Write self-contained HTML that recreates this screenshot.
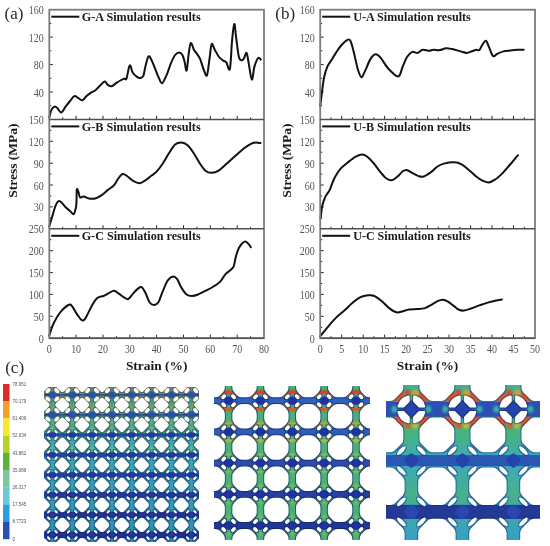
<!DOCTYPE html>
<html><head><meta charset="utf-8"><style>
html,body{margin:0;padding:0;background:#fff;}
svg{display:block;}
.tk{stroke:#222;stroke-width:1;}
.fr{fill:none;stroke:#7c7c7c;stroke-width:1.8;}
.sep{stroke:#505050;stroke-width:1.5;}
.cv{fill:none;stroke:#111;stroke-width:2.0;stroke-linejoin:round;stroke-linecap:round;}
.lg{stroke:#111;stroke-width:2;}
text{font-family:'Liberation Serif', 'DejaVu Serif', serif;}
.yl{font-size:11.6px;fill:#555;text-anchor:end;}
.xl{font-size:11.6px;fill:#555;text-anchor:middle;}
.lt{font-size:12px;font-weight:bold;fill:#1a1a1a;}
.at{font-size:12.3px;font-weight:bold;fill:#1a1a1a;}
.pl{font-size:17px;fill:#2a2a2a;}
.cbl{font-family:'Liberation Sans',sans-serif;font-size:4.5px;fill:#505050;}
</style></head><body>
<svg width="550" height="546" viewBox="0 0 550 546">
<line x1="49.3" y1="92.0" x2="52.8" y2="92.0" class="tk"/>
<line x1="49.3" y1="64.6" x2="52.8" y2="64.6" class="tk"/>
<line x1="49.3" y1="37.1" x2="52.8" y2="37.1" class="tk"/>
<line x1="49.3" y1="105.7" x2="51.3" y2="105.7" class="tk"/>
<line x1="49.3" y1="78.3" x2="51.3" y2="78.3" class="tk"/>
<line x1="49.3" y1="50.8" x2="51.3" y2="50.8" class="tk"/>
<line x1="49.3" y1="23.4" x2="51.3" y2="23.4" class="tk"/>
<line x1="62.7" y1="119.4" x2="62.7" y2="117.4" class="tk"/>
<line x1="76.1" y1="119.4" x2="76.1" y2="115.9" class="tk"/>
<line x1="89.6" y1="119.4" x2="89.6" y2="117.4" class="tk"/>
<line x1="103.0" y1="119.4" x2="103.0" y2="115.9" class="tk"/>
<line x1="116.4" y1="119.4" x2="116.4" y2="117.4" class="tk"/>
<line x1="129.8" y1="119.4" x2="129.8" y2="115.9" class="tk"/>
<line x1="143.2" y1="119.4" x2="143.2" y2="117.4" class="tk"/>
<line x1="156.6" y1="119.4" x2="156.6" y2="115.9" class="tk"/>
<line x1="170.1" y1="119.4" x2="170.1" y2="117.4" class="tk"/>
<line x1="183.5" y1="119.4" x2="183.5" y2="115.9" class="tk"/>
<line x1="196.9" y1="119.4" x2="196.9" y2="117.4" class="tk"/>
<line x1="210.3" y1="119.4" x2="210.3" y2="115.9" class="tk"/>
<line x1="223.7" y1="119.4" x2="223.7" y2="117.4" class="tk"/>
<line x1="237.2" y1="119.4" x2="237.2" y2="115.9" class="tk"/>
<line x1="250.6" y1="119.4" x2="250.6" y2="117.4" class="tk"/>
<text transform="translate(43.8,96.5) scale(0.86,1)" class="yl">40</text>
<text transform="translate(43.8,69.1) scale(0.86,1)" class="yl">80</text>
<text transform="translate(43.8,41.6) scale(0.86,1)" class="yl">120</text>
<text transform="translate(43.8,14.2) scale(0.86,1)" class="yl">160</text>
<line x1="51.3" y1="16.7" x2="79.3" y2="16.7" class="lg"/>
<text x="81.7" y="21.2" class="lt" textLength="119.0" lengthAdjust="spacingAndGlyphs">G-A Simulation results</text>
<path d="M49.2,117.7 C49.6,116.5 50.4,112.2 51.3,110.3 C52.2,108.4 53.4,106.9 54.4,106.6 C55.4,106.3 56.4,107.3 57.5,108.3 C58.6,109.3 59.9,112.8 61.3,112.4 C62.7,112.1 64.4,108.1 65.9,106.2 C67.4,104.3 68.7,102.7 70.1,101.0 C71.5,99.3 72.9,96.6 74.3,96.1 C75.7,95.6 77.1,97.5 78.5,98.2 C79.9,98.9 81.2,100.7 82.6,100.3 C84.0,99.9 85.4,97.0 86.8,95.7 C88.2,94.4 89.6,93.5 91.0,92.6 C92.4,91.7 93.8,91.5 95.2,90.5 C96.6,89.5 97.8,87.8 99.4,86.3 C101.0,84.8 103.2,81.8 104.6,81.5 C106.0,81.2 106.5,84.0 107.7,84.8 C108.9,85.6 110.1,86.6 111.5,86.3 C112.9,86.0 114.6,84.2 116.1,83.2 C117.6,82.2 118.9,81.3 120.3,80.5 C121.7,79.7 123.4,78.9 124.4,78.6 C125.4,78.3 125.6,80.8 126.5,78.6 C127.4,76.4 128.6,66.4 129.7,65.4 C130.8,64.4 131.6,70.8 132.8,72.7 C134.0,74.6 135.8,76.0 137.0,76.9 C138.2,77.8 139.0,78.2 140.1,78.0 C141.2,77.8 142.4,77.8 143.3,75.9 C144.2,74.0 144.5,69.7 145.4,66.4 C146.3,63.2 147.5,57.4 148.5,56.4 C149.5,55.4 150.7,58.5 151.6,60.2 C152.5,61.9 153.1,63.6 154.2,66.4 C155.3,69.2 157.1,74.1 158.4,76.9 C159.7,79.7 160.7,83.6 162.1,83.2 C163.5,82.8 165.2,78.1 166.7,74.8 C168.2,71.5 169.5,66.6 170.9,63.3 C172.3,60.0 173.7,56.8 175.1,55.0 C176.5,53.2 178.1,52.4 179.3,52.4 C180.5,52.4 181.5,53.5 182.4,55.0 C183.3,56.5 183.8,58.6 184.5,61.2 C185.2,63.8 185.9,71.8 186.6,70.6 C187.3,69.4 188.0,58.5 188.7,53.9 C189.4,49.3 189.9,43.7 190.8,43.0 C191.7,42.3 192.9,47.9 193.9,49.7 C194.9,51.5 195.9,52.3 197.0,53.9 C198.1,55.5 199.1,56.7 200.2,59.1 C201.2,61.5 202.2,65.8 203.3,68.5 C204.4,71.2 205.9,77.1 206.9,75.4 C207.9,73.7 208.8,63.3 209.6,58.1 C210.4,52.9 210.8,45.5 211.7,44.1 C212.6,42.7 213.6,47.6 214.8,49.7 C216.0,51.9 217.6,55.2 219.0,57.0 C220.4,58.8 222.0,59.7 223.2,60.6 C224.4,61.5 225.2,60.9 226.3,62.3 C227.4,63.7 229.0,72.5 229.9,69.0 C230.8,65.5 231.3,48.9 232.0,41.4 C232.7,33.9 233.6,24.7 234.3,24.0 C235.0,23.3 235.3,31.7 236.1,37.2 C236.9,42.7 237.9,53.2 238.9,57.0 C239.9,60.8 241.1,60.0 242.0,60.2 C242.9,60.4 243.3,59.3 244.1,58.1 C244.9,56.9 245.8,52.0 246.6,52.9 C247.4,53.8 247.8,58.8 248.7,63.3 C249.6,67.8 250.8,79.1 251.8,79.6 C252.8,80.1 253.4,70.0 254.5,66.4 C255.6,62.8 257.1,59.2 258.1,58.1 C259.2,57.0 260.4,59.4 260.8,59.6" class="cv"/>
<line x1="49.3" y1="206.9" x2="52.8" y2="206.9" class="tk"/>
<line x1="49.3" y1="185.0" x2="52.8" y2="185.0" class="tk"/>
<line x1="49.3" y1="163.2" x2="52.8" y2="163.2" class="tk"/>
<line x1="49.3" y1="141.3" x2="52.8" y2="141.3" class="tk"/>
<line x1="49.3" y1="217.9" x2="51.3" y2="217.9" class="tk"/>
<line x1="49.3" y1="196.0" x2="51.3" y2="196.0" class="tk"/>
<line x1="49.3" y1="174.1" x2="51.3" y2="174.1" class="tk"/>
<line x1="49.3" y1="152.2" x2="51.3" y2="152.2" class="tk"/>
<line x1="49.3" y1="130.3" x2="51.3" y2="130.3" class="tk"/>
<line x1="62.7" y1="228.8" x2="62.7" y2="226.8" class="tk"/>
<line x1="76.1" y1="228.8" x2="76.1" y2="225.3" class="tk"/>
<line x1="89.6" y1="228.8" x2="89.6" y2="226.8" class="tk"/>
<line x1="103.0" y1="228.8" x2="103.0" y2="225.3" class="tk"/>
<line x1="116.4" y1="228.8" x2="116.4" y2="226.8" class="tk"/>
<line x1="129.8" y1="228.8" x2="129.8" y2="225.3" class="tk"/>
<line x1="143.2" y1="228.8" x2="143.2" y2="226.8" class="tk"/>
<line x1="156.6" y1="228.8" x2="156.6" y2="225.3" class="tk"/>
<line x1="170.1" y1="228.8" x2="170.1" y2="226.8" class="tk"/>
<line x1="183.5" y1="228.8" x2="183.5" y2="225.3" class="tk"/>
<line x1="196.9" y1="228.8" x2="196.9" y2="226.8" class="tk"/>
<line x1="210.3" y1="228.8" x2="210.3" y2="225.3" class="tk"/>
<line x1="223.7" y1="228.8" x2="223.7" y2="226.8" class="tk"/>
<line x1="237.2" y1="228.8" x2="237.2" y2="225.3" class="tk"/>
<line x1="250.6" y1="228.8" x2="250.6" y2="226.8" class="tk"/>
<text transform="translate(43.8,211.4) scale(0.86,1)" class="yl">30</text>
<text transform="translate(43.8,189.5) scale(0.86,1)" class="yl">60</text>
<text transform="translate(43.8,167.7) scale(0.86,1)" class="yl">90</text>
<text transform="translate(43.8,145.8) scale(0.86,1)" class="yl">120</text>
<text transform="translate(43.8,123.9) scale(0.86,1)" class="yl">150</text>
<line x1="51.3" y1="126.4" x2="79.3" y2="126.4" class="lg"/>
<text x="81.7" y="130.9" class="lt" textLength="119.0" lengthAdjust="spacingAndGlyphs">G-B Simulation results</text>
<path d="M49.2,226.7 C49.7,225.0 51.2,219.8 52.3,216.3 C53.3,212.8 54.5,208.3 55.5,205.8 C56.5,203.3 57.6,201.7 58.6,201.2 C59.6,200.7 60.5,201.6 61.7,202.7 C62.9,203.8 64.5,206.1 65.9,207.5 C67.3,208.9 68.8,209.9 70.1,211.0 C71.4,212.1 72.7,214.4 73.6,214.2 C74.5,214.0 74.8,211.8 75.3,210.0 C75.8,208.2 76.2,207.1 76.4,203.7 C76.7,200.3 76.5,191.4 76.8,189.5 C77.1,187.6 78.0,190.9 78.5,192.2 C79.0,193.5 79.2,196.7 80.1,197.4 C81.0,198.1 82.2,196.4 83.7,196.6 C85.2,196.8 87.0,198.2 88.9,198.5 C90.8,198.8 93.1,199.0 95.2,198.5 C97.3,198.0 99.3,196.8 101.4,195.4 C103.5,194.0 105.6,191.8 107.7,190.1 C109.8,188.4 112.2,187.2 114.0,185.3 C115.8,183.4 116.7,180.5 118.2,178.6 C119.7,176.7 121.2,174.3 122.8,174.0 C124.4,173.7 125.9,175.4 127.6,176.5 C129.3,177.6 130.8,179.6 132.8,180.7 C134.8,181.8 137.4,183.3 139.5,183.2 C141.6,183.1 143.4,181.6 145.4,180.3 C147.4,179.0 149.8,176.9 151.6,175.5 C153.4,174.1 154.5,173.8 156.3,171.9 C158.1,170.0 160.4,167.1 162.5,164.0 C164.6,160.9 166.7,156.7 168.8,153.5 C170.9,150.3 173.0,146.4 175.1,144.6 C177.2,142.8 179.3,142.4 181.4,142.5 C183.5,142.6 185.5,143.4 187.6,145.2 C189.7,147.0 191.8,150.4 193.9,153.5 C196.0,156.6 198.3,161.1 200.2,164.0 C202.1,166.9 203.5,169.2 205.4,170.7 C207.3,172.2 209.4,172.9 211.7,172.8 C214.0,172.7 216.4,171.9 219.0,170.3 C221.6,168.7 224.6,165.4 227.4,163.0 C230.2,160.6 232.9,158.0 235.7,155.6 C238.5,153.2 241.6,150.2 244.1,148.3 C246.6,146.4 248.5,145.1 250.4,144.1 C252.3,143.1 253.9,142.7 255.6,142.5 C257.3,142.3 259.6,143.0 260.4,143.1" class="cv"/>
<line x1="49.3" y1="316.3" x2="52.8" y2="316.3" class="tk"/>
<line x1="49.3" y1="294.4" x2="52.8" y2="294.4" class="tk"/>
<line x1="49.3" y1="272.6" x2="52.8" y2="272.6" class="tk"/>
<line x1="49.3" y1="250.7" x2="52.8" y2="250.7" class="tk"/>
<line x1="49.3" y1="327.3" x2="51.3" y2="327.3" class="tk"/>
<line x1="49.3" y1="305.4" x2="51.3" y2="305.4" class="tk"/>
<line x1="49.3" y1="283.5" x2="51.3" y2="283.5" class="tk"/>
<line x1="49.3" y1="261.6" x2="51.3" y2="261.6" class="tk"/>
<line x1="49.3" y1="239.7" x2="51.3" y2="239.7" class="tk"/>
<line x1="62.7" y1="338.2" x2="62.7" y2="336.2" class="tk"/>
<line x1="76.1" y1="338.2" x2="76.1" y2="334.7" class="tk"/>
<line x1="89.6" y1="338.2" x2="89.6" y2="336.2" class="tk"/>
<line x1="103.0" y1="338.2" x2="103.0" y2="334.7" class="tk"/>
<line x1="116.4" y1="338.2" x2="116.4" y2="336.2" class="tk"/>
<line x1="129.8" y1="338.2" x2="129.8" y2="334.7" class="tk"/>
<line x1="143.2" y1="338.2" x2="143.2" y2="336.2" class="tk"/>
<line x1="156.6" y1="338.2" x2="156.6" y2="334.7" class="tk"/>
<line x1="170.1" y1="338.2" x2="170.1" y2="336.2" class="tk"/>
<line x1="183.5" y1="338.2" x2="183.5" y2="334.7" class="tk"/>
<line x1="196.9" y1="338.2" x2="196.9" y2="336.2" class="tk"/>
<line x1="210.3" y1="338.2" x2="210.3" y2="334.7" class="tk"/>
<line x1="223.7" y1="338.2" x2="223.7" y2="336.2" class="tk"/>
<line x1="237.2" y1="338.2" x2="237.2" y2="334.7" class="tk"/>
<line x1="250.6" y1="338.2" x2="250.6" y2="336.2" class="tk"/>
<text transform="translate(43.8,342.7) scale(0.86,1)" class="yl">0</text>
<text transform="translate(43.8,320.8) scale(0.86,1)" class="yl">50</text>
<text transform="translate(43.8,298.9) scale(0.86,1)" class="yl">100</text>
<text transform="translate(43.8,277.1) scale(0.86,1)" class="yl">150</text>
<text transform="translate(43.8,255.2) scale(0.86,1)" class="yl">200</text>
<text transform="translate(43.8,233.3) scale(0.86,1)" class="yl">250</text>
<line x1="51.3" y1="235.8" x2="79.3" y2="235.8" class="lg"/>
<text x="81.7" y="240.3" class="lt" textLength="119.0" lengthAdjust="spacingAndGlyphs">G-C Simulation results</text>
<path d="M49.2,335.7 C49.7,334.1 51.1,329.3 52.3,326.3 C53.5,323.3 54.9,320.5 56.5,317.9 C58.1,315.3 59.6,312.8 61.7,310.6 C63.8,308.4 67.2,305.4 69.0,304.7 C70.8,304.0 70.8,304.7 72.2,306.4 C73.6,308.1 75.7,312.4 77.4,314.8 C79.1,317.2 81.0,320.4 82.6,320.6 C84.2,320.8 85.2,318.3 86.8,315.8 C88.4,313.3 90.2,308.4 92.0,305.4 C93.8,302.4 95.4,299.6 97.3,298.0 C99.2,296.4 101.6,296.8 103.5,296.0 C105.4,295.2 107.0,294.1 108.8,293.2 C110.5,292.3 112.3,290.6 114.0,290.7 C115.7,290.8 117.5,292.8 119.2,293.9 C120.9,295.0 122.9,296.7 124.4,297.6 C125.9,298.5 126.8,299.7 128.2,299.1 C129.6,298.5 131.2,295.6 132.8,293.9 C134.4,292.1 136.5,289.7 138.0,288.6 C139.5,287.5 140.4,286.5 141.6,287.2 C142.8,287.9 144.1,290.3 145.4,292.8 C146.7,295.3 148.1,300.2 149.5,302.2 C150.9,304.2 152.2,304.9 153.7,304.9 C155.2,304.9 156.9,304.4 158.4,302.2 C159.9,300.0 160.9,295.4 162.5,291.8 C164.1,288.2 166.1,282.9 167.8,280.3 C169.6,277.8 171.4,276.7 173.0,276.5 C174.6,276.3 175.8,277.3 177.2,279.2 C178.6,281.1 179.8,285.1 181.4,287.6 C183.0,290.2 184.9,293.1 186.6,294.5 C188.3,295.9 189.9,296.0 191.8,296.0 C193.7,296.0 195.7,295.4 198.1,294.5 C200.5,293.6 204.0,291.6 206.4,290.3 C208.8,289.1 210.4,288.4 212.7,287.0 C215.0,285.6 217.9,284.0 220.0,281.9 C222.1,279.8 223.7,276.2 225.3,274.4 C226.9,272.6 228.0,272.2 229.4,270.9 C230.8,269.6 232.6,269.0 233.6,266.7 C234.6,264.4 234.8,260.4 235.7,257.3 C236.6,254.2 237.4,250.5 238.9,247.9 C240.4,245.3 242.9,242.3 244.5,241.6 C246.1,240.9 247.2,242.8 248.3,243.7 C249.4,244.6 250.4,246.6 250.8,247.2" class="cv"/>
<rect x="49.3" y="9.7" width="214.7" height="328.5" class="fr"/>
<line x1="49.3" y1="119.4" x2="264.0" y2="119.4" class="sep"/>
<line x1="49.3" y1="228.8" x2="264.0" y2="228.8" class="sep"/>
<line x1="49.3" y1="338.2" x2="264.0" y2="338.2" class="sep"/>
<text transform="translate(49.3,352.5) scale(0.86,1)" class="xl">0</text>
<text transform="translate(76.1,352.5) scale(0.86,1)" class="xl">10</text>
<text transform="translate(103.0,352.5) scale(0.86,1)" class="xl">20</text>
<text transform="translate(129.8,352.5) scale(0.86,1)" class="xl">30</text>
<text transform="translate(156.6,352.5) scale(0.86,1)" class="xl">40</text>
<text transform="translate(183.5,352.5) scale(0.86,1)" class="xl">50</text>
<text transform="translate(210.3,352.5) scale(0.86,1)" class="xl">60</text>
<text transform="translate(237.2,352.5) scale(0.86,1)" class="xl">70</text>
<text transform="translate(264.0,352.5) scale(0.86,1)" class="xl">80</text>
<text x="125.9" y="369.6" class="at" textLength="61.5" lengthAdjust="spacingAndGlyphs">Strain (%)</text>
<text transform="translate(17.1,197.8) rotate(-90)" class="at" x="0" y="0" textLength="74.4" lengthAdjust="spacingAndGlyphs">Stress (MPa)</text>
<line x1="320.2" y1="92.0" x2="323.7" y2="92.0" class="tk"/>
<line x1="320.2" y1="64.6" x2="323.7" y2="64.6" class="tk"/>
<line x1="320.2" y1="37.1" x2="323.7" y2="37.1" class="tk"/>
<line x1="320.2" y1="105.7" x2="322.2" y2="105.7" class="tk"/>
<line x1="320.2" y1="78.3" x2="322.2" y2="78.3" class="tk"/>
<line x1="320.2" y1="50.8" x2="322.2" y2="50.8" class="tk"/>
<line x1="320.2" y1="23.4" x2="322.2" y2="23.4" class="tk"/>
<line x1="330.9" y1="119.4" x2="330.9" y2="117.4" class="tk"/>
<line x1="341.7" y1="119.4" x2="341.7" y2="115.9" class="tk"/>
<line x1="352.4" y1="119.4" x2="352.4" y2="117.4" class="tk"/>
<line x1="363.2" y1="119.4" x2="363.2" y2="115.9" class="tk"/>
<line x1="373.9" y1="119.4" x2="373.9" y2="117.4" class="tk"/>
<line x1="384.6" y1="119.4" x2="384.6" y2="115.9" class="tk"/>
<line x1="395.4" y1="119.4" x2="395.4" y2="117.4" class="tk"/>
<line x1="406.1" y1="119.4" x2="406.1" y2="115.9" class="tk"/>
<line x1="416.9" y1="119.4" x2="416.9" y2="117.4" class="tk"/>
<line x1="427.6" y1="119.4" x2="427.6" y2="115.9" class="tk"/>
<line x1="438.3" y1="119.4" x2="438.3" y2="117.4" class="tk"/>
<line x1="449.1" y1="119.4" x2="449.1" y2="115.9" class="tk"/>
<line x1="459.8" y1="119.4" x2="459.8" y2="117.4" class="tk"/>
<line x1="470.6" y1="119.4" x2="470.6" y2="115.9" class="tk"/>
<line x1="481.3" y1="119.4" x2="481.3" y2="117.4" class="tk"/>
<line x1="492.0" y1="119.4" x2="492.0" y2="115.9" class="tk"/>
<line x1="502.8" y1="119.4" x2="502.8" y2="117.4" class="tk"/>
<line x1="513.5" y1="119.4" x2="513.5" y2="115.9" class="tk"/>
<line x1="524.3" y1="119.4" x2="524.3" y2="117.4" class="tk"/>
<text transform="translate(314.7,96.5) scale(0.86,1)" class="yl">40</text>
<text transform="translate(314.7,69.1) scale(0.86,1)" class="yl">80</text>
<text transform="translate(314.7,41.6) scale(0.86,1)" class="yl">120</text>
<text transform="translate(314.7,14.2) scale(0.86,1)" class="yl">160</text>
<line x1="322.2" y1="16.7" x2="350.2" y2="16.7" class="lg"/>
<text x="353.2" y="21.2" class="lt" textLength="117.6" lengthAdjust="spacingAndGlyphs">U-A Simulation results</text>
<path d="M320.2,106.2 C320.6,103.4 321.6,94.5 322.3,89.4 C323.0,84.4 323.5,79.7 324.4,75.9 C325.3,72.1 326.3,69.1 327.5,66.4 C328.7,63.7 330.3,62.0 331.7,59.8 C333.1,57.5 334.3,55.3 335.9,52.9 C337.5,50.5 339.2,47.7 341.1,45.5 C343.0,43.3 345.8,40.7 347.4,39.9 C349.0,39.1 349.4,38.9 350.5,40.9 C351.6,42.9 352.5,47.0 353.7,51.8 C354.9,56.6 356.6,65.3 357.9,69.6 C359.2,73.8 360.2,77.1 361.4,77.3 C362.6,77.5 363.7,73.6 365.2,70.6 C366.7,67.6 368.7,61.8 370.4,59.1 C372.1,56.4 373.9,54.5 375.6,54.3 C377.4,54.1 378.8,55.7 380.9,58.1 C383.0,60.5 385.3,65.4 388.2,68.5 C391.1,71.6 395.8,76.8 398.2,76.5 C400.6,76.2 401.3,69.7 402.8,66.4 C404.3,63.2 405.4,59.4 407.0,57.0 C408.6,54.6 410.5,52.5 412.2,51.8 C413.9,51.1 415.6,53.2 417.4,52.9 C419.1,52.5 420.7,50.1 422.7,49.7 C424.7,49.4 427.4,50.8 429.2,50.8 C431.0,50.8 431.7,49.8 433.4,49.7 C435.1,49.6 437.5,50.3 439.6,50.1 C441.7,49.9 443.8,48.5 445.9,48.3 C448.0,48.1 449.8,48.6 452.2,49.1 C454.6,49.6 458.1,50.8 460.5,51.4 C462.9,52.0 464.9,52.9 466.8,52.9 C468.7,52.9 470.4,51.7 472.0,51.2 C473.6,50.7 475.0,49.9 476.2,49.7 C477.4,49.5 478.3,51.0 479.4,50.1 C480.4,49.2 481.4,46.1 482.5,44.5 C483.6,42.9 484.9,40.4 486.0,40.7 C487.1,41.1 487.6,44.1 488.8,46.6 C490.0,49.1 491.6,54.8 493.0,56.0 C494.4,57.2 495.4,54.7 497.1,53.9 C498.8,53.1 501.1,52.0 503.4,51.4 C505.7,50.8 508.4,50.7 510.7,50.4 C513.0,50.1 514.8,49.8 517.0,49.7 C519.2,49.6 522.6,49.7 523.7,49.7" class="cv"/>
<line x1="320.2" y1="206.9" x2="323.7" y2="206.9" class="tk"/>
<line x1="320.2" y1="185.0" x2="323.7" y2="185.0" class="tk"/>
<line x1="320.2" y1="163.2" x2="323.7" y2="163.2" class="tk"/>
<line x1="320.2" y1="141.3" x2="323.7" y2="141.3" class="tk"/>
<line x1="320.2" y1="217.9" x2="322.2" y2="217.9" class="tk"/>
<line x1="320.2" y1="196.0" x2="322.2" y2="196.0" class="tk"/>
<line x1="320.2" y1="174.1" x2="322.2" y2="174.1" class="tk"/>
<line x1="320.2" y1="152.2" x2="322.2" y2="152.2" class="tk"/>
<line x1="320.2" y1="130.3" x2="322.2" y2="130.3" class="tk"/>
<line x1="330.9" y1="228.8" x2="330.9" y2="226.8" class="tk"/>
<line x1="341.7" y1="228.8" x2="341.7" y2="225.3" class="tk"/>
<line x1="352.4" y1="228.8" x2="352.4" y2="226.8" class="tk"/>
<line x1="363.2" y1="228.8" x2="363.2" y2="225.3" class="tk"/>
<line x1="373.9" y1="228.8" x2="373.9" y2="226.8" class="tk"/>
<line x1="384.6" y1="228.8" x2="384.6" y2="225.3" class="tk"/>
<line x1="395.4" y1="228.8" x2="395.4" y2="226.8" class="tk"/>
<line x1="406.1" y1="228.8" x2="406.1" y2="225.3" class="tk"/>
<line x1="416.9" y1="228.8" x2="416.9" y2="226.8" class="tk"/>
<line x1="427.6" y1="228.8" x2="427.6" y2="225.3" class="tk"/>
<line x1="438.3" y1="228.8" x2="438.3" y2="226.8" class="tk"/>
<line x1="449.1" y1="228.8" x2="449.1" y2="225.3" class="tk"/>
<line x1="459.8" y1="228.8" x2="459.8" y2="226.8" class="tk"/>
<line x1="470.6" y1="228.8" x2="470.6" y2="225.3" class="tk"/>
<line x1="481.3" y1="228.8" x2="481.3" y2="226.8" class="tk"/>
<line x1="492.0" y1="228.8" x2="492.0" y2="225.3" class="tk"/>
<line x1="502.8" y1="228.8" x2="502.8" y2="226.8" class="tk"/>
<line x1="513.5" y1="228.8" x2="513.5" y2="225.3" class="tk"/>
<line x1="524.3" y1="228.8" x2="524.3" y2="226.8" class="tk"/>
<text transform="translate(314.7,211.4) scale(0.86,1)" class="yl">30</text>
<text transform="translate(314.7,189.5) scale(0.86,1)" class="yl">60</text>
<text transform="translate(314.7,167.7) scale(0.86,1)" class="yl">90</text>
<text transform="translate(314.7,145.8) scale(0.86,1)" class="yl">120</text>
<text transform="translate(314.7,123.9) scale(0.86,1)" class="yl">150</text>
<line x1="322.2" y1="126.4" x2="350.2" y2="126.4" class="lg"/>
<text x="353.2" y="130.9" class="lt" textLength="117.6" lengthAdjust="spacingAndGlyphs">U-B Simulation results</text>
<path d="M320.6,218.4 C320.9,216.3 321.5,209.5 322.3,205.8 C323.1,202.1 324.3,199.0 325.5,196.4 C326.7,193.8 328.4,192.5 329.6,190.1 C330.8,187.7 331.8,184.2 332.8,181.8 C333.9,179.4 334.5,177.8 335.9,175.5 C337.3,173.2 339.0,170.5 341.1,168.2 C343.2,165.9 346.1,163.8 348.5,161.9 C350.9,160.0 353.6,157.9 355.8,156.7 C358.1,155.5 360.1,154.6 362.0,154.6 C363.9,154.6 365.4,155.3 367.3,156.7 C369.2,158.1 371.4,160.6 373.5,163.0 C375.6,165.4 377.7,168.8 379.8,171.3 C381.9,173.8 384.1,176.7 386.1,178.2 C388.1,179.7 390.0,180.6 391.9,180.3 C393.8,180.0 395.8,178.0 397.6,176.5 C399.4,175.0 401.3,172.4 402.8,171.3 C404.3,170.2 405.0,169.7 406.6,169.9 C408.2,170.2 410.2,171.8 412.2,172.8 C414.2,173.8 416.6,175.5 418.5,176.1 C420.4,176.7 421.6,177.2 423.7,176.5 C425.8,175.8 429.0,173.6 431.3,171.9 C433.6,170.2 435.4,167.9 437.5,166.5 C439.6,165.1 441.0,164.3 443.8,163.6 C446.6,162.9 451.3,162.2 454.3,162.3 C457.3,162.4 459.2,163.1 461.6,164.4 C464.0,165.7 466.5,167.9 468.9,169.9 C471.3,171.9 473.9,174.7 476.2,176.5 C478.5,178.3 480.4,179.7 482.5,180.7 C484.6,181.7 486.7,182.6 488.8,182.4 C490.9,182.2 492.7,181.2 495.0,179.7 C497.3,178.2 499.9,175.8 502.4,173.4 C504.8,171.0 507.1,168.0 509.7,165.0 C512.3,162.0 516.6,156.8 518.0,155.2" class="cv"/>
<line x1="320.2" y1="316.3" x2="323.7" y2="316.3" class="tk"/>
<line x1="320.2" y1="294.4" x2="323.7" y2="294.4" class="tk"/>
<line x1="320.2" y1="272.6" x2="323.7" y2="272.6" class="tk"/>
<line x1="320.2" y1="250.7" x2="323.7" y2="250.7" class="tk"/>
<line x1="320.2" y1="327.3" x2="322.2" y2="327.3" class="tk"/>
<line x1="320.2" y1="305.4" x2="322.2" y2="305.4" class="tk"/>
<line x1="320.2" y1="283.5" x2="322.2" y2="283.5" class="tk"/>
<line x1="320.2" y1="261.6" x2="322.2" y2="261.6" class="tk"/>
<line x1="320.2" y1="239.7" x2="322.2" y2="239.7" class="tk"/>
<line x1="330.9" y1="338.2" x2="330.9" y2="336.2" class="tk"/>
<line x1="341.7" y1="338.2" x2="341.7" y2="334.7" class="tk"/>
<line x1="352.4" y1="338.2" x2="352.4" y2="336.2" class="tk"/>
<line x1="363.2" y1="338.2" x2="363.2" y2="334.7" class="tk"/>
<line x1="373.9" y1="338.2" x2="373.9" y2="336.2" class="tk"/>
<line x1="384.6" y1="338.2" x2="384.6" y2="334.7" class="tk"/>
<line x1="395.4" y1="338.2" x2="395.4" y2="336.2" class="tk"/>
<line x1="406.1" y1="338.2" x2="406.1" y2="334.7" class="tk"/>
<line x1="416.9" y1="338.2" x2="416.9" y2="336.2" class="tk"/>
<line x1="427.6" y1="338.2" x2="427.6" y2="334.7" class="tk"/>
<line x1="438.3" y1="338.2" x2="438.3" y2="336.2" class="tk"/>
<line x1="449.1" y1="338.2" x2="449.1" y2="334.7" class="tk"/>
<line x1="459.8" y1="338.2" x2="459.8" y2="336.2" class="tk"/>
<line x1="470.6" y1="338.2" x2="470.6" y2="334.7" class="tk"/>
<line x1="481.3" y1="338.2" x2="481.3" y2="336.2" class="tk"/>
<line x1="492.0" y1="338.2" x2="492.0" y2="334.7" class="tk"/>
<line x1="502.8" y1="338.2" x2="502.8" y2="336.2" class="tk"/>
<line x1="513.5" y1="338.2" x2="513.5" y2="334.7" class="tk"/>
<line x1="524.3" y1="338.2" x2="524.3" y2="336.2" class="tk"/>
<text transform="translate(314.7,342.7) scale(0.86,1)" class="yl">0</text>
<text transform="translate(314.7,320.8) scale(0.86,1)" class="yl">50</text>
<text transform="translate(314.7,298.9) scale(0.86,1)" class="yl">100</text>
<text transform="translate(314.7,277.1) scale(0.86,1)" class="yl">150</text>
<text transform="translate(314.7,255.2) scale(0.86,1)" class="yl">200</text>
<text transform="translate(314.7,233.3) scale(0.86,1)" class="yl">250</text>
<line x1="322.2" y1="235.8" x2="350.2" y2="235.8" class="lg"/>
<text x="353.2" y="240.3" class="lt" textLength="117.6" lengthAdjust="spacingAndGlyphs">U-C Simulation results</text>
<path d="M320.2,336.3 C321.4,334.8 324.9,330.4 327.5,327.3 C330.1,324.2 333.1,320.7 335.9,317.9 C338.7,315.1 341.5,313.1 344.3,310.6 C347.1,308.1 350.0,305.0 352.6,302.8 C355.2,300.6 357.7,298.6 360.0,297.4 C362.3,296.2 364.5,295.9 366.2,295.5 C367.9,295.1 368.8,295.1 370.4,295.3 C372.0,295.5 373.7,295.6 375.6,296.6 C377.5,297.6 379.6,299.3 381.9,301.2 C384.2,303.1 386.8,306.2 389.2,308.1 C391.6,310.0 394.2,311.8 396.5,312.3 C398.8,312.8 400.7,311.7 402.8,311.2 C404.9,310.7 406.7,309.9 409.1,309.5 C411.5,309.1 414.8,309.3 417.4,309.1 C420.0,308.9 422.7,308.8 425.0,308.1 C427.3,307.4 429.2,306.0 431.3,304.9 C433.4,303.8 435.6,302.1 437.5,301.2 C439.4,300.3 441.1,299.6 442.8,299.7 C444.6,299.8 446.1,300.5 448.0,301.6 C449.9,302.7 452.6,305.1 454.3,306.4 C456.1,307.7 456.9,308.8 458.5,309.5 C460.1,310.2 461.6,310.8 463.7,310.6 C465.8,310.4 468.4,309.4 471.0,308.5 C473.6,307.6 476.6,306.4 479.4,305.4 C482.2,304.4 484.9,303.4 487.7,302.6 C490.5,301.8 493.7,301.0 496.1,300.5 C498.5,300.0 500.9,299.7 501.9,299.5" class="cv"/>
<rect x="320.2" y="9.7" width="214.8" height="328.5" class="fr"/>
<line x1="320.2" y1="119.4" x2="535" y2="119.4" class="sep"/>
<line x1="320.2" y1="228.8" x2="535" y2="228.8" class="sep"/>
<line x1="320.2" y1="338.2" x2="535" y2="338.2" class="sep"/>
<text transform="translate(320.2,352.5) scale(0.86,1)" class="xl">0</text>
<text transform="translate(341.7,352.5) scale(0.86,1)" class="xl">5</text>
<text transform="translate(363.2,352.5) scale(0.86,1)" class="xl">10</text>
<text transform="translate(384.6,352.5) scale(0.86,1)" class="xl">15</text>
<text transform="translate(406.1,352.5) scale(0.86,1)" class="xl">20</text>
<text transform="translate(427.6,352.5) scale(0.86,1)" class="xl">25</text>
<text transform="translate(449.1,352.5) scale(0.86,1)" class="xl">30</text>
<text transform="translate(470.6,352.5) scale(0.86,1)" class="xl">35</text>
<text transform="translate(492.0,352.5) scale(0.86,1)" class="xl">40</text>
<text transform="translate(513.5,352.5) scale(0.86,1)" class="xl">45</text>
<text transform="translate(535.0,352.5) scale(0.86,1)" class="xl">50</text>
<text x="396.8" y="369.6" class="at" textLength="61.5" lengthAdjust="spacingAndGlyphs">Strain (%)</text>
<text transform="translate(291.2,197.8) rotate(-90)" class="at" x="0" y="0" textLength="74.4" lengthAdjust="spacingAndGlyphs">Stress (MPa)</text>
<text x="4.6" y="19.4" class="pl">(a)</text>
<text x="275.3" y="19.4" class="pl">(b)</text>
<text x="5.2" y="372.5" class="pl">(c)</text>
<rect x="3" y="384.0" width="6.5" height="17.4" fill="#e02a2a"/>
<rect x="3" y="401.2" width="6.5" height="17.4" fill="#f2a12a"/>
<rect x="3" y="418.4" width="6.5" height="17.4" fill="#f5e92a"/>
<rect x="3" y="435.7" width="6.5" height="17.4" fill="#b6d12a"/>
<rect x="3" y="452.9" width="6.5" height="17.4" fill="#5db33a"/>
<rect x="3" y="470.1" width="6.5" height="17.4" fill="#7cc6a0"/>
<rect x="3" y="487.3" width="6.5" height="17.4" fill="#6ec6dc"/>
<rect x="3" y="504.5" width="6.5" height="17.4" fill="#2a9ee0"/>
<rect x="3" y="521.8" width="6.5" height="17.4" fill="#2a4fb0"/>
<text x="12.5" y="385.6" class="cbl">78.951</text>
<text x="12.5" y="402.8" class="cbl">70.179</text>
<text x="12.5" y="420.0" class="cbl">61.406</text>
<text x="12.5" y="437.3" class="cbl">52.634</text>
<text x="12.5" y="454.5" class="cbl">43.862</text>
<text x="12.5" y="471.7" class="cbl">35.089</text>
<text x="12.5" y="488.9" class="cbl">26.317</text>
<text x="12.5" y="506.1" class="cbl">17.545</text>
<text x="12.5" y="523.4" class="cbl">8.7723</text>
<text x="12.5" y="540.6" class="cbl">0</text>
<defs><linearGradient id="g1" x1="0" y1="0" x2="0" y2="1"><stop offset="0" stop-color="#a8b848"/><stop offset="0.25" stop-color="#56b47a"/><stop offset="0.55" stop-color="#3aaeb0"/><stop offset="1" stop-color="#2c8cb4"/></linearGradient><linearGradient id="g3r" x1="0" y1="0" x2="0" y2="1"><stop offset="0" stop-color="#d8702c"/><stop offset="0.25" stop-color="#d8482a"/><stop offset="0.38" stop-color="#e0b030"/><stop offset="0.45" stop-color="#3a90c8"/><stop offset="0.55" stop-color="#3a90c8"/><stop offset="0.62" stop-color="#d0c030"/><stop offset="0.75" stop-color="#d8482a"/><stop offset="1" stop-color="#d8802c"/></linearGradient><linearGradient id="g2r" x1="0" y1="0" x2="0" y2="1"><stop offset="0" stop-color="#d83a24"/><stop offset="0.25" stop-color="#e0a030"/><stop offset="0.5" stop-color="#50b070"/><stop offset="0.75" stop-color="#e0a030"/><stop offset="1" stop-color="#d84a24"/></linearGradient><linearGradient id="g3v" gradientUnits="userSpaceOnUse" x1="0" y1="385" x2="0" y2="540"><stop offset="0" stop-color="#40b090"/><stop offset="0.3" stop-color="#48b478"/><stop offset="0.5" stop-color="#3aaac0"/><stop offset="0.7" stop-color="#48b088"/><stop offset="1" stop-color="#34a0c8"/></linearGradient><filter id="sb" x="-5%" y="-5%" width="110%" height="110%"><feGaussianBlur stdDeviation="1.1"/></filter><filter id="fh1" x="-5%" y="-5%" width="110%" height="110%"><feMorphology in="SourceAlpha" operator="dilate" radius="0.5"/><feGaussianBlur stdDeviation="0.4" result="d"/><feFlood flood-color="#14205a" flood-opacity="0.5"/><feComposite in2="d" operator="in"/></filter><filter id="fh2" x="-5%" y="-5%" width="110%" height="110%"><feMorphology in="SourceAlpha" operator="dilate" radius="0.9"/><feGaussianBlur stdDeviation="0.5" result="d"/><feFlood flood-color="#14205a" flood-opacity="0.6"/><feComposite in2="d" operator="in"/></filter><filter id="fh3" x="-5%" y="-5%" width="110%" height="110%"><feMorphology in="SourceAlpha" operator="dilate" radius="0.8"/><feGaussianBlur stdDeviation="0.6" result="d"/><feFlood flood-color="#14205a" flood-opacity="0.45"/><feComposite in2="d" operator="in"/></filter></defs>
<clipPath id="c1"><rect x="44" y="387" width="155.0" height="155.0"/></clipPath>
<clipPath id="c2"><rect x="214" y="386" width="156.0" height="154.0"/></clipPath>
<clipPath id="c3"><rect x="386" y="385" width="154.0" height="155.0"/></clipPath>
<g clip-path="url(#c1)"><rect x="44" y="387" width="155.00" height="155.00" fill="url(#g1)"/>
<ellipse cx="52.40" cy="394.90" rx="6.00" ry="4.60" fill="#8cb850"/>
<ellipse cx="52.40" cy="414.90" rx="6.00" ry="4.71" fill="#5cb070"/>
<ellipse cx="52.40" cy="434.90" rx="6.00" ry="4.83" fill="#3a9cb0"/>
<ellipse cx="52.40" cy="454.90" rx="6.00" ry="4.94" fill="#2e84bc"/>
<ellipse cx="52.40" cy="474.90" rx="6.00" ry="5.06" fill="#2a6cbc"/>
<ellipse cx="52.40" cy="494.90" rx="6.00" ry="5.17" fill="#285cb4"/>
<ellipse cx="52.40" cy="514.90" rx="6.00" ry="5.29" fill="#2650b0"/>
<ellipse cx="52.40" cy="534.90" rx="6.00" ry="5.40" fill="#2448ac"/>
<ellipse cx="72.25" cy="394.90" rx="6.00" ry="4.60" fill="#8cb850"/>
<ellipse cx="72.25" cy="414.90" rx="6.00" ry="4.71" fill="#5cb070"/>
<ellipse cx="72.25" cy="434.90" rx="6.00" ry="4.83" fill="#3a9cb0"/>
<ellipse cx="72.25" cy="454.90" rx="6.00" ry="4.94" fill="#2e84bc"/>
<ellipse cx="72.25" cy="474.90" rx="6.00" ry="5.06" fill="#2a6cbc"/>
<ellipse cx="72.25" cy="494.90" rx="6.00" ry="5.17" fill="#285cb4"/>
<ellipse cx="72.25" cy="514.90" rx="6.00" ry="5.29" fill="#2650b0"/>
<ellipse cx="72.25" cy="534.90" rx="6.00" ry="5.40" fill="#2448ac"/>
<ellipse cx="92.10" cy="394.90" rx="6.00" ry="4.60" fill="#8cb850"/>
<ellipse cx="92.10" cy="414.90" rx="6.00" ry="4.71" fill="#5cb070"/>
<ellipse cx="92.10" cy="434.90" rx="6.00" ry="4.83" fill="#3a9cb0"/>
<ellipse cx="92.10" cy="454.90" rx="6.00" ry="4.94" fill="#2e84bc"/>
<ellipse cx="92.10" cy="474.90" rx="6.00" ry="5.06" fill="#2a6cbc"/>
<ellipse cx="92.10" cy="494.90" rx="6.00" ry="5.17" fill="#285cb4"/>
<ellipse cx="92.10" cy="514.90" rx="6.00" ry="5.29" fill="#2650b0"/>
<ellipse cx="92.10" cy="534.90" rx="6.00" ry="5.40" fill="#2448ac"/>
<ellipse cx="111.95" cy="394.90" rx="6.00" ry="4.60" fill="#8cb850"/>
<ellipse cx="111.95" cy="414.90" rx="6.00" ry="4.71" fill="#5cb070"/>
<ellipse cx="111.95" cy="434.90" rx="6.00" ry="4.83" fill="#3a9cb0"/>
<ellipse cx="111.95" cy="454.90" rx="6.00" ry="4.94" fill="#2e84bc"/>
<ellipse cx="111.95" cy="474.90" rx="6.00" ry="5.06" fill="#2a6cbc"/>
<ellipse cx="111.95" cy="494.90" rx="6.00" ry="5.17" fill="#285cb4"/>
<ellipse cx="111.95" cy="514.90" rx="6.00" ry="5.29" fill="#2650b0"/>
<ellipse cx="111.95" cy="534.90" rx="6.00" ry="5.40" fill="#2448ac"/>
<ellipse cx="131.80" cy="394.90" rx="6.00" ry="4.60" fill="#8cb850"/>
<ellipse cx="131.80" cy="414.90" rx="6.00" ry="4.71" fill="#5cb070"/>
<ellipse cx="131.80" cy="434.90" rx="6.00" ry="4.83" fill="#3a9cb0"/>
<ellipse cx="131.80" cy="454.90" rx="6.00" ry="4.94" fill="#2e84bc"/>
<ellipse cx="131.80" cy="474.90" rx="6.00" ry="5.06" fill="#2a6cbc"/>
<ellipse cx="131.80" cy="494.90" rx="6.00" ry="5.17" fill="#285cb4"/>
<ellipse cx="131.80" cy="514.90" rx="6.00" ry="5.29" fill="#2650b0"/>
<ellipse cx="131.80" cy="534.90" rx="6.00" ry="5.40" fill="#2448ac"/>
<ellipse cx="151.65" cy="394.90" rx="6.00" ry="4.60" fill="#8cb850"/>
<ellipse cx="151.65" cy="414.90" rx="6.00" ry="4.71" fill="#5cb070"/>
<ellipse cx="151.65" cy="434.90" rx="6.00" ry="4.83" fill="#3a9cb0"/>
<ellipse cx="151.65" cy="454.90" rx="6.00" ry="4.94" fill="#2e84bc"/>
<ellipse cx="151.65" cy="474.90" rx="6.00" ry="5.06" fill="#2a6cbc"/>
<ellipse cx="151.65" cy="494.90" rx="6.00" ry="5.17" fill="#285cb4"/>
<ellipse cx="151.65" cy="514.90" rx="6.00" ry="5.29" fill="#2650b0"/>
<ellipse cx="151.65" cy="534.90" rx="6.00" ry="5.40" fill="#2448ac"/>
<ellipse cx="171.50" cy="394.90" rx="6.00" ry="4.60" fill="#8cb850"/>
<ellipse cx="171.50" cy="414.90" rx="6.00" ry="4.71" fill="#5cb070"/>
<ellipse cx="171.50" cy="434.90" rx="6.00" ry="4.83" fill="#3a9cb0"/>
<ellipse cx="171.50" cy="454.90" rx="6.00" ry="4.94" fill="#2e84bc"/>
<ellipse cx="171.50" cy="474.90" rx="6.00" ry="5.06" fill="#2a6cbc"/>
<ellipse cx="171.50" cy="494.90" rx="6.00" ry="5.17" fill="#285cb4"/>
<ellipse cx="171.50" cy="514.90" rx="6.00" ry="5.29" fill="#2650b0"/>
<ellipse cx="171.50" cy="534.90" rx="6.00" ry="5.40" fill="#2448ac"/>
<ellipse cx="191.35" cy="394.90" rx="6.00" ry="4.60" fill="#8cb850"/>
<ellipse cx="191.35" cy="414.90" rx="6.00" ry="4.71" fill="#5cb070"/>
<ellipse cx="191.35" cy="434.90" rx="6.00" ry="4.83" fill="#3a9cb0"/>
<ellipse cx="191.35" cy="454.90" rx="6.00" ry="4.94" fill="#2e84bc"/>
<ellipse cx="191.35" cy="474.90" rx="6.00" ry="5.06" fill="#2a6cbc"/>
<ellipse cx="191.35" cy="494.90" rx="6.00" ry="5.17" fill="#285cb4"/>
<ellipse cx="191.35" cy="514.90" rx="6.00" ry="5.29" fill="#2650b0"/>
<ellipse cx="191.35" cy="534.90" rx="6.00" ry="5.40" fill="#2448ac"/>
<rect x="51.40" y="387.00" width="2.00" height="7.90" fill="#3a9a90"/>
<rect x="51.40" y="394.90" width="2.00" height="20.00" fill="#3a9a90"/>
<rect x="51.26" y="414.90" width="2.29" height="20.00" fill="#3aa0a0"/>
<rect x="51.11" y="434.90" width="2.57" height="20.00" fill="#36a8bc"/>
<rect x="50.97" y="454.90" width="2.86" height="20.00" fill="#34a4bc"/>
<rect x="50.83" y="474.90" width="3.14" height="20.00" fill="#32a0bc"/>
<rect x="50.69" y="494.90" width="3.43" height="20.00" fill="#309ab8"/>
<rect x="50.54" y="514.90" width="3.71" height="20.00" fill="#2e94b4"/>
<rect x="50.40" y="534.90" width="4.00" height="7.10" fill="#2c8cb0"/>
<rect x="71.25" y="387.00" width="2.00" height="7.90" fill="#3a9a90"/>
<rect x="71.25" y="394.90" width="2.00" height="20.00" fill="#3a9a90"/>
<rect x="71.11" y="414.90" width="2.29" height="20.00" fill="#3aa0a0"/>
<rect x="70.96" y="434.90" width="2.57" height="20.00" fill="#36a8bc"/>
<rect x="70.82" y="454.90" width="2.86" height="20.00" fill="#34a4bc"/>
<rect x="70.68" y="474.90" width="3.14" height="20.00" fill="#32a0bc"/>
<rect x="70.54" y="494.90" width="3.43" height="20.00" fill="#309ab8"/>
<rect x="70.39" y="514.90" width="3.71" height="20.00" fill="#2e94b4"/>
<rect x="70.25" y="534.90" width="4.00" height="7.10" fill="#2c8cb0"/>
<rect x="91.10" y="387.00" width="2.00" height="7.90" fill="#3a9a90"/>
<rect x="91.10" y="394.90" width="2.00" height="20.00" fill="#3a9a90"/>
<rect x="90.96" y="414.90" width="2.29" height="20.00" fill="#3aa0a0"/>
<rect x="90.81" y="434.90" width="2.57" height="20.00" fill="#36a8bc"/>
<rect x="90.67" y="454.90" width="2.86" height="20.00" fill="#34a4bc"/>
<rect x="90.53" y="474.90" width="3.14" height="20.00" fill="#32a0bc"/>
<rect x="90.39" y="494.90" width="3.43" height="20.00" fill="#309ab8"/>
<rect x="90.24" y="514.90" width="3.71" height="20.00" fill="#2e94b4"/>
<rect x="90.10" y="534.90" width="4.00" height="7.10" fill="#2c8cb0"/>
<rect x="110.95" y="387.00" width="2.00" height="7.90" fill="#3a9a90"/>
<rect x="110.95" y="394.90" width="2.00" height="20.00" fill="#3a9a90"/>
<rect x="110.81" y="414.90" width="2.29" height="20.00" fill="#3aa0a0"/>
<rect x="110.66" y="434.90" width="2.57" height="20.00" fill="#36a8bc"/>
<rect x="110.52" y="454.90" width="2.86" height="20.00" fill="#34a4bc"/>
<rect x="110.38" y="474.90" width="3.14" height="20.00" fill="#32a0bc"/>
<rect x="110.24" y="494.90" width="3.43" height="20.00" fill="#309ab8"/>
<rect x="110.09" y="514.90" width="3.71" height="20.00" fill="#2e94b4"/>
<rect x="109.95" y="534.90" width="4.00" height="7.10" fill="#2c8cb0"/>
<rect x="130.80" y="387.00" width="2.00" height="7.90" fill="#3a9a90"/>
<rect x="130.80" y="394.90" width="2.00" height="20.00" fill="#3a9a90"/>
<rect x="130.66" y="414.90" width="2.29" height="20.00" fill="#3aa0a0"/>
<rect x="130.51" y="434.90" width="2.57" height="20.00" fill="#36a8bc"/>
<rect x="130.37" y="454.90" width="2.86" height="20.00" fill="#34a4bc"/>
<rect x="130.23" y="474.90" width="3.14" height="20.00" fill="#32a0bc"/>
<rect x="130.09" y="494.90" width="3.43" height="20.00" fill="#309ab8"/>
<rect x="129.94" y="514.90" width="3.71" height="20.00" fill="#2e94b4"/>
<rect x="129.80" y="534.90" width="4.00" height="7.10" fill="#2c8cb0"/>
<rect x="150.65" y="387.00" width="2.00" height="7.90" fill="#3a9a90"/>
<rect x="150.65" y="394.90" width="2.00" height="20.00" fill="#3a9a90"/>
<rect x="150.51" y="414.90" width="2.29" height="20.00" fill="#3aa0a0"/>
<rect x="150.36" y="434.90" width="2.57" height="20.00" fill="#36a8bc"/>
<rect x="150.22" y="454.90" width="2.86" height="20.00" fill="#34a4bc"/>
<rect x="150.08" y="474.90" width="3.14" height="20.00" fill="#32a0bc"/>
<rect x="149.94" y="494.90" width="3.43" height="20.00" fill="#309ab8"/>
<rect x="149.79" y="514.90" width="3.71" height="20.00" fill="#2e94b4"/>
<rect x="149.65" y="534.90" width="4.00" height="7.10" fill="#2c8cb0"/>
<rect x="170.50" y="387.00" width="2.00" height="7.90" fill="#3a9a90"/>
<rect x="170.50" y="394.90" width="2.00" height="20.00" fill="#3a9a90"/>
<rect x="170.36" y="414.90" width="2.29" height="20.00" fill="#3aa0a0"/>
<rect x="170.21" y="434.90" width="2.57" height="20.00" fill="#36a8bc"/>
<rect x="170.07" y="454.90" width="2.86" height="20.00" fill="#34a4bc"/>
<rect x="169.93" y="474.90" width="3.14" height="20.00" fill="#32a0bc"/>
<rect x="169.79" y="494.90" width="3.43" height="20.00" fill="#309ab8"/>
<rect x="169.64" y="514.90" width="3.71" height="20.00" fill="#2e94b4"/>
<rect x="169.50" y="534.90" width="4.00" height="7.10" fill="#2c8cb0"/>
<rect x="190.35" y="387.00" width="2.00" height="7.90" fill="#3a9a90"/>
<rect x="190.35" y="394.90" width="2.00" height="20.00" fill="#3a9a90"/>
<rect x="190.21" y="414.90" width="2.29" height="20.00" fill="#3aa0a0"/>
<rect x="190.06" y="434.90" width="2.57" height="20.00" fill="#36a8bc"/>
<rect x="189.92" y="454.90" width="2.86" height="20.00" fill="#34a4bc"/>
<rect x="189.78" y="474.90" width="3.14" height="20.00" fill="#32a0bc"/>
<rect x="189.64" y="494.90" width="3.43" height="20.00" fill="#309ab8"/>
<rect x="189.49" y="514.90" width="3.71" height="20.00" fill="#2e94b4"/>
<rect x="189.35" y="534.90" width="4.00" height="7.10" fill="#2c8cb0"/>
<rect x="44.00" y="394.20" width="8.40" height="1.40" fill="#1c2c78"/>
<rect x="52.40" y="394.20" width="19.85" height="1.40" fill="#1c2c78"/>
<rect x="72.25" y="394.20" width="19.85" height="1.40" fill="#1c2c78"/>
<rect x="92.10" y="394.20" width="19.85" height="1.40" fill="#1c2c78"/>
<rect x="111.95" y="394.20" width="19.85" height="1.40" fill="#1c2c78"/>
<rect x="131.80" y="394.20" width="19.85" height="1.40" fill="#1c2c78"/>
<rect x="151.65" y="394.20" width="19.85" height="1.40" fill="#1c2c78"/>
<rect x="171.50" y="394.20" width="19.85" height="1.40" fill="#1c2c78"/>
<rect x="191.35" y="394.20" width="7.65" height="1.40" fill="#1c2c78"/>
<rect x="44.00" y="414.20" width="8.40" height="1.40" fill="#1c2c78"/>
<rect x="52.40" y="414.20" width="19.85" height="1.40" fill="#1c2c78"/>
<rect x="72.25" y="414.20" width="19.85" height="1.40" fill="#1c2c78"/>
<rect x="92.10" y="414.20" width="19.85" height="1.40" fill="#1c2c78"/>
<rect x="111.95" y="414.20" width="19.85" height="1.40" fill="#1c2c78"/>
<rect x="131.80" y="414.20" width="19.85" height="1.40" fill="#1c2c78"/>
<rect x="151.65" y="414.20" width="19.85" height="1.40" fill="#1c2c78"/>
<rect x="171.50" y="414.20" width="19.85" height="1.40" fill="#1c2c78"/>
<rect x="191.35" y="414.20" width="7.65" height="1.40" fill="#1c2c78"/>
<rect x="44.00" y="433.19" width="8.40" height="3.43" fill="#2648aa"/>
<rect x="52.40" y="433.19" width="19.85" height="3.43" fill="#2648aa"/>
<rect x="72.25" y="433.19" width="19.85" height="3.43" fill="#2648aa"/>
<rect x="92.10" y="433.19" width="19.85" height="3.43" fill="#2648aa"/>
<rect x="111.95" y="433.19" width="19.85" height="3.43" fill="#2648aa"/>
<rect x="131.80" y="433.19" width="19.85" height="3.43" fill="#2648aa"/>
<rect x="151.65" y="433.19" width="19.85" height="3.43" fill="#2648aa"/>
<rect x="171.50" y="433.19" width="19.85" height="3.43" fill="#2648aa"/>
<rect x="191.35" y="433.19" width="7.65" height="3.43" fill="#2648aa"/>
<rect x="44.00" y="452.83" width="8.40" height="4.14" fill="#2444a8"/>
<rect x="52.40" y="452.83" width="19.85" height="4.14" fill="#2444a8"/>
<rect x="72.25" y="452.83" width="19.85" height="4.14" fill="#2444a8"/>
<rect x="92.10" y="452.83" width="19.85" height="4.14" fill="#2444a8"/>
<rect x="111.95" y="452.83" width="19.85" height="4.14" fill="#2444a8"/>
<rect x="131.80" y="452.83" width="19.85" height="4.14" fill="#2444a8"/>
<rect x="151.65" y="452.83" width="19.85" height="4.14" fill="#2444a8"/>
<rect x="171.50" y="452.83" width="19.85" height="4.14" fill="#2444a8"/>
<rect x="191.35" y="452.83" width="7.65" height="4.14" fill="#2444a8"/>
<rect x="44.00" y="472.47" width="8.40" height="4.86" fill="#2440a4"/>
<rect x="52.40" y="472.47" width="19.85" height="4.86" fill="#2440a4"/>
<rect x="72.25" y="472.47" width="19.85" height="4.86" fill="#2440a4"/>
<rect x="92.10" y="472.47" width="19.85" height="4.86" fill="#2440a4"/>
<rect x="111.95" y="472.47" width="19.85" height="4.86" fill="#2440a4"/>
<rect x="131.80" y="472.47" width="19.85" height="4.86" fill="#2440a4"/>
<rect x="151.65" y="472.47" width="19.85" height="4.86" fill="#2440a4"/>
<rect x="171.50" y="472.47" width="19.85" height="4.86" fill="#2440a4"/>
<rect x="191.35" y="472.47" width="7.65" height="4.86" fill="#2440a4"/>
<rect x="44.00" y="492.11" width="8.40" height="5.57" fill="#223a9e"/>
<rect x="52.40" y="492.11" width="19.85" height="5.57" fill="#223a9e"/>
<rect x="72.25" y="492.11" width="19.85" height="5.57" fill="#223a9e"/>
<rect x="92.10" y="492.11" width="19.85" height="5.57" fill="#223a9e"/>
<rect x="111.95" y="492.11" width="19.85" height="5.57" fill="#223a9e"/>
<rect x="131.80" y="492.11" width="19.85" height="5.57" fill="#223a9e"/>
<rect x="151.65" y="492.11" width="19.85" height="5.57" fill="#223a9e"/>
<rect x="171.50" y="492.11" width="19.85" height="5.57" fill="#223a9e"/>
<rect x="191.35" y="492.11" width="7.65" height="5.57" fill="#223a9e"/>
<rect x="44.00" y="511.76" width="8.40" height="6.29" fill="#203498"/>
<rect x="52.40" y="511.76" width="19.85" height="6.29" fill="#203498"/>
<rect x="72.25" y="511.76" width="19.85" height="6.29" fill="#203498"/>
<rect x="92.10" y="511.76" width="19.85" height="6.29" fill="#203498"/>
<rect x="111.95" y="511.76" width="19.85" height="6.29" fill="#203498"/>
<rect x="131.80" y="511.76" width="19.85" height="6.29" fill="#203498"/>
<rect x="151.65" y="511.76" width="19.85" height="6.29" fill="#203498"/>
<rect x="171.50" y="511.76" width="19.85" height="6.29" fill="#203498"/>
<rect x="191.35" y="511.76" width="7.65" height="6.29" fill="#203498"/>
<rect x="44.00" y="531.40" width="8.40" height="7.00" fill="#1e3094"/>
<rect x="52.40" y="531.40" width="19.85" height="7.00" fill="#1e3094"/>
<rect x="72.25" y="531.40" width="19.85" height="7.00" fill="#1e3094"/>
<rect x="92.10" y="531.40" width="19.85" height="7.00" fill="#1e3094"/>
<rect x="111.95" y="531.40" width="19.85" height="7.00" fill="#1e3094"/>
<rect x="131.80" y="531.40" width="19.85" height="7.00" fill="#1e3094"/>
<rect x="151.65" y="531.40" width="19.85" height="7.00" fill="#1e3094"/>
<rect x="171.50" y="531.40" width="19.85" height="7.00" fill="#1e3094"/>
<rect x="191.35" y="531.40" width="7.65" height="7.00" fill="#1e3094"/>
<g filter="url(#sb)">
<ellipse cx="45.90" cy="389.40" rx="1.60" ry="1.30" fill="#e07a30"/>
<ellipse cx="58.90" cy="389.40" rx="1.60" ry="1.30" fill="#e07a30"/>
<ellipse cx="52.40" cy="387.70" rx="1.40" ry="1.20" fill="#d85030"/>
<ellipse cx="62.30" cy="394.90" rx="2.20" ry="2.00" fill="#2a62b0"/>
<ellipse cx="52.40" cy="408.40" rx="1.20" ry="1.40" fill="#e0c040"/>
<ellipse cx="52.40" cy="421.40" rx="1.20" ry="1.40" fill="#d8d040"/>
<ellipse cx="62.30" cy="414.90" rx="2.20" ry="2.00" fill="#2a62b0"/>
<ellipse cx="52.40" cy="428.40" rx="1.00" ry="1.40" fill="#c8d040"/>
<ellipse cx="52.40" cy="448.40" rx="1.00" ry="1.40" fill="#c8d040"/>
<ellipse cx="65.75" cy="389.40" rx="1.60" ry="1.30" fill="#e07a30"/>
<ellipse cx="78.75" cy="389.40" rx="1.60" ry="1.30" fill="#e07a30"/>
<ellipse cx="72.25" cy="387.70" rx="1.40" ry="1.20" fill="#d85030"/>
<ellipse cx="82.15" cy="394.90" rx="2.20" ry="2.00" fill="#2a62b0"/>
<ellipse cx="72.25" cy="408.40" rx="1.20" ry="1.40" fill="#e0c040"/>
<ellipse cx="72.25" cy="421.40" rx="1.20" ry="1.40" fill="#d8d040"/>
<ellipse cx="82.15" cy="414.90" rx="2.20" ry="2.00" fill="#2a62b0"/>
<ellipse cx="72.25" cy="428.40" rx="1.00" ry="1.40" fill="#c8d040"/>
<ellipse cx="72.25" cy="448.40" rx="1.00" ry="1.40" fill="#c8d040"/>
<ellipse cx="85.60" cy="389.40" rx="1.60" ry="1.30" fill="#e07a30"/>
<ellipse cx="98.60" cy="389.40" rx="1.60" ry="1.30" fill="#e07a30"/>
<ellipse cx="92.10" cy="387.70" rx="1.40" ry="1.20" fill="#d85030"/>
<ellipse cx="102.00" cy="394.90" rx="2.20" ry="2.00" fill="#2a62b0"/>
<ellipse cx="92.10" cy="408.40" rx="1.20" ry="1.40" fill="#e0c040"/>
<ellipse cx="92.10" cy="421.40" rx="1.20" ry="1.40" fill="#d8d040"/>
<ellipse cx="102.00" cy="414.90" rx="2.20" ry="2.00" fill="#2a62b0"/>
<ellipse cx="92.10" cy="428.40" rx="1.00" ry="1.40" fill="#c8d040"/>
<ellipse cx="92.10" cy="448.40" rx="1.00" ry="1.40" fill="#c8d040"/>
<ellipse cx="105.45" cy="389.40" rx="1.60" ry="1.30" fill="#e07a30"/>
<ellipse cx="118.45" cy="389.40" rx="1.60" ry="1.30" fill="#e07a30"/>
<ellipse cx="111.95" cy="387.70" rx="1.40" ry="1.20" fill="#d85030"/>
<ellipse cx="121.85" cy="394.90" rx="2.20" ry="2.00" fill="#2a62b0"/>
<ellipse cx="111.95" cy="408.40" rx="1.20" ry="1.40" fill="#e0c040"/>
<ellipse cx="111.95" cy="421.40" rx="1.20" ry="1.40" fill="#d8d040"/>
<ellipse cx="121.85" cy="414.90" rx="2.20" ry="2.00" fill="#2a62b0"/>
<ellipse cx="111.95" cy="428.40" rx="1.00" ry="1.40" fill="#c8d040"/>
<ellipse cx="111.95" cy="448.40" rx="1.00" ry="1.40" fill="#c8d040"/>
<ellipse cx="125.30" cy="389.40" rx="1.60" ry="1.30" fill="#e07a30"/>
<ellipse cx="138.30" cy="389.40" rx="1.60" ry="1.30" fill="#e07a30"/>
<ellipse cx="131.80" cy="387.70" rx="1.40" ry="1.20" fill="#d85030"/>
<ellipse cx="141.70" cy="394.90" rx="2.20" ry="2.00" fill="#2a62b0"/>
<ellipse cx="131.80" cy="408.40" rx="1.20" ry="1.40" fill="#e0c040"/>
<ellipse cx="131.80" cy="421.40" rx="1.20" ry="1.40" fill="#d8d040"/>
<ellipse cx="141.70" cy="414.90" rx="2.20" ry="2.00" fill="#2a62b0"/>
<ellipse cx="131.80" cy="428.40" rx="1.00" ry="1.40" fill="#c8d040"/>
<ellipse cx="131.80" cy="448.40" rx="1.00" ry="1.40" fill="#c8d040"/>
<ellipse cx="145.15" cy="389.40" rx="1.60" ry="1.30" fill="#e07a30"/>
<ellipse cx="158.15" cy="389.40" rx="1.60" ry="1.30" fill="#e07a30"/>
<ellipse cx="151.65" cy="387.70" rx="1.40" ry="1.20" fill="#d85030"/>
<ellipse cx="161.55" cy="394.90" rx="2.20" ry="2.00" fill="#2a62b0"/>
<ellipse cx="151.65" cy="408.40" rx="1.20" ry="1.40" fill="#e0c040"/>
<ellipse cx="151.65" cy="421.40" rx="1.20" ry="1.40" fill="#d8d040"/>
<ellipse cx="161.55" cy="414.90" rx="2.20" ry="2.00" fill="#2a62b0"/>
<ellipse cx="151.65" cy="428.40" rx="1.00" ry="1.40" fill="#c8d040"/>
<ellipse cx="151.65" cy="448.40" rx="1.00" ry="1.40" fill="#c8d040"/>
<ellipse cx="165.00" cy="389.40" rx="1.60" ry="1.30" fill="#e07a30"/>
<ellipse cx="178.00" cy="389.40" rx="1.60" ry="1.30" fill="#e07a30"/>
<ellipse cx="171.50" cy="387.70" rx="1.40" ry="1.20" fill="#d85030"/>
<ellipse cx="181.40" cy="394.90" rx="2.20" ry="2.00" fill="#2a62b0"/>
<ellipse cx="171.50" cy="408.40" rx="1.20" ry="1.40" fill="#e0c040"/>
<ellipse cx="171.50" cy="421.40" rx="1.20" ry="1.40" fill="#d8d040"/>
<ellipse cx="181.40" cy="414.90" rx="2.20" ry="2.00" fill="#2a62b0"/>
<ellipse cx="171.50" cy="428.40" rx="1.00" ry="1.40" fill="#c8d040"/>
<ellipse cx="171.50" cy="448.40" rx="1.00" ry="1.40" fill="#c8d040"/>
<ellipse cx="184.85" cy="389.40" rx="1.60" ry="1.30" fill="#e07a30"/>
<ellipse cx="197.85" cy="389.40" rx="1.60" ry="1.30" fill="#e07a30"/>
<ellipse cx="191.35" cy="387.70" rx="1.40" ry="1.20" fill="#d85030"/>
<ellipse cx="201.25" cy="394.90" rx="2.20" ry="2.00" fill="#2a62b0"/>
<ellipse cx="191.35" cy="408.40" rx="1.20" ry="1.40" fill="#e0c040"/>
<ellipse cx="191.35" cy="421.40" rx="1.20" ry="1.40" fill="#d8d040"/>
<ellipse cx="201.25" cy="414.90" rx="2.20" ry="2.00" fill="#2a62b0"/>
<ellipse cx="191.35" cy="428.40" rx="1.00" ry="1.40" fill="#c8d040"/>
<ellipse cx="191.35" cy="448.40" rx="1.00" ry="1.40" fill="#c8d040"/>
</g>
<path d="M52.40,391.30 Q55.00,392.30 56.00,394.90 Q55.00,397.50 52.40,398.50 Q49.80,397.50 48.80,394.90 Q49.80,392.30 52.40,391.30Z" fill="#2250b8"/>
<path d="M52.40,411.30 Q55.00,412.30 56.00,414.90 Q55.00,417.50 52.40,418.50 Q49.80,417.50 48.80,414.90 Q49.80,412.30 52.40,411.30Z" fill="#2250b8"/>
<path d="M52.40,431.70 Q54.10,433.20 55.60,434.90 Q54.10,436.60 52.40,438.10 Q50.70,436.60 49.20,434.90 Q50.70,433.20 52.40,431.70Z" fill="#1d3aa4"/>
<path d="M52.40,451.70 Q54.10,453.20 55.60,454.90 Q54.10,456.60 52.40,458.10 Q50.70,456.60 49.20,454.90 Q50.70,453.20 52.40,451.70Z" fill="#1d3aa4"/>
<path d="M52.40,471.70 Q54.10,473.20 55.60,474.90 Q54.10,476.60 52.40,478.10 Q50.70,476.60 49.20,474.90 Q50.70,473.20 52.40,471.70Z" fill="#1d3aa4"/>
<path d="M52.40,491.70 Q54.10,493.20 55.60,494.90 Q54.10,496.60 52.40,498.10 Q50.70,496.60 49.20,494.90 Q50.70,493.20 52.40,491.70Z" fill="#1d3aa4"/>
<path d="M52.40,511.70 Q54.10,513.20 55.60,514.90 Q54.10,516.60 52.40,518.10 Q50.70,516.60 49.20,514.90 Q50.70,513.20 52.40,511.70Z" fill="#1d3aa4"/>
<path d="M52.40,531.70 Q54.10,533.20 55.60,534.90 Q54.10,536.60 52.40,538.10 Q50.70,536.60 49.20,534.90 Q50.70,533.20 52.40,531.70Z" fill="#1d3aa4"/>
<path d="M72.25,391.30 Q74.85,392.30 75.85,394.90 Q74.85,397.50 72.25,398.50 Q69.65,397.50 68.65,394.90 Q69.65,392.30 72.25,391.30Z" fill="#2250b8"/>
<path d="M72.25,411.30 Q74.85,412.30 75.85,414.90 Q74.85,417.50 72.25,418.50 Q69.65,417.50 68.65,414.90 Q69.65,412.30 72.25,411.30Z" fill="#2250b8"/>
<path d="M72.25,431.70 Q73.95,433.20 75.45,434.90 Q73.95,436.60 72.25,438.10 Q70.55,436.60 69.05,434.90 Q70.55,433.20 72.25,431.70Z" fill="#1d3aa4"/>
<path d="M72.25,451.70 Q73.95,453.20 75.45,454.90 Q73.95,456.60 72.25,458.10 Q70.55,456.60 69.05,454.90 Q70.55,453.20 72.25,451.70Z" fill="#1d3aa4"/>
<path d="M72.25,471.70 Q73.95,473.20 75.45,474.90 Q73.95,476.60 72.25,478.10 Q70.55,476.60 69.05,474.90 Q70.55,473.20 72.25,471.70Z" fill="#1d3aa4"/>
<path d="M72.25,491.70 Q73.95,493.20 75.45,494.90 Q73.95,496.60 72.25,498.10 Q70.55,496.60 69.05,494.90 Q70.55,493.20 72.25,491.70Z" fill="#1d3aa4"/>
<path d="M72.25,511.70 Q73.95,513.20 75.45,514.90 Q73.95,516.60 72.25,518.10 Q70.55,516.60 69.05,514.90 Q70.55,513.20 72.25,511.70Z" fill="#1d3aa4"/>
<path d="M72.25,531.70 Q73.95,533.20 75.45,534.90 Q73.95,536.60 72.25,538.10 Q70.55,536.60 69.05,534.90 Q70.55,533.20 72.25,531.70Z" fill="#1d3aa4"/>
<path d="M92.10,391.30 Q94.70,392.30 95.70,394.90 Q94.70,397.50 92.10,398.50 Q89.50,397.50 88.50,394.90 Q89.50,392.30 92.10,391.30Z" fill="#2250b8"/>
<path d="M92.10,411.30 Q94.70,412.30 95.70,414.90 Q94.70,417.50 92.10,418.50 Q89.50,417.50 88.50,414.90 Q89.50,412.30 92.10,411.30Z" fill="#2250b8"/>
<path d="M92.10,431.70 Q93.80,433.20 95.30,434.90 Q93.80,436.60 92.10,438.10 Q90.40,436.60 88.90,434.90 Q90.40,433.20 92.10,431.70Z" fill="#1d3aa4"/>
<path d="M92.10,451.70 Q93.80,453.20 95.30,454.90 Q93.80,456.60 92.10,458.10 Q90.40,456.60 88.90,454.90 Q90.40,453.20 92.10,451.70Z" fill="#1d3aa4"/>
<path d="M92.10,471.70 Q93.80,473.20 95.30,474.90 Q93.80,476.60 92.10,478.10 Q90.40,476.60 88.90,474.90 Q90.40,473.20 92.10,471.70Z" fill="#1d3aa4"/>
<path d="M92.10,491.70 Q93.80,493.20 95.30,494.90 Q93.80,496.60 92.10,498.10 Q90.40,496.60 88.90,494.90 Q90.40,493.20 92.10,491.70Z" fill="#1d3aa4"/>
<path d="M92.10,511.70 Q93.80,513.20 95.30,514.90 Q93.80,516.60 92.10,518.10 Q90.40,516.60 88.90,514.90 Q90.40,513.20 92.10,511.70Z" fill="#1d3aa4"/>
<path d="M92.10,531.70 Q93.80,533.20 95.30,534.90 Q93.80,536.60 92.10,538.10 Q90.40,536.60 88.90,534.90 Q90.40,533.20 92.10,531.70Z" fill="#1d3aa4"/>
<path d="M111.95,391.30 Q114.55,392.30 115.55,394.90 Q114.55,397.50 111.95,398.50 Q109.35,397.50 108.35,394.90 Q109.35,392.30 111.95,391.30Z" fill="#2250b8"/>
<path d="M111.95,411.30 Q114.55,412.30 115.55,414.90 Q114.55,417.50 111.95,418.50 Q109.35,417.50 108.35,414.90 Q109.35,412.30 111.95,411.30Z" fill="#2250b8"/>
<path d="M111.95,431.70 Q113.65,433.20 115.15,434.90 Q113.65,436.60 111.95,438.10 Q110.25,436.60 108.75,434.90 Q110.25,433.20 111.95,431.70Z" fill="#1d3aa4"/>
<path d="M111.95,451.70 Q113.65,453.20 115.15,454.90 Q113.65,456.60 111.95,458.10 Q110.25,456.60 108.75,454.90 Q110.25,453.20 111.95,451.70Z" fill="#1d3aa4"/>
<path d="M111.95,471.70 Q113.65,473.20 115.15,474.90 Q113.65,476.60 111.95,478.10 Q110.25,476.60 108.75,474.90 Q110.25,473.20 111.95,471.70Z" fill="#1d3aa4"/>
<path d="M111.95,491.70 Q113.65,493.20 115.15,494.90 Q113.65,496.60 111.95,498.10 Q110.25,496.60 108.75,494.90 Q110.25,493.20 111.95,491.70Z" fill="#1d3aa4"/>
<path d="M111.95,511.70 Q113.65,513.20 115.15,514.90 Q113.65,516.60 111.95,518.10 Q110.25,516.60 108.75,514.90 Q110.25,513.20 111.95,511.70Z" fill="#1d3aa4"/>
<path d="M111.95,531.70 Q113.65,533.20 115.15,534.90 Q113.65,536.60 111.95,538.10 Q110.25,536.60 108.75,534.90 Q110.25,533.20 111.95,531.70Z" fill="#1d3aa4"/>
<path d="M131.80,391.30 Q134.40,392.30 135.40,394.90 Q134.40,397.50 131.80,398.50 Q129.20,397.50 128.20,394.90 Q129.20,392.30 131.80,391.30Z" fill="#2250b8"/>
<path d="M131.80,411.30 Q134.40,412.30 135.40,414.90 Q134.40,417.50 131.80,418.50 Q129.20,417.50 128.20,414.90 Q129.20,412.30 131.80,411.30Z" fill="#2250b8"/>
<path d="M131.80,431.70 Q133.50,433.20 135.00,434.90 Q133.50,436.60 131.80,438.10 Q130.10,436.60 128.60,434.90 Q130.10,433.20 131.80,431.70Z" fill="#1d3aa4"/>
<path d="M131.80,451.70 Q133.50,453.20 135.00,454.90 Q133.50,456.60 131.80,458.10 Q130.10,456.60 128.60,454.90 Q130.10,453.20 131.80,451.70Z" fill="#1d3aa4"/>
<path d="M131.80,471.70 Q133.50,473.20 135.00,474.90 Q133.50,476.60 131.80,478.10 Q130.10,476.60 128.60,474.90 Q130.10,473.20 131.80,471.70Z" fill="#1d3aa4"/>
<path d="M131.80,491.70 Q133.50,493.20 135.00,494.90 Q133.50,496.60 131.80,498.10 Q130.10,496.60 128.60,494.90 Q130.10,493.20 131.80,491.70Z" fill="#1d3aa4"/>
<path d="M131.80,511.70 Q133.50,513.20 135.00,514.90 Q133.50,516.60 131.80,518.10 Q130.10,516.60 128.60,514.90 Q130.10,513.20 131.80,511.70Z" fill="#1d3aa4"/>
<path d="M131.80,531.70 Q133.50,533.20 135.00,534.90 Q133.50,536.60 131.80,538.10 Q130.10,536.60 128.60,534.90 Q130.10,533.20 131.80,531.70Z" fill="#1d3aa4"/>
<path d="M151.65,391.30 Q154.25,392.30 155.25,394.90 Q154.25,397.50 151.65,398.50 Q149.05,397.50 148.05,394.90 Q149.05,392.30 151.65,391.30Z" fill="#2250b8"/>
<path d="M151.65,411.30 Q154.25,412.30 155.25,414.90 Q154.25,417.50 151.65,418.50 Q149.05,417.50 148.05,414.90 Q149.05,412.30 151.65,411.30Z" fill="#2250b8"/>
<path d="M151.65,431.70 Q153.35,433.20 154.85,434.90 Q153.35,436.60 151.65,438.10 Q149.95,436.60 148.45,434.90 Q149.95,433.20 151.65,431.70Z" fill="#1d3aa4"/>
<path d="M151.65,451.70 Q153.35,453.20 154.85,454.90 Q153.35,456.60 151.65,458.10 Q149.95,456.60 148.45,454.90 Q149.95,453.20 151.65,451.70Z" fill="#1d3aa4"/>
<path d="M151.65,471.70 Q153.35,473.20 154.85,474.90 Q153.35,476.60 151.65,478.10 Q149.95,476.60 148.45,474.90 Q149.95,473.20 151.65,471.70Z" fill="#1d3aa4"/>
<path d="M151.65,491.70 Q153.35,493.20 154.85,494.90 Q153.35,496.60 151.65,498.10 Q149.95,496.60 148.45,494.90 Q149.95,493.20 151.65,491.70Z" fill="#1d3aa4"/>
<path d="M151.65,511.70 Q153.35,513.20 154.85,514.90 Q153.35,516.60 151.65,518.10 Q149.95,516.60 148.45,514.90 Q149.95,513.20 151.65,511.70Z" fill="#1d3aa4"/>
<path d="M151.65,531.70 Q153.35,533.20 154.85,534.90 Q153.35,536.60 151.65,538.10 Q149.95,536.60 148.45,534.90 Q149.95,533.20 151.65,531.70Z" fill="#1d3aa4"/>
<path d="M171.50,391.30 Q174.10,392.30 175.10,394.90 Q174.10,397.50 171.50,398.50 Q168.90,397.50 167.90,394.90 Q168.90,392.30 171.50,391.30Z" fill="#2250b8"/>
<path d="M171.50,411.30 Q174.10,412.30 175.10,414.90 Q174.10,417.50 171.50,418.50 Q168.90,417.50 167.90,414.90 Q168.90,412.30 171.50,411.30Z" fill="#2250b8"/>
<path d="M171.50,431.70 Q173.20,433.20 174.70,434.90 Q173.20,436.60 171.50,438.10 Q169.80,436.60 168.30,434.90 Q169.80,433.20 171.50,431.70Z" fill="#1d3aa4"/>
<path d="M171.50,451.70 Q173.20,453.20 174.70,454.90 Q173.20,456.60 171.50,458.10 Q169.80,456.60 168.30,454.90 Q169.80,453.20 171.50,451.70Z" fill="#1d3aa4"/>
<path d="M171.50,471.70 Q173.20,473.20 174.70,474.90 Q173.20,476.60 171.50,478.10 Q169.80,476.60 168.30,474.90 Q169.80,473.20 171.50,471.70Z" fill="#1d3aa4"/>
<path d="M171.50,491.70 Q173.20,493.20 174.70,494.90 Q173.20,496.60 171.50,498.10 Q169.80,496.60 168.30,494.90 Q169.80,493.20 171.50,491.70Z" fill="#1d3aa4"/>
<path d="M171.50,511.70 Q173.20,513.20 174.70,514.90 Q173.20,516.60 171.50,518.10 Q169.80,516.60 168.30,514.90 Q169.80,513.20 171.50,511.70Z" fill="#1d3aa4"/>
<path d="M171.50,531.70 Q173.20,533.20 174.70,534.90 Q173.20,536.60 171.50,538.10 Q169.80,536.60 168.30,534.90 Q169.80,533.20 171.50,531.70Z" fill="#1d3aa4"/>
<path d="M191.35,391.30 Q193.95,392.30 194.95,394.90 Q193.95,397.50 191.35,398.50 Q188.75,397.50 187.75,394.90 Q188.75,392.30 191.35,391.30Z" fill="#2250b8"/>
<path d="M191.35,411.30 Q193.95,412.30 194.95,414.90 Q193.95,417.50 191.35,418.50 Q188.75,417.50 187.75,414.90 Q188.75,412.30 191.35,411.30Z" fill="#2250b8"/>
<path d="M191.35,431.70 Q193.05,433.20 194.55,434.90 Q193.05,436.60 191.35,438.10 Q189.65,436.60 188.15,434.90 Q189.65,433.20 191.35,431.70Z" fill="#1d3aa4"/>
<path d="M191.35,451.70 Q193.05,453.20 194.55,454.90 Q193.05,456.60 191.35,458.10 Q189.65,456.60 188.15,454.90 Q189.65,453.20 191.35,451.70Z" fill="#1d3aa4"/>
<path d="M191.35,471.70 Q193.05,473.20 194.55,474.90 Q193.05,476.60 191.35,478.10 Q189.65,476.60 188.15,474.90 Q189.65,473.20 191.35,471.70Z" fill="#1d3aa4"/>
<path d="M191.35,491.70 Q193.05,493.20 194.55,494.90 Q193.05,496.60 191.35,498.10 Q189.65,496.60 188.15,494.90 Q189.65,493.20 191.35,491.70Z" fill="#1d3aa4"/>
<path d="M191.35,511.70 Q193.05,513.20 194.55,514.90 Q193.05,516.60 191.35,518.10 Q189.65,516.60 188.15,514.90 Q189.65,513.20 191.35,511.70Z" fill="#1d3aa4"/>
<path d="M191.35,531.70 Q193.05,533.20 194.55,534.90 Q193.05,536.60 191.35,538.10 Q189.65,536.60 188.15,534.90 Q189.65,533.20 191.35,531.70Z" fill="#1d3aa4"/>
<use href="#h1" filter="url(#fh1)"/>
<g id="h1"><ellipse cx="48.00" cy="390.70" rx="3.00" ry="1.80" transform="rotate(-45 48.00 390.70)" fill="#fff"/><ellipse cx="48.00" cy="399.10" rx="3.00" ry="1.80" transform="rotate(45 48.00 399.10)" fill="#fff"/><ellipse cx="56.80" cy="390.70" rx="3.00" ry="1.80" transform="rotate(45 56.80 390.70)" fill="#fff"/><ellipse cx="56.80" cy="399.10" rx="3.00" ry="1.80" transform="rotate(-45 56.80 399.10)" fill="#fff"/><ellipse cx="48.00" cy="410.70" rx="3.00" ry="1.80" transform="rotate(-45 48.00 410.70)" fill="#fff"/><ellipse cx="48.00" cy="419.10" rx="3.00" ry="1.80" transform="rotate(45 48.00 419.10)" fill="#fff"/><ellipse cx="56.80" cy="410.70" rx="3.00" ry="1.80" transform="rotate(45 56.80 410.70)" fill="#fff"/><ellipse cx="56.80" cy="419.10" rx="3.00" ry="1.80" transform="rotate(-45 56.80 419.10)" fill="#fff"/><ellipse cx="48.80" cy="431.70" rx="2.20" ry="1.10" transform="rotate(-45 48.80 431.70)" fill="#fff"/><ellipse cx="48.80" cy="438.10" rx="2.20" ry="1.10" transform="rotate(45 48.80 438.10)" fill="#fff"/><ellipse cx="56.00" cy="431.70" rx="2.20" ry="1.10" transform="rotate(45 56.00 431.70)" fill="#fff"/><ellipse cx="56.00" cy="438.10" rx="2.20" ry="1.10" transform="rotate(-45 56.00 438.10)" fill="#fff"/><ellipse cx="48.80" cy="451.70" rx="2.20" ry="1.10" transform="rotate(-45 48.80 451.70)" fill="#fff"/><ellipse cx="48.80" cy="458.10" rx="2.20" ry="1.10" transform="rotate(45 48.80 458.10)" fill="#fff"/><ellipse cx="56.00" cy="451.70" rx="2.20" ry="1.10" transform="rotate(45 56.00 451.70)" fill="#fff"/><ellipse cx="56.00" cy="458.10" rx="2.20" ry="1.10" transform="rotate(-45 56.00 458.10)" fill="#fff"/><ellipse cx="48.80" cy="471.70" rx="2.20" ry="1.10" transform="rotate(-45 48.80 471.70)" fill="#fff"/><ellipse cx="48.80" cy="478.10" rx="2.20" ry="1.10" transform="rotate(45 48.80 478.10)" fill="#fff"/><ellipse cx="56.00" cy="471.70" rx="2.20" ry="1.10" transform="rotate(45 56.00 471.70)" fill="#fff"/><ellipse cx="56.00" cy="478.10" rx="2.20" ry="1.10" transform="rotate(-45 56.00 478.10)" fill="#fff"/><ellipse cx="48.80" cy="491.70" rx="2.20" ry="1.10" transform="rotate(-45 48.80 491.70)" fill="#fff"/><ellipse cx="48.80" cy="498.10" rx="2.20" ry="1.10" transform="rotate(45 48.80 498.10)" fill="#fff"/><ellipse cx="56.00" cy="491.70" rx="2.20" ry="1.10" transform="rotate(45 56.00 491.70)" fill="#fff"/><ellipse cx="56.00" cy="498.10" rx="2.20" ry="1.10" transform="rotate(-45 56.00 498.10)" fill="#fff"/><ellipse cx="48.80" cy="511.70" rx="2.20" ry="1.10" transform="rotate(-45 48.80 511.70)" fill="#fff"/><ellipse cx="48.80" cy="518.10" rx="2.20" ry="1.10" transform="rotate(45 48.80 518.10)" fill="#fff"/><ellipse cx="56.00" cy="511.70" rx="2.20" ry="1.10" transform="rotate(45 56.00 511.70)" fill="#fff"/><ellipse cx="56.00" cy="518.10" rx="2.20" ry="1.10" transform="rotate(-45 56.00 518.10)" fill="#fff"/><ellipse cx="48.80" cy="531.70" rx="2.20" ry="1.10" transform="rotate(-45 48.80 531.70)" fill="#fff"/><ellipse cx="48.80" cy="538.10" rx="2.20" ry="1.10" transform="rotate(45 48.80 538.10)" fill="#fff"/><ellipse cx="56.00" cy="531.70" rx="2.20" ry="1.10" transform="rotate(45 56.00 531.70)" fill="#fff"/><ellipse cx="56.00" cy="538.10" rx="2.20" ry="1.10" transform="rotate(-45 56.00 538.10)" fill="#fff"/><ellipse cx="67.85" cy="390.70" rx="3.00" ry="1.80" transform="rotate(-45 67.85 390.70)" fill="#fff"/><ellipse cx="67.85" cy="399.10" rx="3.00" ry="1.80" transform="rotate(45 67.85 399.10)" fill="#fff"/><ellipse cx="76.65" cy="390.70" rx="3.00" ry="1.80" transform="rotate(45 76.65 390.70)" fill="#fff"/><ellipse cx="76.65" cy="399.10" rx="3.00" ry="1.80" transform="rotate(-45 76.65 399.10)" fill="#fff"/><ellipse cx="67.85" cy="410.70" rx="3.00" ry="1.80" transform="rotate(-45 67.85 410.70)" fill="#fff"/><ellipse cx="67.85" cy="419.10" rx="3.00" ry="1.80" transform="rotate(45 67.85 419.10)" fill="#fff"/><ellipse cx="76.65" cy="410.70" rx="3.00" ry="1.80" transform="rotate(45 76.65 410.70)" fill="#fff"/><ellipse cx="76.65" cy="419.10" rx="3.00" ry="1.80" transform="rotate(-45 76.65 419.10)" fill="#fff"/><ellipse cx="68.65" cy="431.70" rx="2.20" ry="1.10" transform="rotate(-45 68.65 431.70)" fill="#fff"/><ellipse cx="68.65" cy="438.10" rx="2.20" ry="1.10" transform="rotate(45 68.65 438.10)" fill="#fff"/><ellipse cx="75.85" cy="431.70" rx="2.20" ry="1.10" transform="rotate(45 75.85 431.70)" fill="#fff"/><ellipse cx="75.85" cy="438.10" rx="2.20" ry="1.10" transform="rotate(-45 75.85 438.10)" fill="#fff"/><ellipse cx="68.65" cy="451.70" rx="2.20" ry="1.10" transform="rotate(-45 68.65 451.70)" fill="#fff"/><ellipse cx="68.65" cy="458.10" rx="2.20" ry="1.10" transform="rotate(45 68.65 458.10)" fill="#fff"/><ellipse cx="75.85" cy="451.70" rx="2.20" ry="1.10" transform="rotate(45 75.85 451.70)" fill="#fff"/><ellipse cx="75.85" cy="458.10" rx="2.20" ry="1.10" transform="rotate(-45 75.85 458.10)" fill="#fff"/><ellipse cx="68.65" cy="471.70" rx="2.20" ry="1.10" transform="rotate(-45 68.65 471.70)" fill="#fff"/><ellipse cx="68.65" cy="478.10" rx="2.20" ry="1.10" transform="rotate(45 68.65 478.10)" fill="#fff"/><ellipse cx="75.85" cy="471.70" rx="2.20" ry="1.10" transform="rotate(45 75.85 471.70)" fill="#fff"/><ellipse cx="75.85" cy="478.10" rx="2.20" ry="1.10" transform="rotate(-45 75.85 478.10)" fill="#fff"/><ellipse cx="68.65" cy="491.70" rx="2.20" ry="1.10" transform="rotate(-45 68.65 491.70)" fill="#fff"/><ellipse cx="68.65" cy="498.10" rx="2.20" ry="1.10" transform="rotate(45 68.65 498.10)" fill="#fff"/><ellipse cx="75.85" cy="491.70" rx="2.20" ry="1.10" transform="rotate(45 75.85 491.70)" fill="#fff"/><ellipse cx="75.85" cy="498.10" rx="2.20" ry="1.10" transform="rotate(-45 75.85 498.10)" fill="#fff"/><ellipse cx="68.65" cy="511.70" rx="2.20" ry="1.10" transform="rotate(-45 68.65 511.70)" fill="#fff"/><ellipse cx="68.65" cy="518.10" rx="2.20" ry="1.10" transform="rotate(45 68.65 518.10)" fill="#fff"/><ellipse cx="75.85" cy="511.70" rx="2.20" ry="1.10" transform="rotate(45 75.85 511.70)" fill="#fff"/><ellipse cx="75.85" cy="518.10" rx="2.20" ry="1.10" transform="rotate(-45 75.85 518.10)" fill="#fff"/><ellipse cx="68.65" cy="531.70" rx="2.20" ry="1.10" transform="rotate(-45 68.65 531.70)" fill="#fff"/><ellipse cx="68.65" cy="538.10" rx="2.20" ry="1.10" transform="rotate(45 68.65 538.10)" fill="#fff"/><ellipse cx="75.85" cy="531.70" rx="2.20" ry="1.10" transform="rotate(45 75.85 531.70)" fill="#fff"/><ellipse cx="75.85" cy="538.10" rx="2.20" ry="1.10" transform="rotate(-45 75.85 538.10)" fill="#fff"/><ellipse cx="87.70" cy="390.70" rx="3.00" ry="1.80" transform="rotate(-45 87.70 390.70)" fill="#fff"/><ellipse cx="87.70" cy="399.10" rx="3.00" ry="1.80" transform="rotate(45 87.70 399.10)" fill="#fff"/><ellipse cx="96.50" cy="390.70" rx="3.00" ry="1.80" transform="rotate(45 96.50 390.70)" fill="#fff"/><ellipse cx="96.50" cy="399.10" rx="3.00" ry="1.80" transform="rotate(-45 96.50 399.10)" fill="#fff"/><ellipse cx="87.70" cy="410.70" rx="3.00" ry="1.80" transform="rotate(-45 87.70 410.70)" fill="#fff"/><ellipse cx="87.70" cy="419.10" rx="3.00" ry="1.80" transform="rotate(45 87.70 419.10)" fill="#fff"/><ellipse cx="96.50" cy="410.70" rx="3.00" ry="1.80" transform="rotate(45 96.50 410.70)" fill="#fff"/><ellipse cx="96.50" cy="419.10" rx="3.00" ry="1.80" transform="rotate(-45 96.50 419.10)" fill="#fff"/><ellipse cx="88.50" cy="431.70" rx="2.20" ry="1.10" transform="rotate(-45 88.50 431.70)" fill="#fff"/><ellipse cx="88.50" cy="438.10" rx="2.20" ry="1.10" transform="rotate(45 88.50 438.10)" fill="#fff"/><ellipse cx="95.70" cy="431.70" rx="2.20" ry="1.10" transform="rotate(45 95.70 431.70)" fill="#fff"/><ellipse cx="95.70" cy="438.10" rx="2.20" ry="1.10" transform="rotate(-45 95.70 438.10)" fill="#fff"/><ellipse cx="88.50" cy="451.70" rx="2.20" ry="1.10" transform="rotate(-45 88.50 451.70)" fill="#fff"/><ellipse cx="88.50" cy="458.10" rx="2.20" ry="1.10" transform="rotate(45 88.50 458.10)" fill="#fff"/><ellipse cx="95.70" cy="451.70" rx="2.20" ry="1.10" transform="rotate(45 95.70 451.70)" fill="#fff"/><ellipse cx="95.70" cy="458.10" rx="2.20" ry="1.10" transform="rotate(-45 95.70 458.10)" fill="#fff"/><ellipse cx="88.50" cy="471.70" rx="2.20" ry="1.10" transform="rotate(-45 88.50 471.70)" fill="#fff"/><ellipse cx="88.50" cy="478.10" rx="2.20" ry="1.10" transform="rotate(45 88.50 478.10)" fill="#fff"/><ellipse cx="95.70" cy="471.70" rx="2.20" ry="1.10" transform="rotate(45 95.70 471.70)" fill="#fff"/><ellipse cx="95.70" cy="478.10" rx="2.20" ry="1.10" transform="rotate(-45 95.70 478.10)" fill="#fff"/><ellipse cx="88.50" cy="491.70" rx="2.20" ry="1.10" transform="rotate(-45 88.50 491.70)" fill="#fff"/><ellipse cx="88.50" cy="498.10" rx="2.20" ry="1.10" transform="rotate(45 88.50 498.10)" fill="#fff"/><ellipse cx="95.70" cy="491.70" rx="2.20" ry="1.10" transform="rotate(45 95.70 491.70)" fill="#fff"/><ellipse cx="95.70" cy="498.10" rx="2.20" ry="1.10" transform="rotate(-45 95.70 498.10)" fill="#fff"/><ellipse cx="88.50" cy="511.70" rx="2.20" ry="1.10" transform="rotate(-45 88.50 511.70)" fill="#fff"/><ellipse cx="88.50" cy="518.10" rx="2.20" ry="1.10" transform="rotate(45 88.50 518.10)" fill="#fff"/><ellipse cx="95.70" cy="511.70" rx="2.20" ry="1.10" transform="rotate(45 95.70 511.70)" fill="#fff"/><ellipse cx="95.70" cy="518.10" rx="2.20" ry="1.10" transform="rotate(-45 95.70 518.10)" fill="#fff"/><ellipse cx="88.50" cy="531.70" rx="2.20" ry="1.10" transform="rotate(-45 88.50 531.70)" fill="#fff"/><ellipse cx="88.50" cy="538.10" rx="2.20" ry="1.10" transform="rotate(45 88.50 538.10)" fill="#fff"/><ellipse cx="95.70" cy="531.70" rx="2.20" ry="1.10" transform="rotate(45 95.70 531.70)" fill="#fff"/><ellipse cx="95.70" cy="538.10" rx="2.20" ry="1.10" transform="rotate(-45 95.70 538.10)" fill="#fff"/><ellipse cx="107.55" cy="390.70" rx="3.00" ry="1.80" transform="rotate(-45 107.55 390.70)" fill="#fff"/><ellipse cx="107.55" cy="399.10" rx="3.00" ry="1.80" transform="rotate(45 107.55 399.10)" fill="#fff"/><ellipse cx="116.35" cy="390.70" rx="3.00" ry="1.80" transform="rotate(45 116.35 390.70)" fill="#fff"/><ellipse cx="116.35" cy="399.10" rx="3.00" ry="1.80" transform="rotate(-45 116.35 399.10)" fill="#fff"/><ellipse cx="107.55" cy="410.70" rx="3.00" ry="1.80" transform="rotate(-45 107.55 410.70)" fill="#fff"/><ellipse cx="107.55" cy="419.10" rx="3.00" ry="1.80" transform="rotate(45 107.55 419.10)" fill="#fff"/><ellipse cx="116.35" cy="410.70" rx="3.00" ry="1.80" transform="rotate(45 116.35 410.70)" fill="#fff"/><ellipse cx="116.35" cy="419.10" rx="3.00" ry="1.80" transform="rotate(-45 116.35 419.10)" fill="#fff"/><ellipse cx="108.35" cy="431.70" rx="2.20" ry="1.10" transform="rotate(-45 108.35 431.70)" fill="#fff"/><ellipse cx="108.35" cy="438.10" rx="2.20" ry="1.10" transform="rotate(45 108.35 438.10)" fill="#fff"/><ellipse cx="115.55" cy="431.70" rx="2.20" ry="1.10" transform="rotate(45 115.55 431.70)" fill="#fff"/><ellipse cx="115.55" cy="438.10" rx="2.20" ry="1.10" transform="rotate(-45 115.55 438.10)" fill="#fff"/><ellipse cx="108.35" cy="451.70" rx="2.20" ry="1.10" transform="rotate(-45 108.35 451.70)" fill="#fff"/><ellipse cx="108.35" cy="458.10" rx="2.20" ry="1.10" transform="rotate(45 108.35 458.10)" fill="#fff"/><ellipse cx="115.55" cy="451.70" rx="2.20" ry="1.10" transform="rotate(45 115.55 451.70)" fill="#fff"/><ellipse cx="115.55" cy="458.10" rx="2.20" ry="1.10" transform="rotate(-45 115.55 458.10)" fill="#fff"/><ellipse cx="108.35" cy="471.70" rx="2.20" ry="1.10" transform="rotate(-45 108.35 471.70)" fill="#fff"/><ellipse cx="108.35" cy="478.10" rx="2.20" ry="1.10" transform="rotate(45 108.35 478.10)" fill="#fff"/><ellipse cx="115.55" cy="471.70" rx="2.20" ry="1.10" transform="rotate(45 115.55 471.70)" fill="#fff"/><ellipse cx="115.55" cy="478.10" rx="2.20" ry="1.10" transform="rotate(-45 115.55 478.10)" fill="#fff"/><ellipse cx="108.35" cy="491.70" rx="2.20" ry="1.10" transform="rotate(-45 108.35 491.70)" fill="#fff"/><ellipse cx="108.35" cy="498.10" rx="2.20" ry="1.10" transform="rotate(45 108.35 498.10)" fill="#fff"/><ellipse cx="115.55" cy="491.70" rx="2.20" ry="1.10" transform="rotate(45 115.55 491.70)" fill="#fff"/><ellipse cx="115.55" cy="498.10" rx="2.20" ry="1.10" transform="rotate(-45 115.55 498.10)" fill="#fff"/><ellipse cx="108.35" cy="511.70" rx="2.20" ry="1.10" transform="rotate(-45 108.35 511.70)" fill="#fff"/><ellipse cx="108.35" cy="518.10" rx="2.20" ry="1.10" transform="rotate(45 108.35 518.10)" fill="#fff"/><ellipse cx="115.55" cy="511.70" rx="2.20" ry="1.10" transform="rotate(45 115.55 511.70)" fill="#fff"/><ellipse cx="115.55" cy="518.10" rx="2.20" ry="1.10" transform="rotate(-45 115.55 518.10)" fill="#fff"/><ellipse cx="108.35" cy="531.70" rx="2.20" ry="1.10" transform="rotate(-45 108.35 531.70)" fill="#fff"/><ellipse cx="108.35" cy="538.10" rx="2.20" ry="1.10" transform="rotate(45 108.35 538.10)" fill="#fff"/><ellipse cx="115.55" cy="531.70" rx="2.20" ry="1.10" transform="rotate(45 115.55 531.70)" fill="#fff"/><ellipse cx="115.55" cy="538.10" rx="2.20" ry="1.10" transform="rotate(-45 115.55 538.10)" fill="#fff"/><ellipse cx="127.40" cy="390.70" rx="3.00" ry="1.80" transform="rotate(-45 127.40 390.70)" fill="#fff"/><ellipse cx="127.40" cy="399.10" rx="3.00" ry="1.80" transform="rotate(45 127.40 399.10)" fill="#fff"/><ellipse cx="136.20" cy="390.70" rx="3.00" ry="1.80" transform="rotate(45 136.20 390.70)" fill="#fff"/><ellipse cx="136.20" cy="399.10" rx="3.00" ry="1.80" transform="rotate(-45 136.20 399.10)" fill="#fff"/><ellipse cx="127.40" cy="410.70" rx="3.00" ry="1.80" transform="rotate(-45 127.40 410.70)" fill="#fff"/><ellipse cx="127.40" cy="419.10" rx="3.00" ry="1.80" transform="rotate(45 127.40 419.10)" fill="#fff"/><ellipse cx="136.20" cy="410.70" rx="3.00" ry="1.80" transform="rotate(45 136.20 410.70)" fill="#fff"/><ellipse cx="136.20" cy="419.10" rx="3.00" ry="1.80" transform="rotate(-45 136.20 419.10)" fill="#fff"/><ellipse cx="128.20" cy="431.70" rx="2.20" ry="1.10" transform="rotate(-45 128.20 431.70)" fill="#fff"/><ellipse cx="128.20" cy="438.10" rx="2.20" ry="1.10" transform="rotate(45 128.20 438.10)" fill="#fff"/><ellipse cx="135.40" cy="431.70" rx="2.20" ry="1.10" transform="rotate(45 135.40 431.70)" fill="#fff"/><ellipse cx="135.40" cy="438.10" rx="2.20" ry="1.10" transform="rotate(-45 135.40 438.10)" fill="#fff"/><ellipse cx="128.20" cy="451.70" rx="2.20" ry="1.10" transform="rotate(-45 128.20 451.70)" fill="#fff"/><ellipse cx="128.20" cy="458.10" rx="2.20" ry="1.10" transform="rotate(45 128.20 458.10)" fill="#fff"/><ellipse cx="135.40" cy="451.70" rx="2.20" ry="1.10" transform="rotate(45 135.40 451.70)" fill="#fff"/><ellipse cx="135.40" cy="458.10" rx="2.20" ry="1.10" transform="rotate(-45 135.40 458.10)" fill="#fff"/><ellipse cx="128.20" cy="471.70" rx="2.20" ry="1.10" transform="rotate(-45 128.20 471.70)" fill="#fff"/><ellipse cx="128.20" cy="478.10" rx="2.20" ry="1.10" transform="rotate(45 128.20 478.10)" fill="#fff"/><ellipse cx="135.40" cy="471.70" rx="2.20" ry="1.10" transform="rotate(45 135.40 471.70)" fill="#fff"/><ellipse cx="135.40" cy="478.10" rx="2.20" ry="1.10" transform="rotate(-45 135.40 478.10)" fill="#fff"/><ellipse cx="128.20" cy="491.70" rx="2.20" ry="1.10" transform="rotate(-45 128.20 491.70)" fill="#fff"/><ellipse cx="128.20" cy="498.10" rx="2.20" ry="1.10" transform="rotate(45 128.20 498.10)" fill="#fff"/><ellipse cx="135.40" cy="491.70" rx="2.20" ry="1.10" transform="rotate(45 135.40 491.70)" fill="#fff"/><ellipse cx="135.40" cy="498.10" rx="2.20" ry="1.10" transform="rotate(-45 135.40 498.10)" fill="#fff"/><ellipse cx="128.20" cy="511.70" rx="2.20" ry="1.10" transform="rotate(-45 128.20 511.70)" fill="#fff"/><ellipse cx="128.20" cy="518.10" rx="2.20" ry="1.10" transform="rotate(45 128.20 518.10)" fill="#fff"/><ellipse cx="135.40" cy="511.70" rx="2.20" ry="1.10" transform="rotate(45 135.40 511.70)" fill="#fff"/><ellipse cx="135.40" cy="518.10" rx="2.20" ry="1.10" transform="rotate(-45 135.40 518.10)" fill="#fff"/><ellipse cx="128.20" cy="531.70" rx="2.20" ry="1.10" transform="rotate(-45 128.20 531.70)" fill="#fff"/><ellipse cx="128.20" cy="538.10" rx="2.20" ry="1.10" transform="rotate(45 128.20 538.10)" fill="#fff"/><ellipse cx="135.40" cy="531.70" rx="2.20" ry="1.10" transform="rotate(45 135.40 531.70)" fill="#fff"/><ellipse cx="135.40" cy="538.10" rx="2.20" ry="1.10" transform="rotate(-45 135.40 538.10)" fill="#fff"/><ellipse cx="147.25" cy="390.70" rx="3.00" ry="1.80" transform="rotate(-45 147.25 390.70)" fill="#fff"/><ellipse cx="147.25" cy="399.10" rx="3.00" ry="1.80" transform="rotate(45 147.25 399.10)" fill="#fff"/><ellipse cx="156.05" cy="390.70" rx="3.00" ry="1.80" transform="rotate(45 156.05 390.70)" fill="#fff"/><ellipse cx="156.05" cy="399.10" rx="3.00" ry="1.80" transform="rotate(-45 156.05 399.10)" fill="#fff"/><ellipse cx="147.25" cy="410.70" rx="3.00" ry="1.80" transform="rotate(-45 147.25 410.70)" fill="#fff"/><ellipse cx="147.25" cy="419.10" rx="3.00" ry="1.80" transform="rotate(45 147.25 419.10)" fill="#fff"/><ellipse cx="156.05" cy="410.70" rx="3.00" ry="1.80" transform="rotate(45 156.05 410.70)" fill="#fff"/><ellipse cx="156.05" cy="419.10" rx="3.00" ry="1.80" transform="rotate(-45 156.05 419.10)" fill="#fff"/><ellipse cx="148.05" cy="431.70" rx="2.20" ry="1.10" transform="rotate(-45 148.05 431.70)" fill="#fff"/><ellipse cx="148.05" cy="438.10" rx="2.20" ry="1.10" transform="rotate(45 148.05 438.10)" fill="#fff"/><ellipse cx="155.25" cy="431.70" rx="2.20" ry="1.10" transform="rotate(45 155.25 431.70)" fill="#fff"/><ellipse cx="155.25" cy="438.10" rx="2.20" ry="1.10" transform="rotate(-45 155.25 438.10)" fill="#fff"/><ellipse cx="148.05" cy="451.70" rx="2.20" ry="1.10" transform="rotate(-45 148.05 451.70)" fill="#fff"/><ellipse cx="148.05" cy="458.10" rx="2.20" ry="1.10" transform="rotate(45 148.05 458.10)" fill="#fff"/><ellipse cx="155.25" cy="451.70" rx="2.20" ry="1.10" transform="rotate(45 155.25 451.70)" fill="#fff"/><ellipse cx="155.25" cy="458.10" rx="2.20" ry="1.10" transform="rotate(-45 155.25 458.10)" fill="#fff"/><ellipse cx="148.05" cy="471.70" rx="2.20" ry="1.10" transform="rotate(-45 148.05 471.70)" fill="#fff"/><ellipse cx="148.05" cy="478.10" rx="2.20" ry="1.10" transform="rotate(45 148.05 478.10)" fill="#fff"/><ellipse cx="155.25" cy="471.70" rx="2.20" ry="1.10" transform="rotate(45 155.25 471.70)" fill="#fff"/><ellipse cx="155.25" cy="478.10" rx="2.20" ry="1.10" transform="rotate(-45 155.25 478.10)" fill="#fff"/><ellipse cx="148.05" cy="491.70" rx="2.20" ry="1.10" transform="rotate(-45 148.05 491.70)" fill="#fff"/><ellipse cx="148.05" cy="498.10" rx="2.20" ry="1.10" transform="rotate(45 148.05 498.10)" fill="#fff"/><ellipse cx="155.25" cy="491.70" rx="2.20" ry="1.10" transform="rotate(45 155.25 491.70)" fill="#fff"/><ellipse cx="155.25" cy="498.10" rx="2.20" ry="1.10" transform="rotate(-45 155.25 498.10)" fill="#fff"/><ellipse cx="148.05" cy="511.70" rx="2.20" ry="1.10" transform="rotate(-45 148.05 511.70)" fill="#fff"/><ellipse cx="148.05" cy="518.10" rx="2.20" ry="1.10" transform="rotate(45 148.05 518.10)" fill="#fff"/><ellipse cx="155.25" cy="511.70" rx="2.20" ry="1.10" transform="rotate(45 155.25 511.70)" fill="#fff"/><ellipse cx="155.25" cy="518.10" rx="2.20" ry="1.10" transform="rotate(-45 155.25 518.10)" fill="#fff"/><ellipse cx="148.05" cy="531.70" rx="2.20" ry="1.10" transform="rotate(-45 148.05 531.70)" fill="#fff"/><ellipse cx="148.05" cy="538.10" rx="2.20" ry="1.10" transform="rotate(45 148.05 538.10)" fill="#fff"/><ellipse cx="155.25" cy="531.70" rx="2.20" ry="1.10" transform="rotate(45 155.25 531.70)" fill="#fff"/><ellipse cx="155.25" cy="538.10" rx="2.20" ry="1.10" transform="rotate(-45 155.25 538.10)" fill="#fff"/><ellipse cx="167.10" cy="390.70" rx="3.00" ry="1.80" transform="rotate(-45 167.10 390.70)" fill="#fff"/><ellipse cx="167.10" cy="399.10" rx="3.00" ry="1.80" transform="rotate(45 167.10 399.10)" fill="#fff"/><ellipse cx="175.90" cy="390.70" rx="3.00" ry="1.80" transform="rotate(45 175.90 390.70)" fill="#fff"/><ellipse cx="175.90" cy="399.10" rx="3.00" ry="1.80" transform="rotate(-45 175.90 399.10)" fill="#fff"/><ellipse cx="167.10" cy="410.70" rx="3.00" ry="1.80" transform="rotate(-45 167.10 410.70)" fill="#fff"/><ellipse cx="167.10" cy="419.10" rx="3.00" ry="1.80" transform="rotate(45 167.10 419.10)" fill="#fff"/><ellipse cx="175.90" cy="410.70" rx="3.00" ry="1.80" transform="rotate(45 175.90 410.70)" fill="#fff"/><ellipse cx="175.90" cy="419.10" rx="3.00" ry="1.80" transform="rotate(-45 175.90 419.10)" fill="#fff"/><ellipse cx="167.90" cy="431.70" rx="2.20" ry="1.10" transform="rotate(-45 167.90 431.70)" fill="#fff"/><ellipse cx="167.90" cy="438.10" rx="2.20" ry="1.10" transform="rotate(45 167.90 438.10)" fill="#fff"/><ellipse cx="175.10" cy="431.70" rx="2.20" ry="1.10" transform="rotate(45 175.10 431.70)" fill="#fff"/><ellipse cx="175.10" cy="438.10" rx="2.20" ry="1.10" transform="rotate(-45 175.10 438.10)" fill="#fff"/><ellipse cx="167.90" cy="451.70" rx="2.20" ry="1.10" transform="rotate(-45 167.90 451.70)" fill="#fff"/><ellipse cx="167.90" cy="458.10" rx="2.20" ry="1.10" transform="rotate(45 167.90 458.10)" fill="#fff"/><ellipse cx="175.10" cy="451.70" rx="2.20" ry="1.10" transform="rotate(45 175.10 451.70)" fill="#fff"/><ellipse cx="175.10" cy="458.10" rx="2.20" ry="1.10" transform="rotate(-45 175.10 458.10)" fill="#fff"/><ellipse cx="167.90" cy="471.70" rx="2.20" ry="1.10" transform="rotate(-45 167.90 471.70)" fill="#fff"/><ellipse cx="167.90" cy="478.10" rx="2.20" ry="1.10" transform="rotate(45 167.90 478.10)" fill="#fff"/><ellipse cx="175.10" cy="471.70" rx="2.20" ry="1.10" transform="rotate(45 175.10 471.70)" fill="#fff"/><ellipse cx="175.10" cy="478.10" rx="2.20" ry="1.10" transform="rotate(-45 175.10 478.10)" fill="#fff"/><ellipse cx="167.90" cy="491.70" rx="2.20" ry="1.10" transform="rotate(-45 167.90 491.70)" fill="#fff"/><ellipse cx="167.90" cy="498.10" rx="2.20" ry="1.10" transform="rotate(45 167.90 498.10)" fill="#fff"/><ellipse cx="175.10" cy="491.70" rx="2.20" ry="1.10" transform="rotate(45 175.10 491.70)" fill="#fff"/><ellipse cx="175.10" cy="498.10" rx="2.20" ry="1.10" transform="rotate(-45 175.10 498.10)" fill="#fff"/><ellipse cx="167.90" cy="511.70" rx="2.20" ry="1.10" transform="rotate(-45 167.90 511.70)" fill="#fff"/><ellipse cx="167.90" cy="518.10" rx="2.20" ry="1.10" transform="rotate(45 167.90 518.10)" fill="#fff"/><ellipse cx="175.10" cy="511.70" rx="2.20" ry="1.10" transform="rotate(45 175.10 511.70)" fill="#fff"/><ellipse cx="175.10" cy="518.10" rx="2.20" ry="1.10" transform="rotate(-45 175.10 518.10)" fill="#fff"/><ellipse cx="167.90" cy="531.70" rx="2.20" ry="1.10" transform="rotate(-45 167.90 531.70)" fill="#fff"/><ellipse cx="167.90" cy="538.10" rx="2.20" ry="1.10" transform="rotate(45 167.90 538.10)" fill="#fff"/><ellipse cx="175.10" cy="531.70" rx="2.20" ry="1.10" transform="rotate(45 175.10 531.70)" fill="#fff"/><ellipse cx="175.10" cy="538.10" rx="2.20" ry="1.10" transform="rotate(-45 175.10 538.10)" fill="#fff"/><ellipse cx="186.95" cy="390.70" rx="3.00" ry="1.80" transform="rotate(-45 186.95 390.70)" fill="#fff"/><ellipse cx="186.95" cy="399.10" rx="3.00" ry="1.80" transform="rotate(45 186.95 399.10)" fill="#fff"/><ellipse cx="195.75" cy="390.70" rx="3.00" ry="1.80" transform="rotate(45 195.75 390.70)" fill="#fff"/><ellipse cx="195.75" cy="399.10" rx="3.00" ry="1.80" transform="rotate(-45 195.75 399.10)" fill="#fff"/><ellipse cx="186.95" cy="410.70" rx="3.00" ry="1.80" transform="rotate(-45 186.95 410.70)" fill="#fff"/><ellipse cx="186.95" cy="419.10" rx="3.00" ry="1.80" transform="rotate(45 186.95 419.10)" fill="#fff"/><ellipse cx="195.75" cy="410.70" rx="3.00" ry="1.80" transform="rotate(45 195.75 410.70)" fill="#fff"/><ellipse cx="195.75" cy="419.10" rx="3.00" ry="1.80" transform="rotate(-45 195.75 419.10)" fill="#fff"/><ellipse cx="187.75" cy="431.70" rx="2.20" ry="1.10" transform="rotate(-45 187.75 431.70)" fill="#fff"/><ellipse cx="187.75" cy="438.10" rx="2.20" ry="1.10" transform="rotate(45 187.75 438.10)" fill="#fff"/><ellipse cx="194.95" cy="431.70" rx="2.20" ry="1.10" transform="rotate(45 194.95 431.70)" fill="#fff"/><ellipse cx="194.95" cy="438.10" rx="2.20" ry="1.10" transform="rotate(-45 194.95 438.10)" fill="#fff"/><ellipse cx="187.75" cy="451.70" rx="2.20" ry="1.10" transform="rotate(-45 187.75 451.70)" fill="#fff"/><ellipse cx="187.75" cy="458.10" rx="2.20" ry="1.10" transform="rotate(45 187.75 458.10)" fill="#fff"/><ellipse cx="194.95" cy="451.70" rx="2.20" ry="1.10" transform="rotate(45 194.95 451.70)" fill="#fff"/><ellipse cx="194.95" cy="458.10" rx="2.20" ry="1.10" transform="rotate(-45 194.95 458.10)" fill="#fff"/><ellipse cx="187.75" cy="471.70" rx="2.20" ry="1.10" transform="rotate(-45 187.75 471.70)" fill="#fff"/><ellipse cx="187.75" cy="478.10" rx="2.20" ry="1.10" transform="rotate(45 187.75 478.10)" fill="#fff"/><ellipse cx="194.95" cy="471.70" rx="2.20" ry="1.10" transform="rotate(45 194.95 471.70)" fill="#fff"/><ellipse cx="194.95" cy="478.10" rx="2.20" ry="1.10" transform="rotate(-45 194.95 478.10)" fill="#fff"/><ellipse cx="187.75" cy="491.70" rx="2.20" ry="1.10" transform="rotate(-45 187.75 491.70)" fill="#fff"/><ellipse cx="187.75" cy="498.10" rx="2.20" ry="1.10" transform="rotate(45 187.75 498.10)" fill="#fff"/><ellipse cx="194.95" cy="491.70" rx="2.20" ry="1.10" transform="rotate(45 194.95 491.70)" fill="#fff"/><ellipse cx="194.95" cy="498.10" rx="2.20" ry="1.10" transform="rotate(-45 194.95 498.10)" fill="#fff"/><ellipse cx="187.75" cy="511.70" rx="2.20" ry="1.10" transform="rotate(-45 187.75 511.70)" fill="#fff"/><ellipse cx="187.75" cy="518.10" rx="2.20" ry="1.10" transform="rotate(45 187.75 518.10)" fill="#fff"/><ellipse cx="194.95" cy="511.70" rx="2.20" ry="1.10" transform="rotate(45 194.95 511.70)" fill="#fff"/><ellipse cx="194.95" cy="518.10" rx="2.20" ry="1.10" transform="rotate(-45 194.95 518.10)" fill="#fff"/><ellipse cx="187.75" cy="531.70" rx="2.20" ry="1.10" transform="rotate(-45 187.75 531.70)" fill="#fff"/><ellipse cx="187.75" cy="538.10" rx="2.20" ry="1.10" transform="rotate(45 187.75 538.10)" fill="#fff"/><ellipse cx="194.95" cy="531.70" rx="2.20" ry="1.10" transform="rotate(45 194.95 531.70)" fill="#fff"/><ellipse cx="194.95" cy="538.10" rx="2.20" ry="1.10" transform="rotate(-45 194.95 538.10)" fill="#fff"/><path d="M47.14,384.90 L42.47,389.57 L37.81,384.90 L42.47,380.23Z" fill="#fff" stroke="#fff" stroke-width="4.80" stroke-linejoin="round"/><path d="M47.14,404.90 L42.47,409.57 L37.81,404.90 L42.47,400.23Z" fill="#fff" stroke="#fff" stroke-width="4.80" stroke-linejoin="round"/><path d="M47.22,424.90 L42.47,429.65 L37.73,424.90 L42.47,420.15Z" fill="#fff" stroke="#fff" stroke-width="4.80" stroke-linejoin="round"/><path d="M47.30,444.90 L42.47,449.73 L37.65,444.90 L42.47,440.07Z" fill="#fff" stroke="#fff" stroke-width="4.80" stroke-linejoin="round"/><path d="M47.38,464.90 L42.47,469.81 L37.57,464.90 L42.47,459.99Z" fill="#fff" stroke="#fff" stroke-width="4.80" stroke-linejoin="round"/><path d="M47.46,484.90 L47.46,484.90 L42.48,489.89 L42.47,489.89 L37.49,484.90 L37.49,484.90 L42.47,479.91 L42.48,479.91Z" fill="#fff" stroke="#fff" stroke-width="4.80" stroke-linejoin="round"/><path d="M47.33,504.69 L47.33,505.11 L42.69,509.76 L42.26,509.76 L37.62,505.11 L37.62,504.69 L42.26,500.04 L42.69,500.04Z" fill="#fff" stroke="#fff" stroke-width="4.80" stroke-linejoin="round"/><path d="M47.20,524.48 L47.20,525.32 L42.90,529.63 L42.05,529.63 L37.75,525.32 L37.75,524.48 L42.05,520.17 L42.90,520.17Z" fill="#fff" stroke="#fff" stroke-width="4.80" stroke-linejoin="round"/><path d="M47.07,544.27 L47.07,545.53 L43.11,549.50 L41.84,549.50 L37.87,545.53 L37.87,544.27 L41.84,540.30 L43.11,540.30Z" fill="#fff" stroke="#fff" stroke-width="4.80" stroke-linejoin="round"/><path d="M66.99,384.90 L62.33,389.57 L57.66,384.90 L62.33,380.23Z" fill="#fff" stroke="#fff" stroke-width="4.80" stroke-linejoin="round"/><path d="M66.99,404.90 L62.33,409.57 L57.66,404.90 L62.33,400.23Z" fill="#fff" stroke="#fff" stroke-width="4.80" stroke-linejoin="round"/><path d="M67.07,424.90 L62.33,429.65 L57.58,424.90 L62.33,420.15Z" fill="#fff" stroke="#fff" stroke-width="4.80" stroke-linejoin="round"/><path d="M67.15,444.90 L62.33,449.73 L57.50,444.90 L62.33,440.07Z" fill="#fff" stroke="#fff" stroke-width="4.80" stroke-linejoin="round"/><path d="M67.23,464.90 L62.33,469.81 L57.42,464.90 L62.33,459.99Z" fill="#fff" stroke="#fff" stroke-width="4.80" stroke-linejoin="round"/><path d="M67.31,484.90 L67.31,484.90 L62.33,489.89 L62.32,489.89 L57.34,484.90 L57.34,484.90 L62.32,479.91 L62.33,479.91Z" fill="#fff" stroke="#fff" stroke-width="4.80" stroke-linejoin="round"/><path d="M67.18,504.69 L67.18,505.11 L62.54,509.76 L62.11,509.76 L57.47,505.11 L57.47,504.69 L62.11,500.04 L62.54,500.04Z" fill="#fff" stroke="#fff" stroke-width="4.80" stroke-linejoin="round"/><path d="M67.05,524.48 L67.05,525.32 L62.75,529.63 L61.90,529.63 L57.60,525.32 L57.60,524.48 L61.90,520.17 L62.75,520.17Z" fill="#fff" stroke="#fff" stroke-width="4.80" stroke-linejoin="round"/><path d="M66.92,544.27 L66.92,545.53 L62.96,549.50 L61.69,549.50 L57.73,545.53 L57.73,544.27 L61.69,540.30 L62.96,540.30Z" fill="#fff" stroke="#fff" stroke-width="4.80" stroke-linejoin="round"/><path d="M86.84,384.90 L82.17,389.57 L77.51,384.90 L82.17,380.23Z" fill="#fff" stroke="#fff" stroke-width="4.80" stroke-linejoin="round"/><path d="M86.84,404.90 L82.17,409.57 L77.51,404.90 L82.17,400.23Z" fill="#fff" stroke="#fff" stroke-width="4.80" stroke-linejoin="round"/><path d="M86.92,424.90 L82.17,429.65 L77.43,424.90 L82.17,420.15Z" fill="#fff" stroke="#fff" stroke-width="4.80" stroke-linejoin="round"/><path d="M87.00,444.90 L82.17,449.73 L77.35,444.90 L82.17,440.07Z" fill="#fff" stroke="#fff" stroke-width="4.80" stroke-linejoin="round"/><path d="M87.08,464.90 L82.17,469.81 L77.27,464.90 L82.17,459.99Z" fill="#fff" stroke="#fff" stroke-width="4.80" stroke-linejoin="round"/><path d="M87.16,484.90 L87.16,484.90 L82.18,489.89 L82.17,489.89 L77.19,484.90 L77.19,484.90 L82.17,479.91 L82.18,479.91Z" fill="#fff" stroke="#fff" stroke-width="4.80" stroke-linejoin="round"/><path d="M87.03,504.69 L87.03,505.11 L82.39,509.76 L81.96,509.76 L77.32,505.11 L77.32,504.69 L81.96,500.04 L82.39,500.04Z" fill="#fff" stroke="#fff" stroke-width="4.80" stroke-linejoin="round"/><path d="M86.90,524.48 L86.90,525.32 L82.60,529.63 L81.75,529.63 L77.45,525.32 L77.45,524.48 L81.75,520.17 L82.60,520.17Z" fill="#fff" stroke="#fff" stroke-width="4.80" stroke-linejoin="round"/><path d="M86.77,544.27 L86.77,545.53 L82.81,549.50 L81.54,549.50 L77.58,545.53 L77.58,544.27 L81.54,540.30 L82.81,540.30Z" fill="#fff" stroke="#fff" stroke-width="4.80" stroke-linejoin="round"/><path d="M106.69,384.90 L102.03,389.57 L97.36,384.90 L102.03,380.23Z" fill="#fff" stroke="#fff" stroke-width="4.80" stroke-linejoin="round"/><path d="M106.69,404.90 L102.03,409.57 L97.36,404.90 L102.03,400.23Z" fill="#fff" stroke="#fff" stroke-width="4.80" stroke-linejoin="round"/><path d="M106.77,424.90 L102.03,429.65 L97.28,424.90 L102.03,420.15Z" fill="#fff" stroke="#fff" stroke-width="4.80" stroke-linejoin="round"/><path d="M106.85,444.90 L102.03,449.73 L97.20,444.90 L102.03,440.07Z" fill="#fff" stroke="#fff" stroke-width="4.80" stroke-linejoin="round"/><path d="M106.93,464.90 L102.03,469.81 L97.12,464.90 L102.03,459.99Z" fill="#fff" stroke="#fff" stroke-width="4.80" stroke-linejoin="round"/><path d="M107.01,484.90 L107.01,484.90 L102.03,489.89 L102.02,489.89 L97.04,484.90 L97.04,484.90 L102.02,479.91 L102.03,479.91Z" fill="#fff" stroke="#fff" stroke-width="4.80" stroke-linejoin="round"/><path d="M106.88,504.69 L106.88,505.11 L102.24,509.76 L101.81,509.76 L97.17,505.11 L97.17,504.69 L101.81,500.04 L102.24,500.04Z" fill="#fff" stroke="#fff" stroke-width="4.80" stroke-linejoin="round"/><path d="M106.75,524.48 L106.75,525.32 L102.45,529.63 L101.60,529.63 L97.30,525.32 L97.30,524.48 L101.60,520.17 L102.45,520.17Z" fill="#fff" stroke="#fff" stroke-width="4.80" stroke-linejoin="round"/><path d="M106.62,544.27 L106.62,545.53 L102.66,549.50 L101.39,549.50 L97.43,545.53 L97.43,544.27 L101.39,540.30 L102.66,540.30Z" fill="#fff" stroke="#fff" stroke-width="4.80" stroke-linejoin="round"/><path d="M126.54,384.90 L121.88,389.57 L117.21,384.90 L121.88,380.23Z" fill="#fff" stroke="#fff" stroke-width="4.80" stroke-linejoin="round"/><path d="M126.54,404.90 L121.88,409.57 L117.21,404.90 L121.88,400.23Z" fill="#fff" stroke="#fff" stroke-width="4.80" stroke-linejoin="round"/><path d="M126.62,424.90 L121.88,429.65 L117.13,424.90 L121.88,420.15Z" fill="#fff" stroke="#fff" stroke-width="4.80" stroke-linejoin="round"/><path d="M126.70,444.90 L121.88,449.73 L117.05,444.90 L121.88,440.07Z" fill="#fff" stroke="#fff" stroke-width="4.80" stroke-linejoin="round"/><path d="M126.78,464.90 L121.88,469.81 L116.97,464.90 L121.88,459.99Z" fill="#fff" stroke="#fff" stroke-width="4.80" stroke-linejoin="round"/><path d="M126.86,484.90 L126.86,484.90 L121.88,489.89 L121.87,489.89 L116.89,484.90 L116.89,484.90 L121.87,479.91 L121.88,479.91Z" fill="#fff" stroke="#fff" stroke-width="4.80" stroke-linejoin="round"/><path d="M126.73,504.69 L126.73,505.11 L122.09,509.76 L121.66,509.76 L117.02,505.11 L117.02,504.69 L121.66,500.04 L122.09,500.04Z" fill="#fff" stroke="#fff" stroke-width="4.80" stroke-linejoin="round"/><path d="M126.60,524.48 L126.60,525.32 L122.30,529.63 L121.45,529.63 L117.15,525.32 L117.15,524.48 L121.45,520.17 L122.30,520.17Z" fill="#fff" stroke="#fff" stroke-width="4.80" stroke-linejoin="round"/><path d="M126.47,544.27 L126.47,545.53 L122.51,549.50 L121.24,549.50 L117.28,545.53 L117.28,544.27 L121.24,540.30 L122.51,540.30Z" fill="#fff" stroke="#fff" stroke-width="4.80" stroke-linejoin="round"/><path d="M146.39,384.90 L141.72,389.57 L137.06,384.90 L141.72,380.23Z" fill="#fff" stroke="#fff" stroke-width="4.80" stroke-linejoin="round"/><path d="M146.39,404.90 L141.72,409.57 L137.06,404.90 L141.72,400.23Z" fill="#fff" stroke="#fff" stroke-width="4.80" stroke-linejoin="round"/><path d="M146.47,424.90 L141.72,429.65 L136.98,424.90 L141.72,420.15Z" fill="#fff" stroke="#fff" stroke-width="4.80" stroke-linejoin="round"/><path d="M146.55,444.90 L141.72,449.73 L136.90,444.90 L141.72,440.07Z" fill="#fff" stroke="#fff" stroke-width="4.80" stroke-linejoin="round"/><path d="M146.63,464.90 L141.72,469.81 L136.82,464.90 L141.72,459.99Z" fill="#fff" stroke="#fff" stroke-width="4.80" stroke-linejoin="round"/><path d="M146.71,484.90 L146.71,484.90 L141.73,489.89 L141.72,489.89 L136.74,484.90 L136.74,484.90 L141.72,479.91 L141.73,479.91Z" fill="#fff" stroke="#fff" stroke-width="4.80" stroke-linejoin="round"/><path d="M146.58,504.69 L146.58,505.11 L141.94,509.76 L141.51,509.76 L136.87,505.11 L136.87,504.69 L141.51,500.04 L141.94,500.04Z" fill="#fff" stroke="#fff" stroke-width="4.80" stroke-linejoin="round"/><path d="M146.45,524.48 L146.45,525.32 L142.15,529.63 L141.30,529.63 L137.00,525.32 L137.00,524.48 L141.30,520.17 L142.15,520.17Z" fill="#fff" stroke="#fff" stroke-width="4.80" stroke-linejoin="round"/><path d="M146.32,544.27 L146.32,545.53 L142.36,549.50 L141.09,549.50 L137.12,545.53 L137.12,544.27 L141.09,540.30 L142.36,540.30Z" fill="#fff" stroke="#fff" stroke-width="4.80" stroke-linejoin="round"/><path d="M166.24,384.90 L161.58,389.57 L156.91,384.90 L161.58,380.23Z" fill="#fff" stroke="#fff" stroke-width="4.80" stroke-linejoin="round"/><path d="M166.24,404.90 L161.58,409.57 L156.91,404.90 L161.58,400.23Z" fill="#fff" stroke="#fff" stroke-width="4.80" stroke-linejoin="round"/><path d="M166.32,424.90 L161.58,429.65 L156.83,424.90 L161.58,420.15Z" fill="#fff" stroke="#fff" stroke-width="4.80" stroke-linejoin="round"/><path d="M166.40,444.90 L161.58,449.73 L156.75,444.90 L161.58,440.07Z" fill="#fff" stroke="#fff" stroke-width="4.80" stroke-linejoin="round"/><path d="M166.48,464.90 L161.58,469.81 L156.67,464.90 L161.58,459.99Z" fill="#fff" stroke="#fff" stroke-width="4.80" stroke-linejoin="round"/><path d="M166.56,484.90 L166.56,484.90 L161.58,489.89 L161.57,489.89 L156.59,484.90 L156.59,484.90 L161.57,479.91 L161.58,479.91Z" fill="#fff" stroke="#fff" stroke-width="4.80" stroke-linejoin="round"/><path d="M166.43,504.69 L166.43,505.11 L161.79,509.76 L161.36,509.76 L156.72,505.11 L156.72,504.69 L161.36,500.04 L161.79,500.04Z" fill="#fff" stroke="#fff" stroke-width="4.80" stroke-linejoin="round"/><path d="M166.30,524.48 L166.30,525.32 L162.00,529.63 L161.15,529.63 L156.85,525.32 L156.85,524.48 L161.15,520.17 L162.00,520.17Z" fill="#fff" stroke="#fff" stroke-width="4.80" stroke-linejoin="round"/><path d="M166.18,544.27 L166.18,545.53 L162.21,549.50 L160.94,549.50 L156.98,545.53 L156.98,544.27 L160.94,540.30 L162.21,540.30Z" fill="#fff" stroke="#fff" stroke-width="4.80" stroke-linejoin="round"/><path d="M186.09,384.90 L181.43,389.57 L176.76,384.90 L181.43,380.23Z" fill="#fff" stroke="#fff" stroke-width="4.80" stroke-linejoin="round"/><path d="M186.09,404.90 L181.43,409.57 L176.76,404.90 L181.43,400.23Z" fill="#fff" stroke="#fff" stroke-width="4.80" stroke-linejoin="round"/><path d="M186.17,424.90 L181.43,429.65 L176.68,424.90 L181.43,420.15Z" fill="#fff" stroke="#fff" stroke-width="4.80" stroke-linejoin="round"/><path d="M186.25,444.90 L181.43,449.73 L176.60,444.90 L181.43,440.07Z" fill="#fff" stroke="#fff" stroke-width="4.80" stroke-linejoin="round"/><path d="M186.33,464.90 L181.43,469.81 L176.52,464.90 L181.43,459.99Z" fill="#fff" stroke="#fff" stroke-width="4.80" stroke-linejoin="round"/><path d="M186.41,484.90 L186.41,484.90 L181.43,489.89 L181.42,489.89 L176.44,484.90 L176.44,484.90 L181.42,479.91 L181.43,479.91Z" fill="#fff" stroke="#fff" stroke-width="4.80" stroke-linejoin="round"/><path d="M186.28,504.69 L186.28,505.11 L181.64,509.76 L181.21,509.76 L176.57,505.11 L176.57,504.69 L181.21,500.04 L181.64,500.04Z" fill="#fff" stroke="#fff" stroke-width="4.80" stroke-linejoin="round"/><path d="M186.15,524.48 L186.15,525.32 L181.85,529.63 L181.00,529.63 L176.70,525.32 L176.70,524.48 L181.00,520.17 L181.85,520.17Z" fill="#fff" stroke="#fff" stroke-width="4.80" stroke-linejoin="round"/><path d="M186.03,544.27 L186.03,545.53 L182.06,549.50 L180.79,549.50 L176.83,545.53 L176.83,544.27 L180.79,540.30 L182.06,540.30Z" fill="#fff" stroke="#fff" stroke-width="4.80" stroke-linejoin="round"/><path d="M205.94,384.90 L201.28,389.57 L196.61,384.90 L201.28,380.23Z" fill="#fff" stroke="#fff" stroke-width="4.80" stroke-linejoin="round"/><path d="M205.94,404.90 L201.28,409.57 L196.61,404.90 L201.28,400.23Z" fill="#fff" stroke="#fff" stroke-width="4.80" stroke-linejoin="round"/><path d="M206.02,424.90 L201.28,429.65 L196.53,424.90 L201.28,420.15Z" fill="#fff" stroke="#fff" stroke-width="4.80" stroke-linejoin="round"/><path d="M206.10,444.90 L201.28,449.73 L196.45,444.90 L201.28,440.07Z" fill="#fff" stroke="#fff" stroke-width="4.80" stroke-linejoin="round"/><path d="M206.18,464.90 L201.28,469.81 L196.37,464.90 L201.28,459.99Z" fill="#fff" stroke="#fff" stroke-width="4.80" stroke-linejoin="round"/><path d="M206.26,484.90 L206.26,484.90 L201.28,489.89 L201.27,489.89 L196.29,484.90 L196.29,484.90 L201.27,479.91 L201.28,479.91Z" fill="#fff" stroke="#fff" stroke-width="4.80" stroke-linejoin="round"/><path d="M206.13,504.69 L206.13,505.11 L201.49,509.76 L201.06,509.76 L196.42,505.11 L196.42,504.69 L201.06,500.04 L201.49,500.04Z" fill="#fff" stroke="#fff" stroke-width="4.80" stroke-linejoin="round"/><path d="M206.00,524.48 L206.00,525.32 L201.70,529.63 L200.85,529.63 L196.55,525.32 L196.55,524.48 L200.85,520.17 L201.70,520.17Z" fill="#fff" stroke="#fff" stroke-width="4.80" stroke-linejoin="round"/><path d="M205.88,544.27 L205.88,545.53 L201.91,549.50 L200.64,549.50 L196.68,545.53 L196.68,544.27 L200.64,540.30 L201.91,540.30Z" fill="#fff" stroke="#fff" stroke-width="4.80" stroke-linejoin="round"/></g></g>
<g clip-path="url(#c2)"><rect x="214" y="386" width="156.00" height="154.00" fill="#44ae80"/>
<ellipse cx="228.60" cy="400.70" rx="10.50" ry="8.60" fill="#3c9a98"/>
<ellipse cx="228.60" cy="431.90" rx="10.50" ry="8.60" fill="#3c9a98"/>
<ellipse cx="228.60" cy="463.10" rx="10.50" ry="8.60" fill="#2f6cb4"/>
<ellipse cx="228.60" cy="494.30" rx="10.50" ry="8.60" fill="#2f6cb4"/>
<ellipse cx="228.60" cy="525.50" rx="10.50" ry="8.60" fill="#2f6cb4"/>
<ellipse cx="260.45" cy="400.70" rx="10.50" ry="8.60" fill="#3c9a98"/>
<ellipse cx="260.45" cy="431.90" rx="10.50" ry="8.60" fill="#3c9a98"/>
<ellipse cx="260.45" cy="463.10" rx="10.50" ry="8.60" fill="#2f6cb4"/>
<ellipse cx="260.45" cy="494.30" rx="10.50" ry="8.60" fill="#2f6cb4"/>
<ellipse cx="260.45" cy="525.50" rx="10.50" ry="8.60" fill="#2f6cb4"/>
<ellipse cx="292.30" cy="400.70" rx="10.50" ry="8.60" fill="#3c9a98"/>
<ellipse cx="292.30" cy="431.90" rx="10.50" ry="8.60" fill="#3c9a98"/>
<ellipse cx="292.30" cy="463.10" rx="10.50" ry="8.60" fill="#2f6cb4"/>
<ellipse cx="292.30" cy="494.30" rx="10.50" ry="8.60" fill="#2f6cb4"/>
<ellipse cx="292.30" cy="525.50" rx="10.50" ry="8.60" fill="#2f6cb4"/>
<ellipse cx="324.15" cy="400.70" rx="10.50" ry="8.60" fill="#3c9a98"/>
<ellipse cx="324.15" cy="431.90" rx="10.50" ry="8.60" fill="#3c9a98"/>
<ellipse cx="324.15" cy="463.10" rx="10.50" ry="8.60" fill="#2f6cb4"/>
<ellipse cx="324.15" cy="494.30" rx="10.50" ry="8.60" fill="#2f6cb4"/>
<ellipse cx="324.15" cy="525.50" rx="10.50" ry="8.60" fill="#2f6cb4"/>
<ellipse cx="356.00" cy="400.70" rx="10.50" ry="8.60" fill="#3c9a98"/>
<ellipse cx="356.00" cy="431.90" rx="10.50" ry="8.60" fill="#3c9a98"/>
<ellipse cx="356.00" cy="463.10" rx="10.50" ry="8.60" fill="#2f6cb4"/>
<ellipse cx="356.00" cy="494.30" rx="10.50" ry="8.60" fill="#2f6cb4"/>
<ellipse cx="356.00" cy="525.50" rx="10.50" ry="8.60" fill="#2f6cb4"/>
<rect x="224.60" y="386.00" width="8.00" height="14.70" fill="#46b27a"/>
<rect x="224.60" y="400.70" width="8.00" height="31.20" fill="#46b27a"/>
<rect x="224.60" y="431.90" width="8.00" height="31.20" fill="#46b27a"/>
<rect x="224.60" y="463.10" width="8.00" height="31.20" fill="#46b27a"/>
<rect x="224.60" y="494.30" width="8.00" height="31.20" fill="#46b27a"/>
<rect x="224.60" y="525.50" width="8.00" height="14.50" fill="#46b27a"/>
<rect x="256.45" y="386.00" width="8.00" height="14.70" fill="#46b27a"/>
<rect x="256.45" y="400.70" width="8.00" height="31.20" fill="#46b27a"/>
<rect x="256.45" y="431.90" width="8.00" height="31.20" fill="#46b27a"/>
<rect x="256.45" y="463.10" width="8.00" height="31.20" fill="#46b27a"/>
<rect x="256.45" y="494.30" width="8.00" height="31.20" fill="#46b27a"/>
<rect x="256.45" y="525.50" width="8.00" height="14.50" fill="#46b27a"/>
<rect x="288.30" y="386.00" width="8.00" height="14.70" fill="#46b27a"/>
<rect x="288.30" y="400.70" width="8.00" height="31.20" fill="#46b27a"/>
<rect x="288.30" y="431.90" width="8.00" height="31.20" fill="#46b27a"/>
<rect x="288.30" y="463.10" width="8.00" height="31.20" fill="#46b27a"/>
<rect x="288.30" y="494.30" width="8.00" height="31.20" fill="#46b27a"/>
<rect x="288.30" y="525.50" width="8.00" height="14.50" fill="#46b27a"/>
<rect x="320.15" y="386.00" width="8.00" height="14.70" fill="#46b27a"/>
<rect x="320.15" y="400.70" width="8.00" height="31.20" fill="#46b27a"/>
<rect x="320.15" y="431.90" width="8.00" height="31.20" fill="#46b27a"/>
<rect x="320.15" y="463.10" width="8.00" height="31.20" fill="#46b27a"/>
<rect x="320.15" y="494.30" width="8.00" height="31.20" fill="#46b27a"/>
<rect x="320.15" y="525.50" width="8.00" height="14.50" fill="#46b27a"/>
<rect x="352.00" y="386.00" width="8.00" height="14.70" fill="#46b27a"/>
<rect x="352.00" y="400.70" width="8.00" height="31.20" fill="#46b27a"/>
<rect x="352.00" y="431.90" width="8.00" height="31.20" fill="#46b27a"/>
<rect x="352.00" y="463.10" width="8.00" height="31.20" fill="#46b27a"/>
<rect x="352.00" y="494.30" width="8.00" height="31.20" fill="#46b27a"/>
<rect x="352.00" y="525.50" width="8.00" height="14.50" fill="#46b27a"/>
<circle cx="228.60" cy="400.70" r="8.90" fill="none" stroke="url(#g2r)" stroke-width="2.20"/>
<circle cx="228.60" cy="431.90" r="8.90" fill="none" stroke="#8cb848" stroke-width="2.20"/>
<circle cx="228.60" cy="463.10" r="8.90" fill="none" stroke="#64b460" stroke-width="2.20"/>
<circle cx="228.60" cy="494.30" r="8.90" fill="none" stroke="#50ae70" stroke-width="2.20"/>
<circle cx="228.60" cy="525.50" r="8.90" fill="none" stroke="#48aa78" stroke-width="2.20"/>
<circle cx="260.45" cy="400.70" r="8.90" fill="none" stroke="url(#g2r)" stroke-width="2.20"/>
<circle cx="260.45" cy="431.90" r="8.90" fill="none" stroke="#8cb848" stroke-width="2.20"/>
<circle cx="260.45" cy="463.10" r="8.90" fill="none" stroke="#64b460" stroke-width="2.20"/>
<circle cx="260.45" cy="494.30" r="8.90" fill="none" stroke="#50ae70" stroke-width="2.20"/>
<circle cx="260.45" cy="525.50" r="8.90" fill="none" stroke="#48aa78" stroke-width="2.20"/>
<circle cx="292.30" cy="400.70" r="8.90" fill="none" stroke="url(#g2r)" stroke-width="2.20"/>
<circle cx="292.30" cy="431.90" r="8.90" fill="none" stroke="#8cb848" stroke-width="2.20"/>
<circle cx="292.30" cy="463.10" r="8.90" fill="none" stroke="#64b460" stroke-width="2.20"/>
<circle cx="292.30" cy="494.30" r="8.90" fill="none" stroke="#50ae70" stroke-width="2.20"/>
<circle cx="292.30" cy="525.50" r="8.90" fill="none" stroke="#48aa78" stroke-width="2.20"/>
<circle cx="324.15" cy="400.70" r="8.90" fill="none" stroke="url(#g2r)" stroke-width="2.20"/>
<circle cx="324.15" cy="431.90" r="8.90" fill="none" stroke="#8cb848" stroke-width="2.20"/>
<circle cx="324.15" cy="463.10" r="8.90" fill="none" stroke="#64b460" stroke-width="2.20"/>
<circle cx="324.15" cy="494.30" r="8.90" fill="none" stroke="#50ae70" stroke-width="2.20"/>
<circle cx="324.15" cy="525.50" r="8.90" fill="none" stroke="#48aa78" stroke-width="2.20"/>
<circle cx="356.00" cy="400.70" r="8.90" fill="none" stroke="url(#g2r)" stroke-width="2.20"/>
<circle cx="356.00" cy="431.90" r="8.90" fill="none" stroke="#8cb848" stroke-width="2.20"/>
<circle cx="356.00" cy="463.10" r="8.90" fill="none" stroke="#64b460" stroke-width="2.20"/>
<circle cx="356.00" cy="494.30" r="8.90" fill="none" stroke="#50ae70" stroke-width="2.20"/>
<circle cx="356.00" cy="525.50" r="8.90" fill="none" stroke="#48aa78" stroke-width="2.20"/>
<rect x="214.00" y="396.90" width="14.60" height="7.60" fill="#3060bc"/>
<rect x="228.60" y="396.90" width="31.85" height="7.60" fill="#3060bc"/>
<rect x="260.45" y="396.90" width="31.85" height="7.60" fill="#3060bc"/>
<rect x="292.30" y="396.90" width="31.85" height="7.60" fill="#3060bc"/>
<rect x="324.15" y="396.90" width="31.85" height="7.60" fill="#3060bc"/>
<rect x="356.00" y="396.90" width="14.00" height="7.60" fill="#3060bc"/>
<rect x="214.00" y="428.10" width="14.60" height="7.60" fill="#2f5cb8"/>
<rect x="228.60" y="428.10" width="31.85" height="7.60" fill="#2f5cb8"/>
<rect x="260.45" y="428.10" width="31.85" height="7.60" fill="#2f5cb8"/>
<rect x="292.30" y="428.10" width="31.85" height="7.60" fill="#2f5cb8"/>
<rect x="324.15" y="428.10" width="31.85" height="7.60" fill="#2f5cb8"/>
<rect x="356.00" y="428.10" width="14.00" height="7.60" fill="#2f5cb8"/>
<rect x="214.00" y="459.30" width="14.60" height="7.60" fill="#2a4eb0"/>
<rect x="228.60" y="459.30" width="31.85" height="7.60" fill="#2a4eb0"/>
<rect x="260.45" y="459.30" width="31.85" height="7.60" fill="#2a4eb0"/>
<rect x="292.30" y="459.30" width="31.85" height="7.60" fill="#2a4eb0"/>
<rect x="324.15" y="459.30" width="31.85" height="7.60" fill="#2a4eb0"/>
<rect x="356.00" y="459.30" width="14.00" height="7.60" fill="#2a4eb0"/>
<rect x="214.00" y="490.50" width="14.60" height="7.60" fill="#2440a4"/>
<rect x="228.60" y="490.50" width="31.85" height="7.60" fill="#2440a4"/>
<rect x="260.45" y="490.50" width="31.85" height="7.60" fill="#2440a4"/>
<rect x="292.30" y="490.50" width="31.85" height="7.60" fill="#2440a4"/>
<rect x="324.15" y="490.50" width="31.85" height="7.60" fill="#2440a4"/>
<rect x="356.00" y="490.50" width="14.00" height="7.60" fill="#2440a4"/>
<rect x="214.00" y="521.70" width="14.60" height="7.60" fill="#20389a"/>
<rect x="228.60" y="521.70" width="31.85" height="7.60" fill="#20389a"/>
<rect x="260.45" y="521.70" width="31.85" height="7.60" fill="#20389a"/>
<rect x="292.30" y="521.70" width="31.85" height="7.60" fill="#20389a"/>
<rect x="324.15" y="521.70" width="31.85" height="7.60" fill="#20389a"/>
<rect x="356.00" y="521.70" width="14.00" height="7.60" fill="#20389a"/>
<g filter="url(#sb)">
<ellipse cx="228.60" cy="391.90" rx="2.80" ry="2.20" fill="#e03a20"/>
<ellipse cx="228.60" cy="409.30" rx="2.60" ry="2.00" fill="#e05a20"/>
<ellipse cx="220.80" cy="393.90" rx="2.00" ry="2.00" fill="#f0b020"/>
<ellipse cx="236.40" cy="393.90" rx="2.00" ry="2.00" fill="#f0a020"/>
<ellipse cx="220.80" cy="407.50" rx="1.80" ry="1.80" fill="#e0c830"/>
<ellipse cx="236.40" cy="407.50" rx="1.80" ry="1.80" fill="#e0c830"/>
<ellipse cx="228.60" cy="423.30" rx="2.20" ry="1.80" fill="#e89020"/>
<ellipse cx="228.60" cy="440.50" rx="2.20" ry="1.80" fill="#e8a828"/>
<ellipse cx="228.60" cy="454.70" rx="1.60" ry="1.30" fill="#b8c440"/>
<ellipse cx="228.60" cy="471.50" rx="1.60" ry="1.30" fill="#a8c048"/>
<ellipse cx="228.60" cy="485.90" rx="1.60" ry="1.30" fill="#b8c440"/>
<ellipse cx="228.60" cy="502.70" rx="1.60" ry="1.30" fill="#a8c048"/>
<ellipse cx="228.60" cy="517.10" rx="1.60" ry="1.30" fill="#b8c440"/>
<ellipse cx="228.60" cy="533.90" rx="1.60" ry="1.30" fill="#a8c048"/>
<ellipse cx="260.45" cy="391.90" rx="2.80" ry="2.20" fill="#e03a20"/>
<ellipse cx="260.45" cy="409.30" rx="2.60" ry="2.00" fill="#e05a20"/>
<ellipse cx="252.65" cy="393.90" rx="2.00" ry="2.00" fill="#f0b020"/>
<ellipse cx="268.25" cy="393.90" rx="2.00" ry="2.00" fill="#f0a020"/>
<ellipse cx="252.65" cy="407.50" rx="1.80" ry="1.80" fill="#e0c830"/>
<ellipse cx="268.25" cy="407.50" rx="1.80" ry="1.80" fill="#e0c830"/>
<ellipse cx="260.45" cy="423.30" rx="2.20" ry="1.80" fill="#e89020"/>
<ellipse cx="260.45" cy="440.50" rx="2.20" ry="1.80" fill="#e8a828"/>
<ellipse cx="260.45" cy="454.70" rx="1.60" ry="1.30" fill="#b8c440"/>
<ellipse cx="260.45" cy="471.50" rx="1.60" ry="1.30" fill="#a8c048"/>
<ellipse cx="260.45" cy="485.90" rx="1.60" ry="1.30" fill="#b8c440"/>
<ellipse cx="260.45" cy="502.70" rx="1.60" ry="1.30" fill="#a8c048"/>
<ellipse cx="260.45" cy="517.10" rx="1.60" ry="1.30" fill="#b8c440"/>
<ellipse cx="260.45" cy="533.90" rx="1.60" ry="1.30" fill="#a8c048"/>
<ellipse cx="292.30" cy="391.90" rx="2.80" ry="2.20" fill="#e03a20"/>
<ellipse cx="292.30" cy="409.30" rx="2.60" ry="2.00" fill="#e05a20"/>
<ellipse cx="284.50" cy="393.90" rx="2.00" ry="2.00" fill="#f0b020"/>
<ellipse cx="300.10" cy="393.90" rx="2.00" ry="2.00" fill="#f0a020"/>
<ellipse cx="284.50" cy="407.50" rx="1.80" ry="1.80" fill="#e0c830"/>
<ellipse cx="300.10" cy="407.50" rx="1.80" ry="1.80" fill="#e0c830"/>
<ellipse cx="292.30" cy="423.30" rx="2.20" ry="1.80" fill="#e89020"/>
<ellipse cx="292.30" cy="440.50" rx="2.20" ry="1.80" fill="#e8a828"/>
<ellipse cx="292.30" cy="454.70" rx="1.60" ry="1.30" fill="#b8c440"/>
<ellipse cx="292.30" cy="471.50" rx="1.60" ry="1.30" fill="#a8c048"/>
<ellipse cx="292.30" cy="485.90" rx="1.60" ry="1.30" fill="#b8c440"/>
<ellipse cx="292.30" cy="502.70" rx="1.60" ry="1.30" fill="#a8c048"/>
<ellipse cx="292.30" cy="517.10" rx="1.60" ry="1.30" fill="#b8c440"/>
<ellipse cx="292.30" cy="533.90" rx="1.60" ry="1.30" fill="#a8c048"/>
<ellipse cx="324.15" cy="391.90" rx="2.80" ry="2.20" fill="#e03a20"/>
<ellipse cx="324.15" cy="409.30" rx="2.60" ry="2.00" fill="#e05a20"/>
<ellipse cx="316.35" cy="393.90" rx="2.00" ry="2.00" fill="#f0b020"/>
<ellipse cx="331.95" cy="393.90" rx="2.00" ry="2.00" fill="#f0a020"/>
<ellipse cx="316.35" cy="407.50" rx="1.80" ry="1.80" fill="#e0c830"/>
<ellipse cx="331.95" cy="407.50" rx="1.80" ry="1.80" fill="#e0c830"/>
<ellipse cx="324.15" cy="423.30" rx="2.20" ry="1.80" fill="#e89020"/>
<ellipse cx="324.15" cy="440.50" rx="2.20" ry="1.80" fill="#e8a828"/>
<ellipse cx="324.15" cy="454.70" rx="1.60" ry="1.30" fill="#b8c440"/>
<ellipse cx="324.15" cy="471.50" rx="1.60" ry="1.30" fill="#a8c048"/>
<ellipse cx="324.15" cy="485.90" rx="1.60" ry="1.30" fill="#b8c440"/>
<ellipse cx="324.15" cy="502.70" rx="1.60" ry="1.30" fill="#a8c048"/>
<ellipse cx="324.15" cy="517.10" rx="1.60" ry="1.30" fill="#b8c440"/>
<ellipse cx="324.15" cy="533.90" rx="1.60" ry="1.30" fill="#a8c048"/>
<ellipse cx="356.00" cy="391.90" rx="2.80" ry="2.20" fill="#e03a20"/>
<ellipse cx="356.00" cy="409.30" rx="2.60" ry="2.00" fill="#e05a20"/>
<ellipse cx="348.20" cy="393.90" rx="2.00" ry="2.00" fill="#f0b020"/>
<ellipse cx="363.80" cy="393.90" rx="2.00" ry="2.00" fill="#f0a020"/>
<ellipse cx="348.20" cy="407.50" rx="1.80" ry="1.80" fill="#e0c830"/>
<ellipse cx="363.80" cy="407.50" rx="1.80" ry="1.80" fill="#e0c830"/>
<ellipse cx="356.00" cy="423.30" rx="2.20" ry="1.80" fill="#e89020"/>
<ellipse cx="356.00" cy="440.50" rx="2.20" ry="1.80" fill="#e8a828"/>
<ellipse cx="356.00" cy="454.70" rx="1.60" ry="1.30" fill="#b8c440"/>
<ellipse cx="356.00" cy="471.50" rx="1.60" ry="1.30" fill="#a8c048"/>
<ellipse cx="356.00" cy="485.90" rx="1.60" ry="1.30" fill="#b8c440"/>
<ellipse cx="356.00" cy="502.70" rx="1.60" ry="1.30" fill="#a8c048"/>
<ellipse cx="356.00" cy="517.10" rx="1.60" ry="1.30" fill="#b8c440"/>
<ellipse cx="356.00" cy="533.90" rx="1.60" ry="1.30" fill="#a8c048"/>
</g>
<path d="M228.60,395.80 Q230.90,398.40 233.50,400.70 Q230.90,403.00 228.60,405.60 Q226.30,403.00 223.70,400.70 Q226.30,398.40 228.60,395.80Z" fill="#1c34a0"/>
<path d="M228.60,427.00 Q230.90,429.60 233.50,431.90 Q230.90,434.20 228.60,436.80 Q226.30,434.20 223.70,431.90 Q226.30,429.60 228.60,427.00Z" fill="#1c34a0"/>
<path d="M228.60,458.20 Q230.90,460.80 233.50,463.10 Q230.90,465.40 228.60,468.00 Q226.30,465.40 223.70,463.10 Q226.30,460.80 228.60,458.20Z" fill="#1c34a0"/>
<path d="M228.60,489.40 Q230.90,492.00 233.50,494.30 Q230.90,496.60 228.60,499.20 Q226.30,496.60 223.70,494.30 Q226.30,492.00 228.60,489.40Z" fill="#1c34a0"/>
<path d="M228.60,520.60 Q230.90,523.20 233.50,525.50 Q230.90,527.80 228.60,530.40 Q226.30,527.80 223.70,525.50 Q226.30,523.20 228.60,520.60Z" fill="#1c34a0"/>
<path d="M260.45,395.80 Q262.75,398.40 265.35,400.70 Q262.75,403.00 260.45,405.60 Q258.15,403.00 255.55,400.70 Q258.15,398.40 260.45,395.80Z" fill="#1c34a0"/>
<path d="M260.45,427.00 Q262.75,429.60 265.35,431.90 Q262.75,434.20 260.45,436.80 Q258.15,434.20 255.55,431.90 Q258.15,429.60 260.45,427.00Z" fill="#1c34a0"/>
<path d="M260.45,458.20 Q262.75,460.80 265.35,463.10 Q262.75,465.40 260.45,468.00 Q258.15,465.40 255.55,463.10 Q258.15,460.80 260.45,458.20Z" fill="#1c34a0"/>
<path d="M260.45,489.40 Q262.75,492.00 265.35,494.30 Q262.75,496.60 260.45,499.20 Q258.15,496.60 255.55,494.30 Q258.15,492.00 260.45,489.40Z" fill="#1c34a0"/>
<path d="M260.45,520.60 Q262.75,523.20 265.35,525.50 Q262.75,527.80 260.45,530.40 Q258.15,527.80 255.55,525.50 Q258.15,523.20 260.45,520.60Z" fill="#1c34a0"/>
<path d="M292.30,395.80 Q294.60,398.40 297.20,400.70 Q294.60,403.00 292.30,405.60 Q290.00,403.00 287.40,400.70 Q290.00,398.40 292.30,395.80Z" fill="#1c34a0"/>
<path d="M292.30,427.00 Q294.60,429.60 297.20,431.90 Q294.60,434.20 292.30,436.80 Q290.00,434.20 287.40,431.90 Q290.00,429.60 292.30,427.00Z" fill="#1c34a0"/>
<path d="M292.30,458.20 Q294.60,460.80 297.20,463.10 Q294.60,465.40 292.30,468.00 Q290.00,465.40 287.40,463.10 Q290.00,460.80 292.30,458.20Z" fill="#1c34a0"/>
<path d="M292.30,489.40 Q294.60,492.00 297.20,494.30 Q294.60,496.60 292.30,499.20 Q290.00,496.60 287.40,494.30 Q290.00,492.00 292.30,489.40Z" fill="#1c34a0"/>
<path d="M292.30,520.60 Q294.60,523.20 297.20,525.50 Q294.60,527.80 292.30,530.40 Q290.00,527.80 287.40,525.50 Q290.00,523.20 292.30,520.60Z" fill="#1c34a0"/>
<path d="M324.15,395.80 Q326.45,398.40 329.05,400.70 Q326.45,403.00 324.15,405.60 Q321.85,403.00 319.25,400.70 Q321.85,398.40 324.15,395.80Z" fill="#1c34a0"/>
<path d="M324.15,427.00 Q326.45,429.60 329.05,431.90 Q326.45,434.20 324.15,436.80 Q321.85,434.20 319.25,431.90 Q321.85,429.60 324.15,427.00Z" fill="#1c34a0"/>
<path d="M324.15,458.20 Q326.45,460.80 329.05,463.10 Q326.45,465.40 324.15,468.00 Q321.85,465.40 319.25,463.10 Q321.85,460.80 324.15,458.20Z" fill="#1c34a0"/>
<path d="M324.15,489.40 Q326.45,492.00 329.05,494.30 Q326.45,496.60 324.15,499.20 Q321.85,496.60 319.25,494.30 Q321.85,492.00 324.15,489.40Z" fill="#1c34a0"/>
<path d="M324.15,520.60 Q326.45,523.20 329.05,525.50 Q326.45,527.80 324.15,530.40 Q321.85,527.80 319.25,525.50 Q321.85,523.20 324.15,520.60Z" fill="#1c34a0"/>
<path d="M356.00,395.80 Q358.30,398.40 360.90,400.70 Q358.30,403.00 356.00,405.60 Q353.70,403.00 351.10,400.70 Q353.70,398.40 356.00,395.80Z" fill="#1c34a0"/>
<path d="M356.00,427.00 Q358.30,429.60 360.90,431.90 Q358.30,434.20 356.00,436.80 Q353.70,434.20 351.10,431.90 Q353.70,429.60 356.00,427.00Z" fill="#1c34a0"/>
<path d="M356.00,458.20 Q358.30,460.80 360.90,463.10 Q358.30,465.40 356.00,468.00 Q353.70,465.40 351.10,463.10 Q353.70,460.80 356.00,458.20Z" fill="#1c34a0"/>
<path d="M356.00,489.40 Q358.30,492.00 360.90,494.30 Q358.30,496.60 356.00,499.20 Q353.70,496.60 351.10,494.30 Q353.70,492.00 356.00,489.40Z" fill="#1c34a0"/>
<path d="M356.00,520.60 Q358.30,523.20 360.90,525.50 Q358.30,527.80 356.00,530.40 Q353.70,527.80 351.10,525.50 Q353.70,523.20 356.00,520.60Z" fill="#1c34a0"/>
<use href="#h2" filter="url(#fh2)"/>
<g id="h2"><ellipse cx="223.70" cy="396.70" rx="2.90" ry="1.80" transform="rotate(-45 223.70 396.70)" fill="#fff"/><ellipse cx="223.70" cy="404.70" rx="2.90" ry="1.80" transform="rotate(45 223.70 404.70)" fill="#fff"/><ellipse cx="233.50" cy="396.70" rx="2.90" ry="1.80" transform="rotate(45 233.50 396.70)" fill="#fff"/><ellipse cx="233.50" cy="404.70" rx="2.90" ry="1.80" transform="rotate(-45 233.50 404.70)" fill="#fff"/><ellipse cx="223.70" cy="427.90" rx="2.90" ry="1.80" transform="rotate(-45 223.70 427.90)" fill="#fff"/><ellipse cx="223.70" cy="435.90" rx="2.90" ry="1.80" transform="rotate(45 223.70 435.90)" fill="#fff"/><ellipse cx="233.50" cy="427.90" rx="2.90" ry="1.80" transform="rotate(45 233.50 427.90)" fill="#fff"/><ellipse cx="233.50" cy="435.90" rx="2.90" ry="1.80" transform="rotate(-45 233.50 435.90)" fill="#fff"/><ellipse cx="223.70" cy="459.10" rx="2.90" ry="1.80" transform="rotate(-45 223.70 459.10)" fill="#fff"/><ellipse cx="223.70" cy="467.10" rx="2.90" ry="1.80" transform="rotate(45 223.70 467.10)" fill="#fff"/><ellipse cx="233.50" cy="459.10" rx="2.90" ry="1.80" transform="rotate(45 233.50 459.10)" fill="#fff"/><ellipse cx="233.50" cy="467.10" rx="2.90" ry="1.80" transform="rotate(-45 233.50 467.10)" fill="#fff"/><ellipse cx="223.70" cy="490.30" rx="2.90" ry="1.80" transform="rotate(-45 223.70 490.30)" fill="#fff"/><ellipse cx="223.70" cy="498.30" rx="2.90" ry="1.80" transform="rotate(45 223.70 498.30)" fill="#fff"/><ellipse cx="233.50" cy="490.30" rx="2.90" ry="1.80" transform="rotate(45 233.50 490.30)" fill="#fff"/><ellipse cx="233.50" cy="498.30" rx="2.90" ry="1.80" transform="rotate(-45 233.50 498.30)" fill="#fff"/><ellipse cx="223.70" cy="521.50" rx="2.90" ry="1.80" transform="rotate(-45 223.70 521.50)" fill="#fff"/><ellipse cx="223.70" cy="529.50" rx="2.90" ry="1.80" transform="rotate(45 223.70 529.50)" fill="#fff"/><ellipse cx="233.50" cy="521.50" rx="2.90" ry="1.80" transform="rotate(45 233.50 521.50)" fill="#fff"/><ellipse cx="233.50" cy="529.50" rx="2.90" ry="1.80" transform="rotate(-45 233.50 529.50)" fill="#fff"/><ellipse cx="255.55" cy="396.70" rx="2.90" ry="1.80" transform="rotate(-45 255.55 396.70)" fill="#fff"/><ellipse cx="255.55" cy="404.70" rx="2.90" ry="1.80" transform="rotate(45 255.55 404.70)" fill="#fff"/><ellipse cx="265.35" cy="396.70" rx="2.90" ry="1.80" transform="rotate(45 265.35 396.70)" fill="#fff"/><ellipse cx="265.35" cy="404.70" rx="2.90" ry="1.80" transform="rotate(-45 265.35 404.70)" fill="#fff"/><ellipse cx="255.55" cy="427.90" rx="2.90" ry="1.80" transform="rotate(-45 255.55 427.90)" fill="#fff"/><ellipse cx="255.55" cy="435.90" rx="2.90" ry="1.80" transform="rotate(45 255.55 435.90)" fill="#fff"/><ellipse cx="265.35" cy="427.90" rx="2.90" ry="1.80" transform="rotate(45 265.35 427.90)" fill="#fff"/><ellipse cx="265.35" cy="435.90" rx="2.90" ry="1.80" transform="rotate(-45 265.35 435.90)" fill="#fff"/><ellipse cx="255.55" cy="459.10" rx="2.90" ry="1.80" transform="rotate(-45 255.55 459.10)" fill="#fff"/><ellipse cx="255.55" cy="467.10" rx="2.90" ry="1.80" transform="rotate(45 255.55 467.10)" fill="#fff"/><ellipse cx="265.35" cy="459.10" rx="2.90" ry="1.80" transform="rotate(45 265.35 459.10)" fill="#fff"/><ellipse cx="265.35" cy="467.10" rx="2.90" ry="1.80" transform="rotate(-45 265.35 467.10)" fill="#fff"/><ellipse cx="255.55" cy="490.30" rx="2.90" ry="1.80" transform="rotate(-45 255.55 490.30)" fill="#fff"/><ellipse cx="255.55" cy="498.30" rx="2.90" ry="1.80" transform="rotate(45 255.55 498.30)" fill="#fff"/><ellipse cx="265.35" cy="490.30" rx="2.90" ry="1.80" transform="rotate(45 265.35 490.30)" fill="#fff"/><ellipse cx="265.35" cy="498.30" rx="2.90" ry="1.80" transform="rotate(-45 265.35 498.30)" fill="#fff"/><ellipse cx="255.55" cy="521.50" rx="2.90" ry="1.80" transform="rotate(-45 255.55 521.50)" fill="#fff"/><ellipse cx="255.55" cy="529.50" rx="2.90" ry="1.80" transform="rotate(45 255.55 529.50)" fill="#fff"/><ellipse cx="265.35" cy="521.50" rx="2.90" ry="1.80" transform="rotate(45 265.35 521.50)" fill="#fff"/><ellipse cx="265.35" cy="529.50" rx="2.90" ry="1.80" transform="rotate(-45 265.35 529.50)" fill="#fff"/><ellipse cx="287.40" cy="396.70" rx="2.90" ry="1.80" transform="rotate(-45 287.40 396.70)" fill="#fff"/><ellipse cx="287.40" cy="404.70" rx="2.90" ry="1.80" transform="rotate(45 287.40 404.70)" fill="#fff"/><ellipse cx="297.20" cy="396.70" rx="2.90" ry="1.80" transform="rotate(45 297.20 396.70)" fill="#fff"/><ellipse cx="297.20" cy="404.70" rx="2.90" ry="1.80" transform="rotate(-45 297.20 404.70)" fill="#fff"/><ellipse cx="287.40" cy="427.90" rx="2.90" ry="1.80" transform="rotate(-45 287.40 427.90)" fill="#fff"/><ellipse cx="287.40" cy="435.90" rx="2.90" ry="1.80" transform="rotate(45 287.40 435.90)" fill="#fff"/><ellipse cx="297.20" cy="427.90" rx="2.90" ry="1.80" transform="rotate(45 297.20 427.90)" fill="#fff"/><ellipse cx="297.20" cy="435.90" rx="2.90" ry="1.80" transform="rotate(-45 297.20 435.90)" fill="#fff"/><ellipse cx="287.40" cy="459.10" rx="2.90" ry="1.80" transform="rotate(-45 287.40 459.10)" fill="#fff"/><ellipse cx="287.40" cy="467.10" rx="2.90" ry="1.80" transform="rotate(45 287.40 467.10)" fill="#fff"/><ellipse cx="297.20" cy="459.10" rx="2.90" ry="1.80" transform="rotate(45 297.20 459.10)" fill="#fff"/><ellipse cx="297.20" cy="467.10" rx="2.90" ry="1.80" transform="rotate(-45 297.20 467.10)" fill="#fff"/><ellipse cx="287.40" cy="490.30" rx="2.90" ry="1.80" transform="rotate(-45 287.40 490.30)" fill="#fff"/><ellipse cx="287.40" cy="498.30" rx="2.90" ry="1.80" transform="rotate(45 287.40 498.30)" fill="#fff"/><ellipse cx="297.20" cy="490.30" rx="2.90" ry="1.80" transform="rotate(45 297.20 490.30)" fill="#fff"/><ellipse cx="297.20" cy="498.30" rx="2.90" ry="1.80" transform="rotate(-45 297.20 498.30)" fill="#fff"/><ellipse cx="287.40" cy="521.50" rx="2.90" ry="1.80" transform="rotate(-45 287.40 521.50)" fill="#fff"/><ellipse cx="287.40" cy="529.50" rx="2.90" ry="1.80" transform="rotate(45 287.40 529.50)" fill="#fff"/><ellipse cx="297.20" cy="521.50" rx="2.90" ry="1.80" transform="rotate(45 297.20 521.50)" fill="#fff"/><ellipse cx="297.20" cy="529.50" rx="2.90" ry="1.80" transform="rotate(-45 297.20 529.50)" fill="#fff"/><ellipse cx="319.25" cy="396.70" rx="2.90" ry="1.80" transform="rotate(-45 319.25 396.70)" fill="#fff"/><ellipse cx="319.25" cy="404.70" rx="2.90" ry="1.80" transform="rotate(45 319.25 404.70)" fill="#fff"/><ellipse cx="329.05" cy="396.70" rx="2.90" ry="1.80" transform="rotate(45 329.05 396.70)" fill="#fff"/><ellipse cx="329.05" cy="404.70" rx="2.90" ry="1.80" transform="rotate(-45 329.05 404.70)" fill="#fff"/><ellipse cx="319.25" cy="427.90" rx="2.90" ry="1.80" transform="rotate(-45 319.25 427.90)" fill="#fff"/><ellipse cx="319.25" cy="435.90" rx="2.90" ry="1.80" transform="rotate(45 319.25 435.90)" fill="#fff"/><ellipse cx="329.05" cy="427.90" rx="2.90" ry="1.80" transform="rotate(45 329.05 427.90)" fill="#fff"/><ellipse cx="329.05" cy="435.90" rx="2.90" ry="1.80" transform="rotate(-45 329.05 435.90)" fill="#fff"/><ellipse cx="319.25" cy="459.10" rx="2.90" ry="1.80" transform="rotate(-45 319.25 459.10)" fill="#fff"/><ellipse cx="319.25" cy="467.10" rx="2.90" ry="1.80" transform="rotate(45 319.25 467.10)" fill="#fff"/><ellipse cx="329.05" cy="459.10" rx="2.90" ry="1.80" transform="rotate(45 329.05 459.10)" fill="#fff"/><ellipse cx="329.05" cy="467.10" rx="2.90" ry="1.80" transform="rotate(-45 329.05 467.10)" fill="#fff"/><ellipse cx="319.25" cy="490.30" rx="2.90" ry="1.80" transform="rotate(-45 319.25 490.30)" fill="#fff"/><ellipse cx="319.25" cy="498.30" rx="2.90" ry="1.80" transform="rotate(45 319.25 498.30)" fill="#fff"/><ellipse cx="329.05" cy="490.30" rx="2.90" ry="1.80" transform="rotate(45 329.05 490.30)" fill="#fff"/><ellipse cx="329.05" cy="498.30" rx="2.90" ry="1.80" transform="rotate(-45 329.05 498.30)" fill="#fff"/><ellipse cx="319.25" cy="521.50" rx="2.90" ry="1.80" transform="rotate(-45 319.25 521.50)" fill="#fff"/><ellipse cx="319.25" cy="529.50" rx="2.90" ry="1.80" transform="rotate(45 319.25 529.50)" fill="#fff"/><ellipse cx="329.05" cy="521.50" rx="2.90" ry="1.80" transform="rotate(45 329.05 521.50)" fill="#fff"/><ellipse cx="329.05" cy="529.50" rx="2.90" ry="1.80" transform="rotate(-45 329.05 529.50)" fill="#fff"/><ellipse cx="351.10" cy="396.70" rx="2.90" ry="1.80" transform="rotate(-45 351.10 396.70)" fill="#fff"/><ellipse cx="351.10" cy="404.70" rx="2.90" ry="1.80" transform="rotate(45 351.10 404.70)" fill="#fff"/><ellipse cx="360.90" cy="396.70" rx="2.90" ry="1.80" transform="rotate(45 360.90 396.70)" fill="#fff"/><ellipse cx="360.90" cy="404.70" rx="2.90" ry="1.80" transform="rotate(-45 360.90 404.70)" fill="#fff"/><ellipse cx="351.10" cy="427.90" rx="2.90" ry="1.80" transform="rotate(-45 351.10 427.90)" fill="#fff"/><ellipse cx="351.10" cy="435.90" rx="2.90" ry="1.80" transform="rotate(45 351.10 435.90)" fill="#fff"/><ellipse cx="360.90" cy="427.90" rx="2.90" ry="1.80" transform="rotate(45 360.90 427.90)" fill="#fff"/><ellipse cx="360.90" cy="435.90" rx="2.90" ry="1.80" transform="rotate(-45 360.90 435.90)" fill="#fff"/><ellipse cx="351.10" cy="459.10" rx="2.90" ry="1.80" transform="rotate(-45 351.10 459.10)" fill="#fff"/><ellipse cx="351.10" cy="467.10" rx="2.90" ry="1.80" transform="rotate(45 351.10 467.10)" fill="#fff"/><ellipse cx="360.90" cy="459.10" rx="2.90" ry="1.80" transform="rotate(45 360.90 459.10)" fill="#fff"/><ellipse cx="360.90" cy="467.10" rx="2.90" ry="1.80" transform="rotate(-45 360.90 467.10)" fill="#fff"/><ellipse cx="351.10" cy="490.30" rx="2.90" ry="1.80" transform="rotate(-45 351.10 490.30)" fill="#fff"/><ellipse cx="351.10" cy="498.30" rx="2.90" ry="1.80" transform="rotate(45 351.10 498.30)" fill="#fff"/><ellipse cx="360.90" cy="490.30" rx="2.90" ry="1.80" transform="rotate(45 360.90 490.30)" fill="#fff"/><ellipse cx="360.90" cy="498.30" rx="2.90" ry="1.80" transform="rotate(-45 360.90 498.30)" fill="#fff"/><ellipse cx="351.10" cy="521.50" rx="2.90" ry="1.80" transform="rotate(-45 351.10 521.50)" fill="#fff"/><ellipse cx="351.10" cy="529.50" rx="2.90" ry="1.80" transform="rotate(45 351.10 529.50)" fill="#fff"/><ellipse cx="360.90" cy="521.50" rx="2.90" ry="1.80" transform="rotate(45 360.90 521.50)" fill="#fff"/><ellipse cx="360.90" cy="529.50" rx="2.90" ry="1.80" transform="rotate(-45 360.90 529.50)" fill="#fff"/><path d="M218.37,382.60 L218.37,387.60 L215.18,390.80 L210.17,390.80 L206.97,387.60 L206.97,382.60 L210.17,379.40 L215.18,379.40Z" fill="#fff" stroke="#fff" stroke-width="13.00" stroke-linejoin="round"/><path d="M218.37,413.80 L218.37,418.80 L215.18,422.00 L210.17,422.00 L206.97,418.80 L206.97,413.80 L210.17,410.60 L215.18,410.60Z" fill="#fff" stroke="#fff" stroke-width="13.00" stroke-linejoin="round"/><path d="M218.37,445.00 L218.37,450.00 L215.18,453.20 L210.17,453.20 L206.97,450.00 L206.97,445.00 L210.17,441.80 L215.18,441.80Z" fill="#fff" stroke="#fff" stroke-width="13.00" stroke-linejoin="round"/><path d="M218.37,476.20 L218.37,481.20 L215.18,484.40 L210.17,484.40 L206.97,481.20 L206.97,476.20 L210.17,473.00 L215.18,473.00Z" fill="#fff" stroke="#fff" stroke-width="13.00" stroke-linejoin="round"/><path d="M218.37,507.40 L218.37,512.40 L215.18,515.60 L210.17,515.60 L206.97,512.40 L206.97,507.40 L210.17,504.20 L215.18,504.20Z" fill="#fff" stroke="#fff" stroke-width="13.00" stroke-linejoin="round"/><path d="M218.37,538.60 L218.37,543.60 L215.18,546.80 L210.17,546.80 L206.97,543.60 L206.97,538.60 L210.17,535.40 L215.18,535.40Z" fill="#fff" stroke="#fff" stroke-width="13.00" stroke-linejoin="round"/><path d="M250.22,382.60 L250.22,387.60 L247.03,390.80 L242.02,390.80 L238.83,387.60 L238.83,382.60 L242.02,379.40 L247.03,379.40Z" fill="#fff" stroke="#fff" stroke-width="13.00" stroke-linejoin="round"/><path d="M250.22,413.80 L250.22,418.80 L247.03,422.00 L242.02,422.00 L238.83,418.80 L238.83,413.80 L242.02,410.60 L247.03,410.60Z" fill="#fff" stroke="#fff" stroke-width="13.00" stroke-linejoin="round"/><path d="M250.22,445.00 L250.22,450.00 L247.03,453.20 L242.02,453.20 L238.83,450.00 L238.83,445.00 L242.02,441.80 L247.03,441.80Z" fill="#fff" stroke="#fff" stroke-width="13.00" stroke-linejoin="round"/><path d="M250.22,476.20 L250.22,481.20 L247.03,484.40 L242.02,484.40 L238.83,481.20 L238.83,476.20 L242.02,473.00 L247.03,473.00Z" fill="#fff" stroke="#fff" stroke-width="13.00" stroke-linejoin="round"/><path d="M250.22,507.40 L250.22,512.40 L247.03,515.60 L242.02,515.60 L238.83,512.40 L238.83,507.40 L242.02,504.20 L247.03,504.20Z" fill="#fff" stroke="#fff" stroke-width="13.00" stroke-linejoin="round"/><path d="M250.22,538.60 L250.22,543.60 L247.03,546.80 L242.02,546.80 L238.83,543.60 L238.83,538.60 L242.02,535.40 L247.03,535.40Z" fill="#fff" stroke="#fff" stroke-width="13.00" stroke-linejoin="round"/><path d="M282.07,382.60 L282.07,387.60 L278.88,390.80 L273.87,390.80 L270.68,387.60 L270.68,382.60 L273.87,379.40 L278.88,379.40Z" fill="#fff" stroke="#fff" stroke-width="13.00" stroke-linejoin="round"/><path d="M282.07,413.80 L282.07,418.80 L278.88,422.00 L273.87,422.00 L270.68,418.80 L270.68,413.80 L273.87,410.60 L278.88,410.60Z" fill="#fff" stroke="#fff" stroke-width="13.00" stroke-linejoin="round"/><path d="M282.07,445.00 L282.07,450.00 L278.88,453.20 L273.87,453.20 L270.68,450.00 L270.68,445.00 L273.87,441.80 L278.88,441.80Z" fill="#fff" stroke="#fff" stroke-width="13.00" stroke-linejoin="round"/><path d="M282.07,476.20 L282.07,481.20 L278.88,484.40 L273.87,484.40 L270.68,481.20 L270.68,476.20 L273.87,473.00 L278.88,473.00Z" fill="#fff" stroke="#fff" stroke-width="13.00" stroke-linejoin="round"/><path d="M282.07,507.40 L282.07,512.40 L278.88,515.60 L273.87,515.60 L270.68,512.40 L270.68,507.40 L273.87,504.20 L278.88,504.20Z" fill="#fff" stroke="#fff" stroke-width="13.00" stroke-linejoin="round"/><path d="M282.07,538.60 L282.07,543.60 L278.88,546.80 L273.87,546.80 L270.68,543.60 L270.68,538.60 L273.87,535.40 L278.88,535.40Z" fill="#fff" stroke="#fff" stroke-width="13.00" stroke-linejoin="round"/><path d="M313.93,382.60 L313.93,387.60 L310.73,390.80 L305.72,390.80 L302.53,387.60 L302.53,382.60 L305.72,379.40 L310.73,379.40Z" fill="#fff" stroke="#fff" stroke-width="13.00" stroke-linejoin="round"/><path d="M313.93,413.80 L313.93,418.80 L310.73,422.00 L305.72,422.00 L302.53,418.80 L302.53,413.80 L305.72,410.60 L310.73,410.60Z" fill="#fff" stroke="#fff" stroke-width="13.00" stroke-linejoin="round"/><path d="M313.93,445.00 L313.93,450.00 L310.73,453.20 L305.72,453.20 L302.53,450.00 L302.53,445.00 L305.72,441.80 L310.73,441.80Z" fill="#fff" stroke="#fff" stroke-width="13.00" stroke-linejoin="round"/><path d="M313.93,476.20 L313.93,481.20 L310.73,484.40 L305.72,484.40 L302.53,481.20 L302.53,476.20 L305.72,473.00 L310.73,473.00Z" fill="#fff" stroke="#fff" stroke-width="13.00" stroke-linejoin="round"/><path d="M313.93,507.40 L313.93,512.40 L310.73,515.60 L305.72,515.60 L302.53,512.40 L302.53,507.40 L305.72,504.20 L310.73,504.20Z" fill="#fff" stroke="#fff" stroke-width="13.00" stroke-linejoin="round"/><path d="M313.93,538.60 L313.93,543.60 L310.73,546.80 L305.72,546.80 L302.53,543.60 L302.53,538.60 L305.72,535.40 L310.73,535.40Z" fill="#fff" stroke="#fff" stroke-width="13.00" stroke-linejoin="round"/><path d="M345.77,382.60 L345.77,387.60 L342.58,390.80 L337.57,390.80 L334.38,387.60 L334.38,382.60 L337.57,379.40 L342.58,379.40Z" fill="#fff" stroke="#fff" stroke-width="13.00" stroke-linejoin="round"/><path d="M345.77,413.80 L345.77,418.80 L342.58,422.00 L337.57,422.00 L334.38,418.80 L334.38,413.80 L337.57,410.60 L342.58,410.60Z" fill="#fff" stroke="#fff" stroke-width="13.00" stroke-linejoin="round"/><path d="M345.77,445.00 L345.77,450.00 L342.58,453.20 L337.57,453.20 L334.38,450.00 L334.38,445.00 L337.57,441.80 L342.58,441.80Z" fill="#fff" stroke="#fff" stroke-width="13.00" stroke-linejoin="round"/><path d="M345.77,476.20 L345.77,481.20 L342.58,484.40 L337.57,484.40 L334.38,481.20 L334.38,476.20 L337.57,473.00 L342.58,473.00Z" fill="#fff" stroke="#fff" stroke-width="13.00" stroke-linejoin="round"/><path d="M345.77,507.40 L345.77,512.40 L342.58,515.60 L337.57,515.60 L334.38,512.40 L334.38,507.40 L337.57,504.20 L342.58,504.20Z" fill="#fff" stroke="#fff" stroke-width="13.00" stroke-linejoin="round"/><path d="M345.77,538.60 L345.77,543.60 L342.58,546.80 L337.57,546.80 L334.38,543.60 L334.38,538.60 L337.57,535.40 L342.58,535.40Z" fill="#fff" stroke="#fff" stroke-width="13.00" stroke-linejoin="round"/><path d="M377.62,382.60 L377.62,387.60 L374.43,390.80 L369.42,390.80 L366.23,387.60 L366.23,382.60 L369.42,379.40 L374.43,379.40Z" fill="#fff" stroke="#fff" stroke-width="13.00" stroke-linejoin="round"/><path d="M377.62,413.80 L377.62,418.80 L374.43,422.00 L369.42,422.00 L366.23,418.80 L366.23,413.80 L369.42,410.60 L374.43,410.60Z" fill="#fff" stroke="#fff" stroke-width="13.00" stroke-linejoin="round"/><path d="M377.62,445.00 L377.62,450.00 L374.43,453.20 L369.42,453.20 L366.23,450.00 L366.23,445.00 L369.42,441.80 L374.43,441.80Z" fill="#fff" stroke="#fff" stroke-width="13.00" stroke-linejoin="round"/><path d="M377.62,476.20 L377.62,481.20 L374.43,484.40 L369.42,484.40 L366.23,481.20 L366.23,476.20 L369.42,473.00 L374.43,473.00Z" fill="#fff" stroke="#fff" stroke-width="13.00" stroke-linejoin="round"/><path d="M377.62,507.40 L377.62,512.40 L374.43,515.60 L369.42,515.60 L366.23,512.40 L366.23,507.40 L369.42,504.20 L374.43,504.20Z" fill="#fff" stroke="#fff" stroke-width="13.00" stroke-linejoin="round"/><path d="M377.62,538.60 L377.62,543.60 L374.43,546.80 L369.42,546.80 L366.23,543.60 L366.23,538.60 L369.42,535.40 L374.43,535.40Z" fill="#fff" stroke="#fff" stroke-width="13.00" stroke-linejoin="round"/></g></g>
<g clip-path="url(#c3)"><rect x="386" y="385" width="154.00" height="155.00" fill="#3aa6c0"/>
<ellipse cx="411.40" cy="409.30" rx="19.30" ry="19.30" fill="#d85a2c"/>
<ellipse cx="411.40" cy="460.60" rx="19.50" ry="19.50" fill="#38a8c8"/>
<ellipse cx="411.40" cy="511.90" rx="19.50" ry="19.50" fill="#38a8c8"/>
<ellipse cx="462.40" cy="409.30" rx="19.30" ry="19.30" fill="#d85a2c"/>
<ellipse cx="462.40" cy="460.60" rx="19.50" ry="19.50" fill="#38a8c8"/>
<ellipse cx="462.40" cy="511.90" rx="19.50" ry="19.50" fill="#38a8c8"/>
<ellipse cx="513.40" cy="409.30" rx="19.30" ry="19.30" fill="#d85a2c"/>
<ellipse cx="513.40" cy="460.60" rx="19.50" ry="19.50" fill="#38a8c8"/>
<ellipse cx="513.40" cy="511.90" rx="19.50" ry="19.50" fill="#38a8c8"/>
<rect x="403.90" y="385.00" width="15.00" height="24.30" fill="url(#g3v)"/>
<rect x="403.90" y="409.30" width="15.00" height="51.30" fill="url(#g3v)"/>
<rect x="405.65" y="460.60" width="11.50" height="51.30" fill="url(#g3v)"/>
<rect x="405.65" y="511.90" width="11.50" height="28.10" fill="url(#g3v)"/>
<rect x="454.90" y="385.00" width="15.00" height="24.30" fill="url(#g3v)"/>
<rect x="454.90" y="409.30" width="15.00" height="51.30" fill="url(#g3v)"/>
<rect x="456.65" y="460.60" width="11.50" height="51.30" fill="url(#g3v)"/>
<rect x="456.65" y="511.90" width="11.50" height="28.10" fill="url(#g3v)"/>
<rect x="505.90" y="385.00" width="15.00" height="24.30" fill="url(#g3v)"/>
<rect x="505.90" y="409.30" width="15.00" height="51.30" fill="url(#g3v)"/>
<rect x="507.65" y="460.60" width="11.50" height="51.30" fill="url(#g3v)"/>
<rect x="507.65" y="511.90" width="11.50" height="28.10" fill="url(#g3v)"/>
<rect x="386.00" y="402.00" width="25.40" height="14.60" fill="#2a50b4"/>
<rect x="411.40" y="402.00" width="51.00" height="14.60" fill="#2a50b4"/>
<rect x="462.40" y="402.00" width="51.00" height="14.60" fill="#2a50b4"/>
<rect x="513.40" y="402.00" width="26.60" height="14.60" fill="#2a50b4"/>
<rect x="386.00" y="455.10" width="25.40" height="11.00" fill="#2a56b4"/>
<rect x="411.40" y="455.10" width="51.00" height="11.00" fill="#2a56b4"/>
<rect x="462.40" y="455.10" width="51.00" height="11.00" fill="#2a56b4"/>
<rect x="513.40" y="455.10" width="26.60" height="11.00" fill="#2a56b4"/>
<rect x="386.00" y="504.90" width="25.40" height="14.00" fill="#243896"/>
<rect x="411.40" y="504.90" width="51.00" height="14.00" fill="#243896"/>
<rect x="462.40" y="504.90" width="51.00" height="14.00" fill="#243896"/>
<rect x="513.40" y="504.90" width="26.60" height="14.00" fill="#243896"/>
<g filter="url(#sb)">
<ellipse cx="407.40" cy="393.30" rx="3.00" ry="4.00" fill="#d84a2a"/>
<ellipse cx="415.40" cy="393.30" rx="3.00" ry="4.00" fill="#e09a30"/>
<ellipse cx="407.90" cy="425.30" rx="2.80" ry="3.50" fill="#d85a2a"/>
<ellipse cx="414.90" cy="425.30" rx="2.80" ry="3.50" fill="#c8b840"/>
<ellipse cx="394.40" cy="409.30" rx="3.00" ry="3.50" fill="#40b0a0"/>
<ellipse cx="428.40" cy="409.30" rx="3.00" ry="3.50" fill="#40b0a0"/>
<ellipse cx="458.40" cy="393.30" rx="3.00" ry="4.00" fill="#d84a2a"/>
<ellipse cx="466.40" cy="393.30" rx="3.00" ry="4.00" fill="#e09a30"/>
<ellipse cx="458.90" cy="425.30" rx="2.80" ry="3.50" fill="#d85a2a"/>
<ellipse cx="465.90" cy="425.30" rx="2.80" ry="3.50" fill="#c8b840"/>
<ellipse cx="445.40" cy="409.30" rx="3.00" ry="3.50" fill="#40b0a0"/>
<ellipse cx="479.40" cy="409.30" rx="3.00" ry="3.50" fill="#40b0a0"/>
<ellipse cx="509.40" cy="393.30" rx="3.00" ry="4.00" fill="#d84a2a"/>
<ellipse cx="517.40" cy="393.30" rx="3.00" ry="4.00" fill="#e09a30"/>
<ellipse cx="509.90" cy="425.30" rx="2.80" ry="3.50" fill="#d85a2a"/>
<ellipse cx="516.90" cy="425.30" rx="2.80" ry="3.50" fill="#c8b840"/>
<ellipse cx="496.40" cy="409.30" rx="3.00" ry="3.50" fill="#40b0a0"/>
<ellipse cx="530.40" cy="409.30" rx="3.00" ry="3.50" fill="#40b0a0"/>
</g>
<path d="M411.40,399.70 Q416.05,404.65 421.00,409.30 Q416.05,413.95 411.40,418.90 Q406.75,413.95 401.80,409.30 Q406.75,404.65 411.40,399.70Z" fill="#2444ac"/>
<path d="M411.40,453.30 Q416.40,455.60 418.70,460.60 Q416.40,465.60 411.40,467.90 Q406.40,465.60 404.10,460.60 Q406.40,455.60 411.40,453.30Z" fill="#2444ac"/>
<path d="M411.40,504.60 Q416.40,506.90 418.70,511.90 Q416.40,516.90 411.40,519.20 Q406.40,516.90 404.10,511.90 Q406.40,506.90 411.40,504.60Z" fill="#2848b0"/>
<path d="M462.40,399.70 Q467.05,404.65 472.00,409.30 Q467.05,413.95 462.40,418.90 Q457.75,413.95 452.80,409.30 Q457.75,404.65 462.40,399.70Z" fill="#2444ac"/>
<path d="M462.40,453.30 Q467.40,455.60 469.70,460.60 Q467.40,465.60 462.40,467.90 Q457.40,465.60 455.10,460.60 Q457.40,455.60 462.40,453.30Z" fill="#2444ac"/>
<path d="M462.40,504.60 Q467.40,506.90 469.70,511.90 Q467.40,516.90 462.40,519.20 Q457.40,516.90 455.10,511.90 Q457.40,506.90 462.40,504.60Z" fill="#2848b0"/>
<path d="M513.40,399.70 Q518.05,404.65 523.00,409.30 Q518.05,413.95 513.40,418.90 Q508.75,413.95 503.80,409.30 Q508.75,404.65 513.40,399.70Z" fill="#2444ac"/>
<path d="M513.40,453.30 Q518.40,455.60 520.70,460.60 Q518.40,465.60 513.40,467.90 Q508.40,465.60 506.10,460.60 Q508.40,455.60 513.40,453.30Z" fill="#2444ac"/>
<path d="M513.40,504.60 Q518.40,506.90 520.70,511.90 Q518.40,516.90 513.40,519.20 Q508.40,516.90 506.10,511.90 Q508.40,506.90 513.40,504.60Z" fill="#2848b0"/>
<use href="#h3" filter="url(#fh3)"/>
<g id="h3"><path d="M408.50,401.20 L408.50,396.63 A13.00,13.00 0 0 0 398.73,406.40 L403.30,406.40 Z" fill="#fff" stroke="#fff" stroke-width="2.40" stroke-linejoin="round"/><path d="M408.50,417.40 L408.50,421.97 A13.00,13.00 0 0 1 398.73,412.20 L403.30,412.20 Z" fill="#fff" stroke="#fff" stroke-width="2.40" stroke-linejoin="round"/><path d="M414.30,401.20 L414.30,396.63 A13.00,13.00 0 0 1 424.07,406.40 L419.50,406.40 Z" fill="#fff" stroke="#fff" stroke-width="2.40" stroke-linejoin="round"/><path d="M414.30,417.40 L414.30,421.97 A13.00,13.00 0 0 0 424.07,412.20 L419.50,412.20 Z" fill="#fff" stroke="#fff" stroke-width="2.40" stroke-linejoin="round"/><ellipse cx="401.40" cy="450.60" rx="5.80" ry="2.00" transform="rotate(-45 401.40 450.60)" fill="#fff"/><ellipse cx="401.40" cy="470.60" rx="5.80" ry="2.00" transform="rotate(45 401.40 470.60)" fill="#fff"/><ellipse cx="421.40" cy="450.60" rx="5.80" ry="2.00" transform="rotate(45 421.40 450.60)" fill="#fff"/><ellipse cx="421.40" cy="470.60" rx="5.80" ry="2.00" transform="rotate(-45 421.40 470.60)" fill="#fff"/><ellipse cx="401.40" cy="501.90" rx="5.80" ry="2.00" transform="rotate(-45 401.40 501.90)" fill="#fff"/><ellipse cx="401.40" cy="521.90" rx="5.80" ry="2.00" transform="rotate(45 401.40 521.90)" fill="#fff"/><ellipse cx="421.40" cy="501.90" rx="5.80" ry="2.00" transform="rotate(45 421.40 501.90)" fill="#fff"/><ellipse cx="421.40" cy="521.90" rx="5.80" ry="2.00" transform="rotate(-45 421.40 521.90)" fill="#fff"/><path d="M459.50,401.20 L459.50,396.63 A13.00,13.00 0 0 0 449.73,406.40 L454.30,406.40 Z" fill="#fff" stroke="#fff" stroke-width="2.40" stroke-linejoin="round"/><path d="M459.50,417.40 L459.50,421.97 A13.00,13.00 0 0 1 449.73,412.20 L454.30,412.20 Z" fill="#fff" stroke="#fff" stroke-width="2.40" stroke-linejoin="round"/><path d="M465.30,401.20 L465.30,396.63 A13.00,13.00 0 0 1 475.07,406.40 L470.50,406.40 Z" fill="#fff" stroke="#fff" stroke-width="2.40" stroke-linejoin="round"/><path d="M465.30,417.40 L465.30,421.97 A13.00,13.00 0 0 0 475.07,412.20 L470.50,412.20 Z" fill="#fff" stroke="#fff" stroke-width="2.40" stroke-linejoin="round"/><ellipse cx="452.40" cy="450.60" rx="5.80" ry="2.00" transform="rotate(-45 452.40 450.60)" fill="#fff"/><ellipse cx="452.40" cy="470.60" rx="5.80" ry="2.00" transform="rotate(45 452.40 470.60)" fill="#fff"/><ellipse cx="472.40" cy="450.60" rx="5.80" ry="2.00" transform="rotate(45 472.40 450.60)" fill="#fff"/><ellipse cx="472.40" cy="470.60" rx="5.80" ry="2.00" transform="rotate(-45 472.40 470.60)" fill="#fff"/><ellipse cx="452.40" cy="501.90" rx="5.80" ry="2.00" transform="rotate(-45 452.40 501.90)" fill="#fff"/><ellipse cx="452.40" cy="521.90" rx="5.80" ry="2.00" transform="rotate(45 452.40 521.90)" fill="#fff"/><ellipse cx="472.40" cy="501.90" rx="5.80" ry="2.00" transform="rotate(45 472.40 501.90)" fill="#fff"/><ellipse cx="472.40" cy="521.90" rx="5.80" ry="2.00" transform="rotate(-45 472.40 521.90)" fill="#fff"/><path d="M510.50,401.20 L510.50,396.63 A13.00,13.00 0 0 0 500.73,406.40 L505.30,406.40 Z" fill="#fff" stroke="#fff" stroke-width="2.40" stroke-linejoin="round"/><path d="M510.50,417.40 L510.50,421.97 A13.00,13.00 0 0 1 500.73,412.20 L505.30,412.20 Z" fill="#fff" stroke="#fff" stroke-width="2.40" stroke-linejoin="round"/><path d="M516.30,401.20 L516.30,396.63 A13.00,13.00 0 0 1 526.07,406.40 L521.50,406.40 Z" fill="#fff" stroke="#fff" stroke-width="2.40" stroke-linejoin="round"/><path d="M516.30,417.40 L516.30,421.97 A13.00,13.00 0 0 0 526.07,412.20 L521.50,412.20 Z" fill="#fff" stroke="#fff" stroke-width="2.40" stroke-linejoin="round"/><ellipse cx="503.40" cy="450.60" rx="5.80" ry="2.00" transform="rotate(-45 503.40 450.60)" fill="#fff"/><ellipse cx="503.40" cy="470.60" rx="5.80" ry="2.00" transform="rotate(45 503.40 470.60)" fill="#fff"/><ellipse cx="523.40" cy="450.60" rx="5.80" ry="2.00" transform="rotate(45 523.40 450.60)" fill="#fff"/><ellipse cx="523.40" cy="470.60" rx="5.80" ry="2.00" transform="rotate(-45 523.40 470.60)" fill="#fff"/><ellipse cx="503.40" cy="501.90" rx="5.80" ry="2.00" transform="rotate(-45 503.40 501.90)" fill="#fff"/><ellipse cx="503.40" cy="521.90" rx="5.80" ry="2.00" transform="rotate(45 503.40 521.90)" fill="#fff"/><ellipse cx="523.40" cy="501.90" rx="5.80" ry="2.00" transform="rotate(45 523.40 501.90)" fill="#fff"/><ellipse cx="523.40" cy="521.90" rx="5.80" ry="2.00" transform="rotate(-45 523.40 521.90)" fill="#fff"/><path d="M397.30,379.21 L397.30,388.09 L390.34,395.05 L381.46,395.05 L374.50,388.09 L374.50,379.21 L381.46,372.25 L390.34,372.25Z" fill="#fff" stroke="#fff" stroke-width="12.00" stroke-linejoin="round"/><path d="M397.30,430.51 L397.30,439.39 L390.34,446.35 L381.46,446.35 L374.50,439.39 L374.50,430.51 L381.46,423.55 L390.34,423.55Z" fill="#fff" stroke="#fff" stroke-width="12.00" stroke-linejoin="round"/><path d="M398.10,481.48 L398.10,491.02 L390.67,498.45 L381.13,498.45 L373.70,491.02 L373.70,481.48 L381.13,474.05 L390.67,474.05Z" fill="#fff" stroke="#fff" stroke-width="13.00" stroke-linejoin="round"/><path d="M398.10,532.78 L398.10,542.32 L390.67,549.75 L381.13,549.75 L373.70,542.32 L373.70,532.78 L381.13,525.35 L390.67,525.35Z" fill="#fff" stroke="#fff" stroke-width="13.00" stroke-linejoin="round"/><path d="M448.30,379.21 L448.30,388.09 L441.34,395.05 L432.46,395.05 L425.50,388.09 L425.50,379.21 L432.46,372.25 L441.34,372.25Z" fill="#fff" stroke="#fff" stroke-width="12.00" stroke-linejoin="round"/><path d="M448.30,430.51 L448.30,439.39 L441.34,446.35 L432.46,446.35 L425.50,439.39 L425.50,430.51 L432.46,423.55 L441.34,423.55Z" fill="#fff" stroke="#fff" stroke-width="12.00" stroke-linejoin="round"/><path d="M449.10,481.48 L449.10,491.02 L441.67,498.45 L432.13,498.45 L424.70,491.02 L424.70,481.48 L432.13,474.05 L441.67,474.05Z" fill="#fff" stroke="#fff" stroke-width="13.00" stroke-linejoin="round"/><path d="M449.10,532.78 L449.10,542.32 L441.67,549.75 L432.13,549.75 L424.70,542.32 L424.70,532.78 L432.13,525.35 L441.67,525.35Z" fill="#fff" stroke="#fff" stroke-width="13.00" stroke-linejoin="round"/><path d="M499.30,379.21 L499.30,388.09 L492.34,395.05 L483.46,395.05 L476.50,388.09 L476.50,379.21 L483.46,372.25 L492.34,372.25Z" fill="#fff" stroke="#fff" stroke-width="12.00" stroke-linejoin="round"/><path d="M499.30,430.51 L499.30,439.39 L492.34,446.35 L483.46,446.35 L476.50,439.39 L476.50,430.51 L483.46,423.55 L492.34,423.55Z" fill="#fff" stroke="#fff" stroke-width="12.00" stroke-linejoin="round"/><path d="M500.10,481.48 L500.10,491.02 L492.67,498.45 L483.13,498.45 L475.70,491.02 L475.70,481.48 L483.13,474.05 L492.67,474.05Z" fill="#fff" stroke="#fff" stroke-width="13.00" stroke-linejoin="round"/><path d="M500.10,532.78 L500.10,542.32 L492.67,549.75 L483.13,549.75 L475.70,542.32 L475.70,532.78 L483.13,525.35 L492.67,525.35Z" fill="#fff" stroke="#fff" stroke-width="13.00" stroke-linejoin="round"/><path d="M550.30,379.21 L550.30,388.09 L543.34,395.05 L534.46,395.05 L527.50,388.09 L527.50,379.21 L534.46,372.25 L543.34,372.25Z" fill="#fff" stroke="#fff" stroke-width="12.00" stroke-linejoin="round"/><path d="M550.30,430.51 L550.30,439.39 L543.34,446.35 L534.46,446.35 L527.50,439.39 L527.50,430.51 L534.46,423.55 L543.34,423.55Z" fill="#fff" stroke="#fff" stroke-width="12.00" stroke-linejoin="round"/><path d="M551.10,481.48 L551.10,491.02 L543.67,498.45 L534.13,498.45 L526.70,491.02 L526.70,481.48 L534.13,474.05 L543.67,474.05Z" fill="#fff" stroke="#fff" stroke-width="13.00" stroke-linejoin="round"/><path d="M551.10,532.78 L551.10,542.32 L543.67,549.75 L534.13,549.75 L526.70,542.32 L526.70,532.78 L534.13,525.35 L543.67,525.35Z" fill="#fff" stroke="#fff" stroke-width="13.00" stroke-linejoin="round"/></g></g>
</svg>
</body></html>
